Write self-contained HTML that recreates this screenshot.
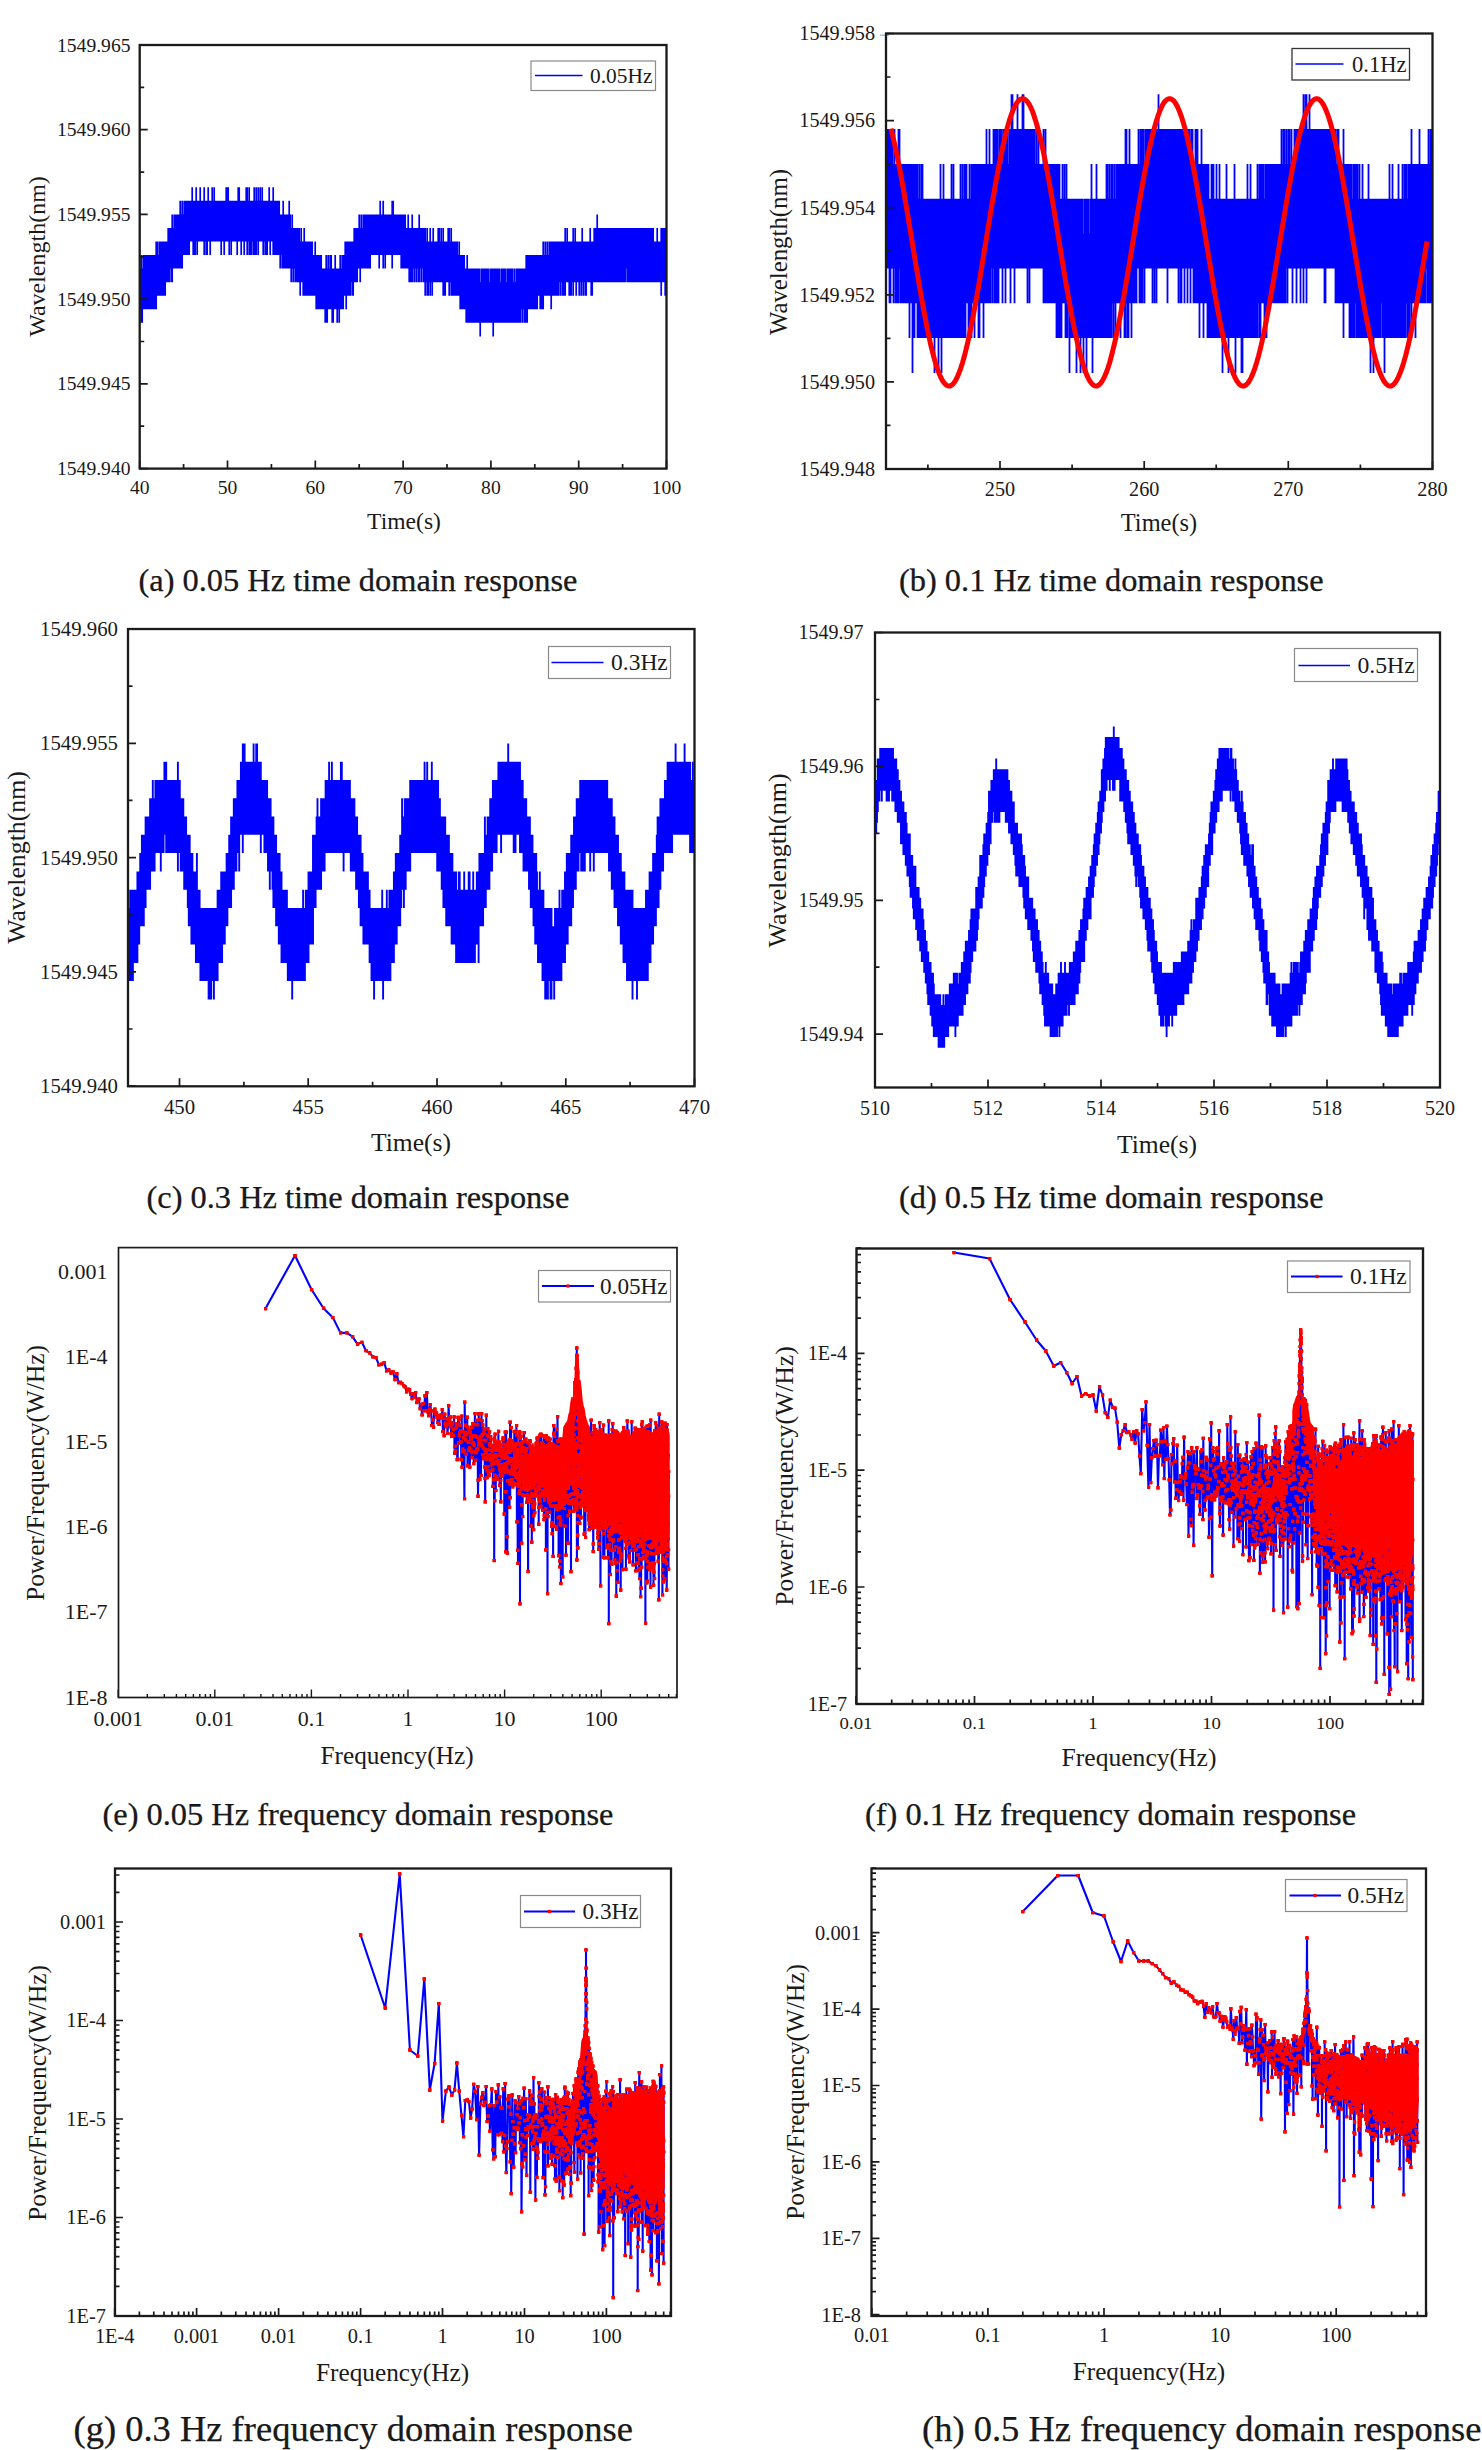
<!DOCTYPE html><html><head><meta charset="utf-8"><title>Time and frequency domain response</title>
<style>html,body{margin:0;padding:0;background:#fff}svg{display:block}text{font-family:"Liberation Serif",serif;fill:#1a1a1a}</style></head><body>
<svg width="1482" height="2450" viewBox="0 0 1482 2450">
<defs><marker id="mk" markerUnits="userSpaceOnUse" markerWidth="4" markerHeight="4" refX="1.9" refY="1.9" viewBox="0 0 4 4"><rect width="3.8" height="3.8" rx=".8" fill="#ff0000"/></marker></defs>
<rect width="1482" height="2450" fill="#fff"/>
<g id="panel-a">
<path d="M140.9 268.6V309.3M141.2 255.1V322.8M142.2 268.6V322.8M143.2 255.1V309.3M144.2 255.1V309.3M145.2 255.1V309.3M146.2 255.1V309.3M147.2 255.1V309.3M148.2 255.1V309.3M149.2 255.1V309.3M150.2 255.1V309.3M151.2 255.1V309.3M152.2 255.1V309.3M153.2 255.1V309.3M154.2 255.1V309.3M155.2 255.1V309.3M156.2 241.5V309.3M157.2 241.5V295.7M158.2 255.1V295.7M159.2 241.5V295.7M160.2 241.5V295.7M161.2 241.5V295.7M162.2 241.5V295.7M163.2 241.5V295.7M164.2 241.5V295.7M165.2 241.5V295.7M166.2 241.5V282.2M167.2 241.5V282.2M168.2 228V282.2M169.2 228V282.2M170.2 228V268.6M171.2 228V282.2M172.2 214.4V282.2M173.2 228V268.6M174.2 214.4V268.6M175.2 214.4V268.6M176.2 214.4V268.6M177.2 214.4V268.6M178.2 214.4V268.6M179.2 214.4V268.6M180.2 200.8V268.6M181.2 214.4V268.6M182.2 200.8V268.6M183.2 214.4V255.1M184.2 200.8V255.1M185.2 200.8V255.1M186.2 200.8V255.1M187.2 200.8V255.1M188.2 200.8V255.1M189.2 200.8V255.1M190.2 200.8V241.5M191.2 200.8V241.5M192.2 187.3V241.5M193.2 200.8V255.1M194.2 200.8V255.1M195.2 200.8V255.1M196.2 187.3V241.5M197.2 200.8V255.1M198.2 200.8V241.5M199.2 200.8V241.5M200.2 187.3V241.5M201.2 200.8V241.5M202.2 200.8V241.5M203.2 200.8V241.5M204.2 187.3V255.1M205.2 200.8V241.5M206.2 200.8V255.1M207.2 200.8V255.1M208.2 187.3V241.5M209.2 200.8V241.5M210.2 200.8V255.1M211.2 200.8V241.5M212.2 187.3V241.5M213.2 200.8V241.5M214.2 187.3V241.5M215.2 200.8V241.5M216.2 200.8V241.5M217.2 200.8V241.5M218.2 200.8V241.5M219.2 200.8V241.5M220.2 200.8V241.5M221.2 200.8V255.1M222.2 200.8V241.5M223.2 200.8V241.5M224.2 200.8V255.1M225.2 200.8V241.5M226.2 187.3V241.5M227.2 187.3V241.5M228.2 187.3V241.5M229.2 200.8V255.1M230.2 200.8V241.5M231.2 200.8V255.1M232.2 200.8V241.5M233.2 200.8V241.5M234.2 200.8V241.5M235.2 200.8V241.5M236.2 200.8V241.5M237.2 200.8V255.1M238.2 187.3V241.5M239.2 187.3V241.5M240.2 200.8V241.5M241.2 200.8V255.1M242.2 200.8V241.5M243.2 200.8V241.5M244.2 200.8V255.1M245.2 200.8V241.5M246.2 187.3V241.5M247.2 187.3V255.1M248.2 200.8V241.5M249.2 187.3V255.1M250.2 200.8V255.1M251.2 200.8V255.1M252.2 200.8V241.5M253.2 200.8V255.1M254.2 187.3V255.1M255.2 200.8V255.1M256.2 187.3V255.1M257.2 200.8V241.5M258.2 187.3V255.1M259.2 200.8V241.5M260.2 187.3V241.5M261.2 200.8V241.5M262.2 187.3V241.5M263.2 200.8V255.1M264.2 200.8V241.5M265.2 200.8V255.1M266.2 200.8V255.1M267.2 200.8V255.1M268.2 200.8V241.5M269.2 187.3V241.5M270.2 200.8V255.1M271.2 200.8V241.5M272.2 200.8V241.5M273.2 187.3V255.1M274.2 200.8V255.1M275.2 200.8V255.1M276.2 200.8V255.1M277.2 200.8V255.1M278.2 200.8V255.1M279.2 200.8V255.1M280.2 214.4V268.6M281.2 214.4V255.1M282.2 214.4V268.6M283.2 200.8V268.6M284.2 214.4V268.6M285.2 214.4V268.6M286.2 214.4V268.6M287.2 214.4V268.6M288.2 214.4V268.6M289.2 200.8V268.6M290.2 214.4V268.6M291.2 228V282.2M292.2 214.4V268.6M293.2 228V282.2M294.2 228V268.6M295.2 228V282.2M296.2 228V282.2M297.2 228V282.2M298.2 228V282.2M299.2 228V282.2M300.2 241.5V295.7M301.2 228V282.2M302.2 241.5V282.2M303.2 241.5V295.7M304.2 228V295.7M305.2 241.5V295.7M306.2 241.5V295.7M307.2 241.5V295.7M308.2 241.5V295.7M309.2 241.5V295.7M310.2 241.5V295.7M311.2 241.5V295.7M312.2 241.5V295.7M313.2 255.1V295.7M314.2 255.1V295.7M315.2 241.5V295.7M316.2 255.1V309.3M317.2 255.1V309.3M318.2 255.1V309.3M319.2 255.1V309.3M320.2 255.1V309.3M321.2 255.1V309.3M322.2 268.6V309.3M323.2 268.6V309.3M324.2 268.6V309.3M325.2 268.6V322.8M326.2 255.1V322.8M327.2 268.6V322.8M328.2 255.1V309.3M329.2 268.6V309.3M330.2 255.1V309.3M331.2 255.1V309.3M332.2 268.6V322.8M333.2 268.6V322.8M334.2 268.6V309.3M335.2 255.1V309.3M336.2 268.6V309.3M337.2 268.6V322.8M338.2 268.6V309.3M339.2 268.6V322.8M340.2 255.1V309.3M341.2 268.6V309.3M342.2 255.1V309.3M343.2 255.1V309.3M344.2 255.1V295.7M345.2 241.5V295.7M346.2 241.5V309.3M347.2 241.5V295.7M348.2 241.5V295.7M349.2 241.5V295.7M350.2 241.5V295.7M351.2 241.5V282.2M352.2 241.5V295.7M353.2 241.5V295.7M354.2 228V282.2M355.2 228V282.2M356.2 228V282.2M357.2 228V282.2M358.2 228V268.6M359.2 214.4V268.6M360.2 228V282.2M361.2 214.4V268.6M362.2 228V268.6M363.2 214.4V268.6M364.2 214.4V268.6M365.2 214.4V268.6M366.2 214.4V268.6M367.2 214.4V268.6M368.2 214.4V268.6M369.2 214.4V268.6M370.2 214.4V268.6M371.2 214.4V255.1M372.2 214.4V255.1M373.2 214.4V255.1M374.2 214.4V255.1M375.2 214.4V255.1M376.2 214.4V255.1M377.2 214.4V255.1M378.2 214.4V255.1M379.2 214.4V268.6M380.2 200.8V255.1M381.2 214.4V255.1M382.2 214.4V255.1M383.2 200.8V268.6M384.2 214.4V255.1M385.2 214.4V268.6M386.2 214.4V255.1M387.2 214.4V255.1M388.2 214.4V255.1M389.2 214.4V255.1M390.2 214.4V255.1M391.2 214.4V255.1M392.2 200.8V268.6M393.2 200.8V255.1M394.2 214.4V255.1M395.2 214.4V255.1M396.2 214.4V255.1M397.2 214.4V255.1M398.2 214.4V255.1M399.2 214.4V255.1M400.2 214.4V255.1M401.2 214.4V268.6M402.2 214.4V268.6M403.2 214.4V268.6M404.2 214.4V268.6M405.2 214.4V268.6M406.2 228V268.6M407.2 228V268.6M408.2 214.4V268.6M409.2 228V282.2M410.2 228V282.2M411.2 228V282.2M412.2 214.4V282.2M413.2 228V268.6M414.2 228V282.2M415.2 228V268.6M416.2 228V282.2M417.2 228V268.6M418.2 228V282.2M419.2 214.4V282.2M420.2 228V268.6M421.2 228V282.2M422.2 228V268.6M423.2 228V282.2M424.2 228V282.2M425.2 228V295.7M426.2 241.5V282.2M427.2 228V295.7M428.2 241.5V295.7M429.2 241.5V282.2M430.2 228V295.7M431.2 241.5V282.2M432.2 241.5V295.7M433.2 228V282.2M434.2 241.5V282.2M435.2 241.5V282.2M436.2 241.5V282.2M437.2 241.5V282.2M438.2 228V282.2M439.2 228V282.2M440.2 241.5V282.2M441.2 228V282.2M442.2 241.5V282.2M443.2 228V295.7M444.2 241.5V295.7M445.2 241.5V295.7M446.2 241.5V282.2M447.2 241.5V282.2M448.2 228V282.2M449.2 228V295.7M450.2 241.5V282.2M451.2 228V295.7M452.2 241.5V295.7M453.2 241.5V295.7M454.2 241.5V295.7M455.2 241.5V295.7M456.2 241.5V295.7M457.2 241.5V295.7M458.2 255.1V295.7M459.2 241.5V295.7M460.2 255.1V309.3M461.2 255.1V309.3M462.2 255.1V309.3M463.2 255.1V309.3M464.2 255.1V309.3M465.2 268.6V309.3M466.2 268.6V322.8M467.2 255.1V322.8M468.2 268.6V322.8M469.2 268.6V322.8M470.2 268.6V322.8M471.2 268.6V322.8M472.2 268.6V322.8M473.2 268.6V322.8M474.2 268.6V322.8M475.2 268.6V322.8M476.2 268.6V322.8M477.2 268.6V322.8M478.2 268.6V322.8M479.2 268.6V322.8M480.2 282.2V336.4M481.2 268.6V322.8M482.2 268.6V322.8M483.2 268.6V322.8M484.2 268.6V322.8M485.2 268.6V322.8M486.2 268.6V322.8M487.2 268.6V322.8M488.2 268.6V322.8M489.2 282.2V322.8M490.2 268.6V322.8M491.2 268.6V322.8M492.2 268.6V322.8M493.2 268.6V336.4M494.2 268.6V322.8M495.2 268.6V322.8M496.2 268.6V322.8M497.2 268.6V322.8M498.2 268.6V322.8M499.2 268.6V322.8M500.2 282.2V322.8M501.2 268.6V322.8M502.2 268.6V322.8M503.2 268.6V322.8M504.2 268.6V322.8M505.2 268.6V322.8M506.2 282.2V322.8M507.2 268.6V322.8M508.2 268.6V322.8M509.2 268.6V322.8M510.2 268.6V322.8M511.2 268.6V322.8M512.2 268.6V322.8M513.2 282.2V322.8M514.2 268.6V322.8M515.2 282.2V322.8M516.2 268.6V322.8M517.2 268.6V322.8M518.2 268.6V322.8M519.2 268.6V322.8M520.2 268.6V322.8M521.2 268.6V309.3M522.2 268.6V322.8M523.2 268.6V309.3M524.2 268.6V322.8M525.2 268.6V322.8M526.2 255.1V322.8M527.2 255.1V322.8M528.2 255.1V309.3M529.2 255.1V309.3M530.2 255.1V309.3M531.2 255.1V309.3M532.2 255.1V309.3M533.2 255.1V309.3M534.2 255.1V309.3M535.2 255.1V309.3M536.2 255.1V309.3M537.2 255.1V309.3M538.2 255.1V295.7M539.2 255.1V295.7M540.2 255.1V309.3M541.2 255.1V309.3M542.2 255.1V309.3M543.2 241.5V309.3M544.2 255.1V295.7M545.2 241.5V295.7M546.2 255.1V295.7M547.2 241.5V295.7M548.2 255.1V295.7M549.2 241.5V295.7M550.2 241.5V295.7M551.2 241.5V309.3M552.2 241.5V295.7M553.2 241.5V295.7M554.2 241.5V295.7M555.2 241.5V295.7M556.2 241.5V295.7M557.2 241.5V295.7M558.2 241.5V295.7M559.2 241.5V282.2M560.2 241.5V295.7M561.2 241.5V282.2M562.2 241.5V295.7M563.2 241.5V295.7M564.2 241.5V295.7M565.2 228V295.7M566.2 241.5V282.2M567.2 228V282.2M568.2 241.5V282.2M569.2 241.5V295.7M570.2 241.5V295.7M571.2 241.5V295.7M572.2 241.5V282.2M573.2 228V295.7M574.2 241.5V282.2M575.2 228V282.2M576.2 241.5V295.7M577.2 241.5V282.2M578.2 241.5V282.2M579.2 241.5V295.7M580.2 241.5V282.2M581.2 241.5V295.7M582.2 228V282.2M583.2 241.5V295.7M584.2 241.5V282.2M585.2 241.5V295.7M586.2 241.5V295.7M587.2 241.5V282.2M588.2 241.5V282.2M589.2 241.5V282.2M590.2 228V282.2M591.2 241.5V295.7M592.2 241.5V295.7M593.2 241.5V282.2M594.2 228V282.2M595.2 228V282.2M596.2 228V282.2M597.2 214.4V282.2M598.2 228V282.2M599.2 228V282.2M600.2 228V282.2M601.2 228V282.2M602.2 228V282.2M603.2 228V282.2M604.2 228V282.2M605.2 228V282.2M606.2 228V282.2M607.2 228V282.2M608.2 228V282.2M609.2 228V282.2M610.2 228V282.2M611.2 228V282.2M612.2 228V282.2M613.2 228V282.2M614.2 228V282.2M615.2 228V282.2M616.2 228V282.2M617.2 228V282.2M618.2 228V282.2M619.2 228V282.2M620.2 228V282.2M621.2 228V282.2M622.2 228V282.2M623.2 228V282.2M624.2 228V282.2M625.2 228V282.2M626.2 228V268.6M627.2 228V282.2M628.2 228V282.2M629.2 228V282.2M630.2 228V282.2M631.2 228V282.2M632.2 228V282.2M633.2 228V282.2M634.2 228V282.2M635.2 228V282.2M636.2 228V282.2M637.2 228V282.2M638.2 228V282.2M639.2 228V282.2M640.2 228V282.2M641.2 228V282.2M642.2 228V282.2M643.2 228V282.2M644.2 228V282.2M645.2 228V282.2M646.2 228V282.2M647.2 228V282.2M648.2 228V282.2M649.2 228V282.2M650.2 228V282.2M651.2 228V282.2M652.2 228V282.2M653.2 228V282.2M654.2 241.5V282.2M655.2 241.5V282.2M656.2 241.5V282.2M657.2 228V282.2M658.2 241.5V282.2M659.2 241.5V282.2M660.2 241.5V282.2M661.2 228V295.7M662.2 228V282.2M663.2 228V282.2M664.2 228V282.2M665.2 241.5V295.7M665.3 228V295.7" fill="none" stroke="#0000ff" stroke-width="1.7"/>
<g stroke="#1a1a1a" fill="none">
<path stroke-width="1.7" d="M139.7 468.6v-8M227.5 468.6v-8M315.3 468.6v-8M403.1 468.6v-8M490.9 468.6v-8M578.7 468.6v-8M666.5 468.6v-8M139.7 45h8M139.7 129.7h8M139.7 214.4h8M139.7 299.2h8M139.7 383.9h8M139.7 468.6h8"/>
<path stroke-width="1.7" d="M183.6 468.6v-4.5M271.4 468.6v-4.5M359.2 468.6v-4.5M447 468.6v-4.5M534.8 468.6v-4.5M622.6 468.6v-4.5M139.7 87.4h4.5M139.7 172.1h4.5M139.7 256.8h4.5M139.7 341.5h4.5M139.7 426.2h4.5"/>
<rect x="139.7" y="45" width="526.8" height="423.6" stroke-width="2.3"/>
</g>
<g font-size="19.6">
<text x="139.7" y="494.1" text-anchor="middle">40</text>
<text x="227.5" y="494.1" text-anchor="middle">50</text>
<text x="315.3" y="494.1" text-anchor="middle">60</text>
<text x="403.1" y="494.1" text-anchor="middle">70</text>
<text x="490.9" y="494.1" text-anchor="middle">80</text>
<text x="578.7" y="494.1" text-anchor="middle">90</text>
<text x="666.5" y="494.1" text-anchor="middle">100</text>
<text x="130.5" y="51.6" text-anchor="end">1549.965</text>
<text x="130.5" y="136.3" text-anchor="end">1549.960</text>
<text x="130.5" y="221" text-anchor="end">1549.955</text>
<text x="130.5" y="305.7" text-anchor="end">1549.950</text>
<text x="130.5" y="390.4" text-anchor="end">1549.945</text>
<text x="130.5" y="475.2" text-anchor="end">1549.940</text>
</g>
<text x="404" y="529.4" font-size="23.6" text-anchor="middle">Time(s)</text>
<text transform="translate(45 256.5) rotate(-90)" font-size="24" text-anchor="middle">Wavelength(nm)</text>
<text x="138.5" y="590.5" font-size="32.4" fill="#000" stroke="#000" stroke-width=".25">(a) 0.05 Hz time domain response</text>
<rect x="531" y="61" width="124.5" height="29.5" fill="#fff" stroke="#8a8a8a" stroke-width="1.2"/>
<path d="M535 75.5H582.5" stroke="#0000ff" stroke-width="1.5"/>
<text x="590" y="82.7" font-size="21.4">0.05Hz</text>
</g>
<g id="panel-b">
<path d="M887.2 129.1V268.5M887.5 129.1V268.5M888.5 129.1V268.5M889.5 129.1V303.3M890.5 129.1V303.3M891.5 129.1V268.5M892.5 129.1V268.5M893.5 164V303.3M894.5 129.1V268.5M895.5 164V303.3M896.5 164V303.3M897.5 164V303.3M898.5 129.1V303.3M899.5 129.1V268.5M900.5 164V303.3M901.5 164V303.3M902.5 164V303.3M903.5 164V303.3M904.5 164V303.3M905.5 164V303.3M906.5 164V303.3M907.5 164V303.3M908.5 164V303.3M909.5 164V338.1M910.5 164V303.3M911.5 164V303.3M912.5 164V373M913.5 164V338.1M914.5 164V338.1M915.5 164V303.3M916.5 164V303.3M917.5 164V338.1M918.5 198.8V338.1M919.5 164V338.1M920.5 198.8V338.1M921.5 164V338.1M922.5 164V338.1M923.5 198.8V338.1M924.5 198.8V338.1M925.5 198.8V338.1M926.5 198.8V338.1M927.5 198.8V338.1M928.5 198.8V338.1M929.5 198.8V338.1M930.5 198.8V338.1M931.5 198.8V338.1M932.5 198.8V338.1M933.5 198.8V338.1M934.5 198.8V373M935.5 198.8V338.1M936.5 198.8V338.1M937.5 198.8V338.1M938.5 198.8V373M939.5 198.8V338.1M940.5 164V338.1M941.5 198.8V373M942.5 198.8V338.1M943.5 164V338.1M944.5 198.8V338.1M945.5 198.8V338.1M946.5 198.8V338.1M947.5 198.8V338.1M948.5 198.8V338.1M949.5 198.8V338.1M950.5 198.8V338.1M951.5 164V338.1M952.5 198.8V338.1M953.5 164V338.1M954.5 198.8V338.1M955.5 198.8V338.1M956.5 198.8V338.1M957.5 198.8V338.1M958.5 198.8V338.1M959.5 198.8V338.1M960.5 164V338.1M961.5 198.8V338.1M962.5 164V338.1M963.5 198.8V338.1M964.5 164V338.1M965.5 164V338.1M966.5 164V303.3M967.5 198.8V303.3M968.5 198.8V338.1M969.5 164V338.1M970.5 198.8V338.1M971.5 164V338.1M972.5 164V303.3M973.5 164V303.3M974.5 164V338.1M975.5 164V303.3M976.5 164V303.3M977.5 164V303.3M978.5 164V338.1M979.5 164V338.1M980.5 164V303.3M981.5 164V303.3M982.5 164V303.3M983.5 164V338.1M984.5 164V303.3M985.5 164V303.3M986.5 129.1V303.3M987.5 164V303.3M988.5 164V303.3M989.5 129.1V303.3M990.5 164V303.3M991.5 164V268.5M992.5 164V303.3M993.5 129.1V268.5M994.5 129.1V303.3M995.5 129.1V303.3M996.5 129.1V303.3M997.5 129.1V303.3M998.5 164V303.3M999.5 129.1V268.5M1000.5 129.1V268.5M1001.5 129.1V268.5M1002.5 164V303.3M1003.5 129.1V268.5M1004.5 129.1V268.5M1005.5 129.1V303.3M1006.5 129.1V268.5M1007.5 129.1V268.5M1008.5 164V268.5M1009.5 129.1V268.5M1010.5 129.1V303.3M1011.5 94.3V268.5M1012.5 94.3V268.5M1013.5 129.1V268.5M1014.5 129.1V303.3M1015.5 129.1V268.5M1016.5 129.1V268.5M1017.5 94.3V268.5M1018.5 129.1V268.5M1019.5 129.1V268.5M1020.5 129.1V268.5M1021.5 129.1V268.5M1022.5 94.3V268.5M1023.5 94.3V268.5M1024.5 129.1V268.5M1025.5 129.1V268.5M1026.5 129.1V268.5M1027.5 129.1V303.3M1028.5 129.1V268.5M1029.5 129.1V303.3M1030.5 129.1V268.5M1031.5 129.1V268.5M1032.5 129.1V268.5M1033.5 129.1V268.5M1034.5 129.1V268.5M1035.5 164V268.5M1036.5 129.1V268.5M1037.5 164V268.5M1038.5 129.1V268.5M1039.5 164V268.5M1040.5 164V268.5M1041.5 164V268.5M1042.5 164V268.5M1043.5 129.1V303.3M1044.5 164V303.3M1045.5 129.1V303.3M1046.5 164V303.3M1047.5 164V303.3M1048.5 164V303.3M1049.5 164V303.3M1050.5 164V303.3M1051.5 164V303.3M1052.5 164V303.3M1053.5 164V303.3M1054.5 164V303.3M1055.5 164V303.3M1056.5 164V338.1M1057.5 164V338.1M1058.5 164V338.1M1059.5 164V338.1M1060.5 198.8V338.1M1061.5 198.8V338.1M1062.5 164V303.3M1063.5 198.8V303.3M1064.5 164V303.3M1065.5 198.8V338.1M1066.5 164V338.1M1067.5 198.8V338.1M1068.5 198.8V303.3M1069.5 198.8V373M1070.5 198.8V338.1M1071.5 198.8V338.1M1072.5 198.8V338.1M1073.5 198.8V338.1M1074.5 198.8V338.1M1075.5 198.8V338.1M1076.5 198.8V373M1077.5 198.8V338.1M1078.5 198.8V338.1M1079.5 198.8V338.1M1080.5 198.8V373M1081.5 198.8V338.1M1082.5 198.8V338.1M1083.5 233.6V373M1084.5 198.8V338.1M1085.5 198.8V338.1M1086.5 198.8V373M1087.5 198.8V338.1M1088.5 198.8V338.1M1089.5 233.6V338.1M1090.5 198.8V338.1M1091.5 164V338.1M1092.5 198.8V373M1093.5 198.8V338.1M1094.5 198.8V338.1M1095.5 198.8V338.1M1096.5 164V338.1M1097.5 198.8V338.1M1098.5 198.8V338.1M1099.5 198.8V338.1M1100.5 198.8V338.1M1101.5 198.8V338.1M1102.5 198.8V338.1M1103.5 198.8V338.1M1104.5 198.8V338.1M1105.5 198.8V338.1M1106.5 164V338.1M1107.5 164V338.1M1108.5 198.8V338.1M1109.5 164V338.1M1110.5 198.8V338.1M1111.5 164V338.1M1112.5 164V303.3M1113.5 198.8V338.1M1114.5 164V303.3M1115.5 198.8V338.1M1116.5 164V303.3M1117.5 164V303.3M1118.5 164V303.3M1119.5 164V303.3M1120.5 164V338.1M1121.5 164V303.3M1122.5 164V303.3M1123.5 164V303.3M1124.5 164V338.1M1125.5 129.1V338.1M1126.5 129.1V303.3M1127.5 164V338.1M1128.5 164V338.1M1129.5 129.1V303.3M1130.5 164V303.3M1131.5 164V338.1M1132.5 164V303.3M1133.5 164V303.3M1134.5 164V303.3M1135.5 164V303.3M1136.5 164V303.3M1137.5 164V268.5M1138.5 129.1V268.5M1139.5 164V303.3M1140.5 129.1V303.3M1141.5 129.1V303.3M1142.5 129.1V303.3M1143.5 129.1V268.5M1144.5 164V303.3M1145.5 129.1V268.5M1146.5 129.1V268.5M1147.5 129.1V268.5M1148.5 129.1V268.5M1149.5 129.1V268.5M1150.5 129.1V268.5M1151.5 129.1V268.5M1152.5 129.1V303.3M1153.5 129.1V268.5M1154.5 129.1V303.3M1155.5 129.1V268.5M1156.5 129.1V303.3M1157.5 129.1V268.5M1158.5 94.3V268.5M1159.5 129.1V268.5M1160.5 129.1V268.5M1161.5 129.1V268.5M1162.5 129.1V268.5M1163.5 129.1V268.5M1164.5 129.1V268.5M1165.5 129.1V268.5M1166.5 129.1V268.5M1167.5 129.1V303.3M1168.5 129.1V268.5M1169.5 129.1V268.5M1170.5 129.1V268.5M1171.5 129.1V268.5M1172.5 129.1V268.5M1173.5 129.1V268.5M1174.5 129.1V268.5M1175.5 129.1V268.5M1176.5 129.1V268.5M1177.5 129.1V268.5M1178.5 129.1V303.3M1179.5 129.1V268.5M1180.5 129.1V303.3M1181.5 129.1V303.3M1182.5 129.1V268.5M1183.5 129.1V268.5M1184.5 129.1V303.3M1185.5 129.1V268.5M1186.5 129.1V268.5M1187.5 129.1V303.3M1188.5 129.1V268.5M1189.5 129.1V268.5M1190.5 164V303.3M1191.5 129.1V268.5M1192.5 129.1V268.5M1193.5 164V303.3M1194.5 164V303.3M1195.5 129.1V303.3M1196.5 129.1V303.3M1197.5 129.1V303.3M1198.5 164V303.3M1199.5 164V338.1M1200.5 164V303.3M1201.5 129.1V303.3M1202.5 164V303.3M1203.5 164V338.1M1204.5 164V303.3M1205.5 164V303.3M1206.5 164V303.3M1207.5 164V338.1M1208.5 164V338.1M1209.5 198.8V338.1M1210.5 198.8V338.1M1211.5 164V338.1M1212.5 164V338.1M1213.5 164V338.1M1214.5 198.8V338.1M1215.5 198.8V338.1M1216.5 164V338.1M1217.5 198.8V338.1M1218.5 198.8V338.1M1219.5 164V338.1M1220.5 198.8V338.1M1221.5 198.8V338.1M1222.5 198.8V373M1223.5 198.8V338.1M1224.5 198.8V338.1M1225.5 198.8V338.1M1226.5 164V338.1M1227.5 198.8V338.1M1228.5 198.8V373M1229.5 198.8V338.1M1230.5 198.8V338.1M1231.5 198.8V338.1M1232.5 198.8V338.1M1233.5 198.8V338.1M1234.5 164V338.1M1235.5 198.8V373M1236.5 198.8V338.1M1237.5 198.8V338.1M1238.5 198.8V338.1M1239.5 198.8V338.1M1240.5 198.8V338.1M1241.5 198.8V373M1242.5 198.8V373M1243.5 198.8V338.1M1244.5 198.8V338.1M1245.5 198.8V338.1M1246.5 198.8V338.1M1247.5 164V338.1M1248.5 198.8V338.1M1249.5 198.8V338.1M1250.5 164V338.1M1251.5 198.8V338.1M1252.5 198.8V338.1M1253.5 198.8V338.1M1254.5 198.8V338.1M1255.5 198.8V338.1M1256.5 198.8V338.1M1257.5 164V338.1M1258.5 198.8V303.3M1259.5 164V338.1M1260.5 164V338.1M1261.5 164V303.3M1262.5 164V303.3M1263.5 164V303.3M1264.5 198.8V338.1M1265.5 164V338.1M1266.5 164V338.1M1267.5 164V303.3M1268.5 164V303.3M1269.5 164V303.3M1270.5 164V303.3M1271.5 164V303.3M1272.5 164V303.3M1273.5 164V303.3M1274.5 164V303.3M1275.5 164V303.3M1276.5 164V303.3M1277.5 164V303.3M1278.5 164V303.3M1279.5 164V303.3M1280.5 164V303.3M1281.5 129.1V303.3M1282.5 164V303.3M1283.5 129.1V303.3M1284.5 129.1V303.3M1285.5 164V303.3M1286.5 129.1V268.5M1287.5 164V303.3M1288.5 129.1V268.5M1289.5 129.1V268.5M1290.5 164V268.5M1291.5 129.1V268.5M1292.5 164V303.3M1293.5 164V268.5M1294.5 129.1V268.5M1295.5 129.1V268.5M1296.5 129.1V303.3M1297.5 129.1V268.5M1298.5 129.1V268.5M1299.5 129.1V268.5M1300.5 129.1V303.3M1301.5 129.1V268.5M1302.5 129.1V268.5M1303.5 94.3V303.3M1304.5 129.1V268.5M1305.5 94.3V268.5M1306.5 94.3V303.3M1307.5 129.1V268.5M1308.5 129.1V268.5M1309.5 94.3V268.5M1310.5 129.1V268.5M1311.5 129.1V268.5M1312.5 129.1V268.5M1313.5 129.1V268.5M1314.5 129.1V268.5M1315.5 129.1V268.5M1316.5 129.1V268.5M1317.5 129.1V268.5M1318.5 129.1V268.5M1319.5 129.1V268.5M1320.5 129.1V268.5M1321.5 129.1V268.5M1322.5 129.1V268.5M1323.5 129.1V268.5M1324.5 129.1V303.3M1325.5 129.1V303.3M1326.5 129.1V268.5M1327.5 129.1V268.5M1328.5 129.1V268.5M1329.5 129.1V268.5M1330.5 129.1V268.5M1331.5 129.1V268.5M1332.5 129.1V268.5M1333.5 129.1V268.5M1334.5 129.1V268.5M1335.5 129.1V303.3M1336.5 164V303.3M1337.5 129.1V303.3M1338.5 129.1V303.3M1339.5 164V303.3M1340.5 164V303.3M1341.5 164V303.3M1342.5 164V303.3M1343.5 129.1V338.1M1344.5 164V303.3M1345.5 164V303.3M1346.5 164V303.3M1347.5 164V303.3M1348.5 164V303.3M1349.5 164V338.1M1350.5 164V338.1M1351.5 164V338.1M1352.5 198.8V338.1M1353.5 164V338.1M1354.5 164V338.1M1355.5 164V303.3M1356.5 164V338.1M1357.5 164V338.1M1358.5 198.8V338.1M1359.5 164V338.1M1360.5 198.8V338.1M1361.5 198.8V338.1M1362.5 164V338.1M1363.5 198.8V338.1M1364.5 198.8V338.1M1365.5 198.8V338.1M1366.5 198.8V338.1M1367.5 198.8V338.1M1368.5 164V338.1M1369.5 198.8V338.1M1370.5 198.8V373M1371.5 198.8V338.1M1372.5 198.8V338.1M1373.5 198.8V373M1374.5 198.8V338.1M1375.5 198.8V338.1M1376.5 198.8V338.1M1377.5 198.8V338.1M1378.5 198.8V338.1M1379.5 198.8V338.1M1380.5 198.8V338.1M1381.5 198.8V303.3M1382.5 198.8V338.1M1383.5 198.8V338.1M1384.5 198.8V373M1385.5 198.8V338.1M1386.5 198.8V338.1M1387.5 198.8V338.1M1388.5 198.8V338.1M1389.5 164V338.1M1390.5 198.8V338.1M1391.5 198.8V338.1M1392.5 164V338.1M1393.5 198.8V338.1M1394.5 198.8V338.1M1395.5 198.8V338.1M1396.5 198.8V338.1M1397.5 198.8V338.1M1398.5 164V338.1M1399.5 198.8V338.1M1400.5 198.8V338.1M1401.5 198.8V338.1M1402.5 164V338.1M1403.5 198.8V338.1M1404.5 164V338.1M1405.5 164V338.1M1406.5 164V303.3M1407.5 198.8V338.1M1408.5 164V338.1M1409.5 164V338.1M1410.5 164V303.3M1411.5 129.1V338.1M1412.5 164V303.3M1413.5 164V303.3M1414.5 164V303.3M1415.5 164V338.1M1416.5 164V303.3M1417.5 164V303.3M1418.5 164V303.3M1419.5 129.1V303.3M1420.5 164V303.3M1421.5 164V303.3M1422.5 164V303.3M1423.5 164V303.3M1424.5 164V303.3M1425.5 164V303.3M1426.5 164V268.5M1427.5 164V303.3M1428.5 129.1V303.3M1429.5 164V303.3M1430.5 129.1V303.3M1431.3 129.1V268.5M1431.3 129.1V303.3" fill="none" stroke="#0000ff" stroke-width="1.8"/>
<path d="M890.9 128.7 L892.7 135.8 L894.5 143.5 L896.3 151.8 L898.1 160.6 L899.9 169.9 L901.7 179.6 L903.5 189.7 L905.2 200 L907 210.7 L908.8 221.5 L910.6 232.4 L912.4 243.5 L914.2 254.5 L916 265.4 L917.8 276.2 L919.6 286.8 L921.4 297.1 L923.2 307.1 L925 316.7 L926.8 325.9 L928.6 334.6 L930.3 342.8 L932.1 350.4 L933.9 357.3 L935.7 363.6 L937.5 369.1 L939.3 373.9 L941.1 378 L942.9 381.2 L944.7 383.6 L946.5 385.2 L948.3 386 L950.1 385.9 L951.9 385 L953.7 383.2 L955.5 380.6 L957.2 377.2 L959 373 L960.8 368.1 L962.6 362.4 L964.4 356 L966.2 348.9 L968 341.2 L969.8 332.9 L971.6 324.1 L973.4 314.8 L975.2 305.1 L977 295.1 L978.8 284.7 L980.6 274 L982.3 263.2 L984.1 252.3 L985.9 241.3 L987.7 230.3 L989.5 219.3 L991.3 208.5 L993.1 198 L994.9 187.6 L996.7 177.6 L998.5 168 L1000.3 158.8 L1002.1 150.1 L1003.9 141.9 L1005.7 134.3 L1007.4 127.4 L1009.2 121.1 L1011 115.6 L1012.8 110.8 L1014.6 106.7 L1016.4 103.5 L1018.2 101.1 L1020 99.5 L1021.8 98.7 L1023.6 98.8 L1025.4 99.7 L1027.2 101.5 L1029 104 L1030.8 107.4 L1032.6 111.6 L1034.3 116.6 L1036.1 122.3 L1037.9 128.7 L1039.7 135.8 L1041.5 143.4 L1043.3 151.7 L1045.1 160.5 L1046.9 169.8 L1048.7 179.5 L1050.5 189.6 L1052.3 200 L1054.1 210.6 L1055.9 221.4 L1057.7 232.4 L1059.4 243.4 L1061.2 254.4 L1063 265.3 L1064.8 276.1 L1066.6 286.7 L1068.4 297 L1070.2 307 L1072 316.7 L1073.8 325.9 L1075.6 334.6 L1077.4 342.7 L1079.2 350.3 L1081 357.3 L1082.8 363.5 L1084.6 369.1 L1086.3 373.9 L1088.1 377.9 L1089.9 381.2 L1091.7 383.6 L1093.5 385.2 L1095.3 386 L1097.1 385.9 L1098.9 385 L1100.7 383.2 L1102.5 380.6 L1104.3 377.2 L1106.1 373.1 L1107.9 368.1 L1109.7 362.4 L1111.4 356 L1113.2 348.9 L1115 341.3 L1116.8 333 L1118.6 324.2 L1120.4 314.9 L1122.2 305.2 L1124 295.1 L1125.8 284.7 L1127.6 274.1 L1129.4 263.3 L1131.2 252.3 L1133 241.3 L1134.8 230.3 L1136.5 219.4 L1138.3 208.6 L1140.1 198 L1141.9 187.7 L1143.7 177.7 L1145.5 168 L1147.3 158.8 L1149.1 150.1 L1150.9 142 L1152.7 134.4 L1154.5 127.4 L1156.3 121.2 L1158.1 115.6 L1159.9 110.8 L1161.7 106.7 L1163.4 103.5 L1165.2 101.1 L1167 99.5 L1168.8 98.7 L1170.6 98.8 L1172.4 99.7 L1174.2 101.4 L1176 104 L1177.8 107.4 L1179.6 111.6 L1181.4 116.6 L1183.2 122.3 L1185 128.6 L1186.8 135.7 L1188.5 143.4 L1190.3 151.7 L1192.1 160.5 L1193.9 169.8 L1195.7 179.5 L1197.5 189.5 L1199.3 199.9 L1201.1 210.6 L1202.9 221.4 L1204.7 232.3 L1206.5 243.3 L1208.3 254.3 L1210.1 265.2 L1211.9 276 L1213.6 286.6 L1215.4 297 L1217.2 307 L1219 316.6 L1220.8 325.8 L1222.6 334.5 L1224.4 342.7 L1226.2 350.3 L1228 357.2 L1229.8 363.5 L1231.6 369.1 L1233.4 373.9 L1235.2 377.9 L1237 381.2 L1238.8 383.6 L1240.5 385.2 L1242.3 386 L1244.1 385.9 L1245.9 385 L1247.7 383.2 L1249.5 380.7 L1251.3 377.3 L1253.1 373.1 L1254.9 368.1 L1256.7 362.4 L1258.5 356.1 L1260.3 349 L1262.1 341.3 L1263.9 333 L1265.6 324.2 L1267.4 315 L1269.2 305.3 L1271 295.2 L1272.8 284.8 L1274.6 274.2 L1276.4 263.3 L1278.2 252.4 L1280 241.4 L1281.8 230.4 L1283.6 219.5 L1285.4 208.7 L1287.2 198.1 L1289 187.7 L1290.8 177.7 L1292.5 168.1 L1294.3 158.9 L1296.1 150.2 L1297.9 142 L1299.7 134.4 L1301.5 127.5 L1303.3 121.2 L1305.1 115.6 L1306.9 110.8 L1308.7 106.8 L1310.5 103.5 L1312.3 101.1 L1314.1 99.5 L1315.9 98.7 L1317.6 98.8 L1319.4 99.7 L1321.2 101.4 L1323 104 L1324.8 107.4 L1326.6 111.6 L1328.4 116.5 L1330.2 122.2 L1332 128.6 L1333.8 135.7 L1335.6 143.4 L1337.4 151.6 L1339.2 160.4 L1341 169.7 L1342.7 179.4 L1344.5 189.5 L1346.3 199.9 L1348.1 210.5 L1349.9 221.3 L1351.7 232.3 L1353.5 243.3 L1355.3 254.3 L1357.1 265.2 L1358.9 276 L1360.7 286.6 L1362.5 296.9 L1364.3 306.9 L1366.1 316.6 L1367.9 325.8 L1369.6 334.5 L1371.4 342.7 L1373.2 350.2 L1375 357.2 L1376.8 363.5 L1378.6 369 L1380.4 373.8 L1382.2 377.9 L1384 381.2 L1385.8 383.6 L1387.6 385.2 L1389.4 386 L1391.2 385.9 L1393 385 L1394.7 383.3 L1396.5 380.7 L1398.3 377.3 L1400.1 373.1 L1401.9 368.2 L1403.7 362.5 L1405.5 356.1 L1407.3 349 L1409.1 341.4 L1410.9 333.1 L1412.7 324.3 L1414.5 315 L1416.3 305.3 L1418.1 295.2 L1419.8 284.9 L1421.6 274.2 L1423.4 263.4 L1425.2 252.5 L1427 241.5" fill="none" stroke="#ff0000" stroke-width="5" stroke-linecap="butt" stroke-linejoin="round"/>
<path d="M880 35.2h9" stroke="#8fb4e8" stroke-width="1.2"/>
<g stroke="#1a1a1a" fill="none">
<path stroke-width="1.7" d="M1000 469v-8M1144.2 469v-8M1288.3 469v-8M1432.5 469v-8M886 33.5h8M886 120.6h8M886 207.7h8M886 294.8h8M886 381.9h8M886 469h8"/>
<path stroke-width="1.7" d="M927.9 469v-4.5M1072.1 469v-4.5M1216.2 469v-4.5M1360.4 469v-4.5M886 77h4.5M886 164.1h4.5M886 251.2h4.5M886 338.3h4.5M886 425.4h4.5"/>
<rect x="886" y="33.5" width="546.5" height="435.5" stroke-width="2.3"/>
</g>
<g font-size="20.2">
<text x="1000" y="495.8" text-anchor="middle">250</text>
<text x="1144.2" y="495.8" text-anchor="middle">260</text>
<text x="1288.3" y="495.8" text-anchor="middle">270</text>
<text x="1432.5" y="495.8" text-anchor="middle">280</text>
<text x="875" y="40.3" text-anchor="end">1549.958</text>
<text x="875" y="127.4" text-anchor="end">1549.956</text>
<text x="875" y="214.5" text-anchor="end">1549.954</text>
<text x="875" y="301.6" text-anchor="end">1549.952</text>
<text x="875" y="388.7" text-anchor="end">1549.950</text>
<text x="875" y="475.8" text-anchor="end">1549.948</text>
</g>
<text x="1159" y="531.1" font-size="24.4" text-anchor="middle">Time(s)</text>
<text transform="translate(787.2 252) rotate(-90)" font-size="24.8" text-anchor="middle">Wavelength(nm)</text>
<text x="899" y="590.5" font-size="32.4" fill="#000" stroke="#000" stroke-width=".25">(b) 0.1 Hz time domain response</text>
<rect x="1292" y="48.5" width="117.5" height="31.5" fill="#fff" stroke="#333" stroke-width="1.3"/>
<path d="M1295.5 64H1343.5" stroke="#0000ff" stroke-width="1.5"/>
<text x="1352" y="71.6" font-size="22.6">0.1Hz</text>
</g>
<g id="panel-c">
<path d="M129.2 908V981.1M129.3 908V981.1M130.2 889.7V981.1M131.2 889.7V981.1M132.1 908V981.1M132.9 889.7V981.1M133.8 889.7V962.9M134.8 908V962.9M135.7 889.7V962.9M136.6 889.7V962.9M137.4 871.4V962.9M138.3 871.4V944.6M139.2 871.4V944.6M140.2 853.1V926.3M141.1 853.1V926.3M141.9 834.8V926.3M142.8 853.1V908M143.8 834.8V926.3M144.7 834.8V908M145.6 816.6V908M146.4 816.6V889.7M147.3 816.6V889.7M148.2 816.6V889.7M149.2 816.6V871.4M150.1 798.3V889.7M150.9 798.3V871.4M151.8 798.3V871.4M152.8 780V871.4M153.7 798.3V871.4M154.6 798.3V871.4M155.4 780V853.1M156.3 780V853.1M157.2 780V853.1M158.2 780V853.1M159.1 780V853.1M159.9 780V853.1M160.8 780V871.4M161.8 780V853.1M162.7 780V853.1M163.6 780V853.1M164.4 761.7V834.8M165.3 780V834.8M166.2 761.7V853.1M167.2 780V853.1M168.1 780V853.1M168.9 780V853.1M169.8 780V853.1M170.8 780V853.1M171.7 780V834.8M172.6 780V853.1M173.4 780V853.1M174.3 780V853.1M175.2 780V853.1M176.2 780V853.1M177.1 780V853.1M177.9 761.7V871.4M178.8 780V853.1M179.8 780V853.1M180.7 798.3V871.4M181.6 798.3V871.4M182.4 798.3V871.4M183.3 798.3V871.4M184.2 816.6V889.7M185.2 816.6V889.7M186.1 816.6V889.7M186.9 834.8V889.7M187.8 834.8V908M188.8 834.8V926.3M189.7 834.8V908M190.6 853.1V926.3M191.4 853.1V944.6M192.4 853.1V944.6M193.2 871.4V944.6M194.2 871.4V944.6M195.1 871.4V944.6M195.9 871.4V962.9M196.9 853.1V944.6M197.8 889.7V962.9M198.7 889.7V962.9M199.6 889.7V962.9M200.4 908V981.1M201.4 908V981.1M202.2 908V981.1M203.2 908V981.1M204.1 908V981.1M204.9 908V981.1M205.9 908V981.1M206.8 908V981.1M207.7 908V981.1M208.6 908V999.4M209.4 908V999.4M210.4 908V981.1M211.2 908V999.4M212.2 926.3V981.1M213.1 908V981.1M213.9 908V999.4M214.9 908V981.1M215.8 908V981.1M216.7 908V981.1M217.6 889.7V981.1M218.4 889.7V962.9M219.4 889.7V962.9M220.2 889.7V962.9M221.2 871.4V962.9M222.1 871.4V962.9M222.9 871.4V944.6M223.9 871.4V944.6M224.8 871.4V944.6M225.7 871.4V926.3M226.6 853.1V926.3M227.4 853.1V926.3M228.4 853.1V908M229.2 834.8V908M230.2 834.8V889.7M231.1 816.6V908M231.9 816.6V889.7M232.9 816.6V889.7M233.8 798.3V889.7M234.7 798.3V871.4M235.6 798.3V853.1M236.4 798.3V871.4M237.4 780V853.1M238.2 780V853.1M239.2 780V871.4M240.1 780V834.8M240.9 761.7V834.8M241.9 780V834.8M242.8 743.4V853.1M243.7 761.7V834.8M244.6 743.4V834.8M245.4 761.7V834.8M246.4 761.7V834.8M247.2 761.7V834.8M248.2 780V834.8M249.1 761.7V834.8M249.9 761.7V834.8M250.9 761.7V834.8M251.8 761.7V834.8M252.7 761.7V834.8M253.6 743.4V816.6M254.4 761.7V834.8M255.4 761.7V834.8M256.2 743.4V834.8M257.1 743.4V834.8M258.1 761.7V834.8M259 780V816.6M259.9 761.7V834.8M260.8 761.7V853.1M261.6 780V834.8M262.6 780V834.8M263.5 780V834.8M264.4 780V853.1M265.2 780V853.1M266.1 780V853.1M267.1 780V853.1M268 798.3V871.4M268.9 798.3V871.4M269.8 798.3V889.7M270.6 798.3V871.4M271.6 816.6V871.4M272.5 816.6V889.7M273.4 816.6V908M274.2 834.8V908M275.1 834.8V908M276.1 834.8V926.3M277 853.1V926.3M277.9 853.1V926.3M278.8 853.1V944.6M279.6 853.1V944.6M280.6 871.4V944.6M281.5 871.4V962.9M282.4 889.7V944.6M283.2 889.7V962.9M284.1 889.7V962.9M285.1 889.7V962.9M286 908V962.9M286.9 889.7V962.9M287.8 908V981.1M288.6 908V981.1M289.6 908V981.1M290.5 908V962.9M291.4 908V981.1M292.2 908V999.4M293.1 908V981.1M294.1 908V981.1M295 926.3V981.1M295.9 908V981.1M296.8 908V981.1M297.6 908V981.1M298.6 908V981.1M299.5 908V981.1M300.4 908V962.9M301.2 908V981.1M302.1 908V981.1M303.1 889.7V981.1M304 908V981.1M304.9 908V981.1M305.8 889.7V962.9M306.6 889.7V962.9M307.6 889.7V962.9M308.5 871.4V962.9M309.4 871.4V944.6M310.2 871.4V926.3M311.1 871.4V944.6M312.1 871.4V944.6M313 834.8V944.6M313.9 834.8V908M314.8 834.8V908M315.6 834.8V908M316.6 816.6V889.7M317.5 798.3V889.7M318.4 816.6V889.7M319.2 816.6V889.7M320.1 816.6V889.7M321.1 798.3V889.7M322 798.3V853.1M322.9 798.3V871.4M323.8 798.3V853.1M324.6 798.3V871.4M325.6 780V853.1M326.5 780V853.1M327.4 780V853.1M328.2 780V853.1M329.1 761.7V853.1M330.1 780V853.1M331 780V853.1M331.9 761.7V853.1M332.8 780V853.1M333.6 780V853.1M334.6 780V853.1M335.5 780V853.1M336.4 780V853.1M337.2 780V853.1M338.1 780V853.1M339.1 780V853.1M340 780V853.1M340.9 761.7V853.1M341.8 761.7V853.1M342.6 780V853.1M343.6 780V871.4M344.5 780V853.1M345.4 780V853.1M346.2 780V853.1M347.1 780V853.1M348.1 780V834.8M349 780V853.1M349.9 780V853.1M350.8 798.3V871.4M351.6 798.3V853.1M352.6 798.3V871.4M353.5 798.3V871.4M354.4 798.3V871.4M355.2 816.6V871.4M356.1 816.6V889.7M357.1 816.6V889.7M358 834.8V889.7M358.9 834.8V908M359.8 834.8V908M360.6 834.8V926.3M361.6 853.1V908M362.5 853.1V926.3M363.4 871.4V944.6M364.2 871.4V926.3M365.1 871.4V944.6M366.1 889.7V944.6M367 871.4V944.6M367.9 871.4V944.6M368.8 889.7V944.6M369.6 889.7V962.9M370.6 908V962.9M371.5 908V981.1M372.4 908V981.1M373.2 908V981.1M374.1 908V999.4M375.1 908V981.1M376 908V981.1M376.9 908V981.1M377.8 908V981.1M378.6 908V981.1M379.6 908V981.1M380.5 908V981.1M381.4 908V981.1M382.2 889.7V981.1M383.1 908V999.4M384.1 908V981.1M384.9 926.3V981.1M385.9 908V981.1M386.8 889.7V981.1M387.7 908V981.1M388.6 908V981.1M389.4 889.7V962.9M390.4 889.7V981.1M391.2 889.7V962.9M392.2 889.7V962.9M393.1 889.7V962.9M393.9 871.4V962.9M394.9 871.4V944.6M395.8 853.1V944.6M396.7 871.4V944.6M397.6 853.1V926.3M398.4 853.1V926.3M399.4 853.1V926.3M400.2 834.8V926.3M401.2 834.8V908M402.1 798.3V889.7M402.9 834.8V889.7M403.9 816.6V908M404.8 798.3V871.4M405.7 816.6V889.7M406.6 798.3V871.4M407.4 798.3V871.4M408.4 798.3V871.4M409.2 798.3V871.4M410.2 780V871.4M411.1 780V853.1M411.9 780V853.1M412.9 780V853.1M413.8 780V853.1M414.7 780V853.1M415.6 780V853.1M416.4 780V853.1M417.4 780V853.1M418.2 780V853.1M419.2 780V853.1M420.1 780V853.1M420.9 780V853.1M421.9 780V853.1M422.8 780V853.1M423.7 780V853.1M424.6 761.7V853.1M425.4 780V853.1M426.4 780V853.1M427.2 761.7V853.1M428.2 780V853.1M429.1 780V853.1M429.9 780V853.1M430.9 780V853.1M431.8 761.7V853.1M432.7 780V853.1M433.6 780V853.1M434.4 780V853.1M435.4 798.3V853.1M436.2 780V853.1M437.2 780V871.4M438.1 780V853.1M438.9 816.6V871.4M439.9 798.3V871.4M440.8 816.6V871.4M441.7 816.6V889.7M442.6 816.6V889.7M443.4 816.6V908M444.4 816.6V908M445.2 816.6V889.7M446.2 834.8V926.3M447.1 834.8V926.3M447.9 853.1V926.3M448.9 834.8V926.3M449.8 853.1V926.3M450.7 853.1V926.3M451.6 853.1V944.6M452.4 853.1V944.6M453.4 871.4V944.6M454.2 871.4V944.6M455.2 871.4V944.6M456.1 871.4V962.9M456.9 889.7V962.9M457.9 889.7V962.9M458.8 871.4V962.9M459.7 871.4V962.9M460.6 889.7V962.9M461.4 889.7V962.9M462.4 889.7V962.9M463.2 889.7V962.9M464.2 871.4V962.9M465.1 889.7V944.6M465.9 889.7V962.9M466.9 889.7V962.9M467.8 889.7V962.9M468.7 871.4V962.9M469.6 871.4V962.9M470.4 889.7V962.9M471.4 889.7V962.9M472.2 889.7V962.9M473.2 871.4V962.9M474.1 889.7V944.6M474.9 889.7V962.9M475.9 889.7V944.6M476.8 871.4V944.6M477.7 871.4V944.6M478.6 871.4V962.9M479.4 853.1V926.3M480.4 853.1V926.3M481.2 853.1V926.3M482.2 853.1V926.3M483.1 853.1V926.3M483.9 853.1V908M484.9 816.6V908M485.8 834.8V908M486.7 834.8V889.7M487.6 816.6V889.7M488.4 816.6V889.7M489.4 816.6V889.7M490.2 798.3V871.4M491.2 798.3V871.4M492.1 798.3V871.4M492.9 780V853.1M493.9 780V853.1M494.8 780V853.1M495.7 780V853.1M496.6 780V853.1M497.4 780V834.8M498.4 761.7V834.8M499.2 761.7V834.8M500.2 761.7V834.8M501.1 761.7V853.1M501.9 761.7V834.8M502.9 780V834.8M503.8 761.7V834.8M504.7 761.7V834.8M505.6 761.7V834.8M506.4 761.7V834.8M507.4 761.7V834.8M508.2 743.4V816.6M509.2 761.7V834.8M510.1 761.7V834.8M510.9 761.7V834.8M511.9 761.7V834.8M512.8 761.7V834.8M513.7 761.7V853.1M514.5 761.7V834.8M515.5 761.7V853.1M516.4 761.7V834.8M517.2 761.7V834.8M518.2 761.7V834.8M519 761.7V834.8M520 761.7V853.1M520.9 780V834.8M521.8 780V853.1M522.7 780V853.1M523.5 798.3V871.4M524.5 798.3V853.1M525.4 798.3V871.4M526.2 798.3V871.4M527.2 816.6V871.4M528 816.6V871.4M529 816.6V889.7M529.9 816.6V889.7M530.8 834.8V908M531.7 834.8V908M532.5 834.8V908M533.5 853.1V926.3M534.4 853.1V926.3M535.2 853.1V944.6M536.2 853.1V944.6M537 871.4V944.6M538 889.7V962.9M538.9 889.7V962.9M539.8 871.4V944.6M540.7 889.7V962.9M541.5 889.7V962.9M542.5 889.7V981.1M543.4 889.7V981.1M544.2 908V981.1M545.2 908V999.4M546 908V999.4M547 908V981.1M547.9 908V999.4M548.8 908V981.1M549.7 908V981.1M550.5 908V999.4M551.5 908V999.4M552.4 926.3V981.1M553.2 926.3V981.1M554.2 926.3V999.4M555 908V981.1M556 908V981.1M556.9 908V981.1M557.8 908V981.1M558.7 908V981.1M559.5 889.7V962.9M560.5 908V981.1M561.4 908V981.1M562.2 889.7V962.9M563.2 889.7V962.9M564 889.7V962.9M565 871.4V962.9M565.9 871.4V944.6M566.8 853.1V926.3M567.7 871.4V944.6M568.5 853.1V926.3M569.5 853.1V926.3M570.4 853.1V926.3M571.2 834.8V926.3M572.2 834.8V908M573 834.8V908M574 816.6V889.7M574.9 816.6V889.7M575.8 816.6V889.7M576.7 798.3V871.4M577.5 798.3V871.4M578.5 816.6V871.4M579.4 798.3V853.1M580.2 780V853.1M581.2 780V871.4M582 780V871.4M583 780V871.4M583.9 780V853.1M584.8 780V871.4M585.7 780V853.1M586.5 780V853.1M587.5 780V853.1M588.4 780V853.1M589.2 780V853.1M590.2 780V871.4M591 780V853.1M592 780V853.1M592.9 780V853.1M593.8 780V871.4M594.7 780V853.1M595.5 780V853.1M596.5 780V834.8M597.4 780V853.1M598.2 798.3V853.1M599.2 780V853.1M600 780V853.1M601 780V853.1M601.9 780V853.1M602.8 780V853.1M603.7 780V853.1M604.5 780V853.1M605.5 780V853.1M606.4 780V853.1M607.2 780V853.1M608.2 798.3V853.1M609 798.3V871.4M610 798.3V871.4M610.9 798.3V871.4M611.8 798.3V889.7M612.7 816.6V889.7M613.5 816.6V889.7M614.5 816.6V908M615.4 834.8V908M616.2 834.8V908M617.2 834.8V908M618 834.8V926.3M619 853.1V926.3M619.9 871.4V926.3M620.8 853.1V944.6M621.7 871.4V926.3M622.5 871.4V944.6M623.5 889.7V962.9M624.4 871.4V962.9M625.2 889.7V962.9M626.2 889.7V962.9M627 889.7V981.1M628 908V981.1M628.9 889.7V981.1M629.8 889.7V981.1M630.7 889.7V981.1M631.5 908V981.1M632.5 889.7V999.4M633.4 908V981.1M634.2 908V981.1M635.2 908V981.1M636 908V981.1M637 908V999.4M637.9 908V981.1M638.8 908V981.1M639.7 908V981.1M640.6 926.3V981.1M641.5 908V981.1M642.4 908V981.1M643.2 908V981.1M644.1 908V981.1M645.1 908V981.1M646 889.7V981.1M646.9 889.7V962.9M647.8 889.7V981.1M648.6 889.7V962.9M649.6 871.4V962.9M650.5 871.4V962.9M651.4 871.4V944.6M652.2 871.4V944.6M653.1 853.1V944.6M654.1 853.1V926.3M655 853.1V926.3M655.9 853.1V926.3M656.8 834.8V908M657.6 816.6V908M658.6 816.6V908M659.5 816.6V889.7M660.4 798.3V889.7M661.2 798.3V871.4M662.1 798.3V871.4M663.1 798.3V871.4M664 798.3V853.1M664.9 780V853.1M665.8 780V853.1M666.6 780V853.1M667.6 761.7V853.1M668.5 780V853.1M669.4 761.7V834.8M670.2 761.7V853.1M671.1 761.7V853.1M672.1 780V853.1M673 761.7V834.8M673.9 761.7V834.8M674.8 761.7V834.8M675.6 743.4V834.8M676.6 780V834.8M677.5 761.7V834.8M678.4 761.7V834.8M679.2 761.7V834.8M680.1 761.7V834.8M681.1 761.7V816.6M682 761.7V834.8M682.9 761.7V834.8M683.8 761.7V834.8M684.6 743.4V834.8M685.6 761.7V834.8M686.5 761.7V834.8M687.4 761.7V834.8M688.2 761.7V834.8M689.1 761.7V834.8M690.1 761.7V853.1M691 780V853.1M691.9 780V853.1M692.8 761.7V853.1M693.3 780V853.1M693.3 780V853.1" fill="none" stroke="#0000ff" stroke-width="1.9"/>
<g stroke="#1a1a1a" fill="none">
<path stroke-width="1.7" d="M179.5 1086.3v-8M308.2 1086.3v-8M437 1086.3v-8M565.8 1086.3v-8M694.5 1086.3v-8M128 629h8M128 743.3h8M128 857.6h8M128 971.9h8M128 1086.2h8"/>
<path stroke-width="1.7" d="M243.9 1086.3v-4.5M372.6 1086.3v-4.5M501.4 1086.3v-4.5M630.1 1086.3v-4.5M128 686.1h4.5M128 800.4h4.5M128 914.8h4.5M128 1029h4.5"/>
<rect x="128" y="629" width="566.5" height="457.3" stroke-width="2.3"/>
</g>
<g font-size="20.8">
<text x="179.5" y="1113.5" text-anchor="middle">450</text>
<text x="308.2" y="1113.5" text-anchor="middle">455</text>
<text x="437" y="1113.5" text-anchor="middle">460</text>
<text x="565.8" y="1113.5" text-anchor="middle">465</text>
<text x="694.5" y="1113.5" text-anchor="middle">470</text>
<text x="118" y="636" text-anchor="end">1549.960</text>
<text x="118" y="750.3" text-anchor="end">1549.955</text>
<text x="118" y="864.6" text-anchor="end">1549.950</text>
<text x="118" y="978.9" text-anchor="end">1549.945</text>
<text x="118" y="1093.2" text-anchor="end">1549.940</text>
</g>
<text x="411" y="1151.4" font-size="25.6" text-anchor="middle">Time(s)</text>
<text transform="translate(25.4 857.5) rotate(-90)" font-size="25.8" text-anchor="middle">Wavelength(nm)</text>
<text x="146.5" y="1207.5" font-size="32.4" fill="#000" stroke="#000" stroke-width=".25">(c) 0.3 Hz time domain response</text>
<rect x="548.5" y="646.5" width="122" height="32" fill="#fff" stroke="#8a8a8a" stroke-width="1.2"/>
<path d="M551.5 662.5H603.5" stroke="#0000ff" stroke-width="1.5"/>
<text x="611" y="670.4" font-size="23.5">0.3Hz</text>
</g>
<g id="panel-d">
<path d="M876.2 790.7V833.6M876.2 780V822.8M877 780V822.8M877.8 758.6V812.1M878.6 769.3V801.4M879.4 758.6V801.4M880.2 747.9V790.7M881 769.3V790.7M881.8 747.9V801.4M882.6 747.9V790.7M883.4 747.9V790.7M884.2 747.9V790.7M885 747.9V790.7M885.8 747.9V790.7M886.6 747.9V801.4M887.4 747.9V801.4M888.2 747.9V790.7M889 747.9V801.4M889.8 747.9V790.7M890.6 747.9V780M891.4 747.9V790.7M892.2 758.6V801.4M893 747.9V801.4M893.8 758.6V790.7M894.6 758.6V801.4M895.4 769.3V812.1M896.2 758.6V812.1M897 769.3V812.1M897.8 769.3V822.8M898.6 780V822.8M899.4 780V822.8M900.2 790.7V822.8M901 790.7V844.3M901.8 801.4V844.3M902.6 801.4V844.3M903.4 801.4V855M904.2 812.1V855M905 822.8V855M905.8 812.1V865.7M906.6 822.8V865.7M907.4 833.6V876.4M908.2 833.6V865.7M909 844.3V876.4M909.8 833.6V887.1M910.6 855V897.8M911.4 855V897.8M912.2 855V897.8M913 865.7V908.5M913.8 865.7V919.2M914.6 865.7V919.2M915.4 865.7V919.2M916.2 887.1V930M917 887.1V930M917.8 887.1V940.7M918.6 887.1V930M919.4 897.8V940.7M920.2 897.8V951.4M921 908.5V951.4M921.8 919.2V962.1M922.6 908.5V962.1M923.4 919.2V962.1M924.2 940.7V972.8M925 930V972.8M925.8 940.7V983.5M926.6 940.7V983.5M927.4 951.4V994.2M928.2 951.4V1004.9M929 962.1V1004.9M929.8 962.1V1004.9M930.6 962.1V1015.7M931.4 972.8V1015.7M932.2 972.8V1026.4M933 972.8V1026.4M933.8 983.5V1037.1M934.6 994.2V1037.1M935.4 994.2V1026.4M936.2 994.2V1037.1M937 994.2V1037.1M937.8 994.2V1037.1M938.6 1015.7V1047.8M939.4 994.2V1047.8M940.2 994.2V1047.8M941 1004.9V1047.8M941.8 1004.9V1047.8M942.6 1004.9V1047.8M943.4 994.2V1047.8M944.2 1004.9V1047.8M945 1004.9V1037.1M945.8 994.2V1037.1M946.6 994.2V1037.1M947.4 994.2V1037.1M948.2 994.2V1037.1M949 994.2V1026.4M949.8 983.5V1026.4M950.6 983.5V1026.4M951.4 983.5V1026.4M952.2 994.2V1026.4M953 983.5V1026.4M953.8 972.8V1026.4M954.6 983.5V1026.4M955.4 972.8V1037.1M956.2 983.5V1026.4M957 972.8V1026.4M957.8 983.5V1026.4M958.6 983.5V1015.7M959.4 972.8V1004.9M960.2 972.8V1015.7M961 983.5V1015.7M961.8 962.1V1015.7M962.6 962.1V1015.7M963.4 962.1V1004.9M964.2 951.4V1004.9M965 951.4V1004.9M965.8 940.7V994.2M966.6 951.4V983.5M967.4 940.7V994.2M968.2 940.7V983.5M969 930V983.5M969.8 930V983.5M970.6 919.2V972.8M971.4 908.5V962.1M972.2 908.5V962.1M973 919.2V951.4M973.8 908.5V951.4M974.6 908.5V951.4M975.4 908.5V951.4M976.2 887.1V940.7M977 887.1V940.7M977.8 887.1V930M978.6 876.4V919.2M979.4 876.4V908.5M980.2 855V908.5M981 855V908.5M981.8 855V908.5M982.6 855V897.8M983.4 844.3V897.8M984.2 833.6V887.1M985 833.6V876.4M985.8 833.6V876.4M986.6 822.8V855M987.4 822.8V865.7M988.2 812.1V855M989 790.7V855M989.8 790.7V833.6M990.6 790.7V844.3M991.4 780V822.8M992.2 780V822.8M993 780V812.1M993.8 769.3V812.1M994.6 780V822.8M995.4 769.3V822.8M996.2 758.6V812.1M997 780V822.8M997.8 769.3V812.1M998.6 780V822.8M999.4 769.3V822.8M1000.2 769.3V812.1M1001 769.3V812.1M1001.8 769.3V812.1M1002.6 769.3V812.1M1003.4 769.3V812.1M1004.2 769.3V812.1M1005 769.3V801.4M1005.8 769.3V822.8M1006.6 769.3V812.1M1007.4 769.3V822.8M1008.2 780V822.8M1009 780V833.6M1009.8 790.7V833.6M1010.6 790.7V833.6M1011.4 790.7V844.3M1012.2 801.4V844.3M1013 801.4V844.3M1013.8 801.4V855M1014.6 822.8V855M1015.4 822.8V865.7M1016.2 822.8V876.4M1017 822.8V876.4M1017.8 833.6V876.4M1018.6 833.6V876.4M1019.4 833.6V887.1M1020.2 833.6V876.4M1021 833.6V887.1M1021.8 844.3V887.1M1022.6 855V887.1M1023.4 855V897.8M1024.2 855V908.5M1025 865.7V908.5M1025.8 876.4V919.2M1026.6 876.4V919.2M1027.4 876.4V919.2M1028.2 876.4V930M1029 897.8V930M1029.8 897.8V930M1030.6 897.8V930M1031.4 897.8V940.7M1032.2 897.8V940.7M1033 908.5V951.4M1033.8 908.5V962.1M1034.6 908.5V962.1M1035.4 919.2V962.1M1036.2 919.2V972.8M1037 919.2V972.8M1037.8 940.7V972.8M1038.6 930V972.8M1039.4 940.7V983.5M1040.2 940.7V994.2M1041 962.1V994.2M1041.8 951.4V994.2M1042.6 962.1V1004.9M1043.4 972.8V1004.9M1044.2 983.5V1015.7M1045 972.8V1026.4M1045.8 962.1V1015.7M1046.6 972.8V1026.4M1047.4 972.8V1015.7M1048.2 972.8V1026.4M1049 983.5V1026.4M1049.8 983.5V1026.4M1050.6 983.5V1037.1M1051.4 994.2V1037.1M1052.2 983.5V1026.4M1053 994.2V1037.1M1053.8 994.2V1037.1M1054.6 994.2V1037.1M1055.4 994.2V1037.1M1056.2 983.5V1026.4M1057 983.5V1037.1M1057.8 983.5V1026.4M1058.6 972.8V1026.4M1059.4 983.5V1037.1M1060.2 972.8V1026.4M1061 962.1V1026.4M1061.8 972.8V1026.4M1062.6 972.8V1026.4M1063.4 972.8V1015.7M1064.2 972.8V1015.7M1065 962.1V1015.7M1065.8 972.8V1015.7M1066.6 972.8V1015.7M1067.4 972.8V1004.9M1068.2 972.8V1004.9M1069 972.8V1015.7M1069.8 962.1V1004.9M1070.6 962.1V1004.9M1071.4 962.1V1004.9M1072.2 962.1V1004.9M1073 962.1V1004.9M1073.8 951.4V1004.9M1074.6 951.4V1004.9M1075.4 951.4V994.2M1076.2 940.7V994.2M1077 940.7V994.2M1077.8 940.7V994.2M1078.6 940.7V983.5M1079.4 930V983.5M1080.2 930V972.8M1081 919.2V962.1M1081.8 919.2V962.1M1082.6 919.2V962.1M1083.4 908.5V951.4M1084.2 897.8V962.1M1085 908.5V940.7M1085.8 897.8V940.7M1086.6 887.1V930M1087.4 887.1V930M1088.2 887.1V919.2M1089 876.4V919.2M1089.8 876.4V919.2M1090.6 865.7V919.2M1091.4 865.7V897.8M1092.2 855V897.8M1093 855V897.8M1093.8 844.3V887.1M1094.6 833.6V876.4M1095.4 833.6V876.4M1096.2 822.8V865.7M1097 822.8V865.7M1097.8 812.1V855M1098.6 801.4V855M1099.4 801.4V844.3M1100.2 790.7V822.8M1101 790.7V833.6M1101.8 769.3V822.8M1102.6 769.3V812.1M1103.4 758.6V812.1M1104.2 769.3V801.4M1105 747.9V801.4M1105.8 737.1V790.7M1106.6 737.1V790.7M1107.4 737.1V780M1108.2 737.1V780M1109 747.9V780M1109.8 737.1V790.7M1110.6 747.9V780M1111.4 737.1V780M1112.2 737.1V780M1113 747.9V790.7M1113.8 726.4V790.7M1114.6 737.1V790.7M1115.4 737.1V780M1116.2 737.1V780M1117 737.1V780M1117.8 737.1V780M1118.6 737.1V780M1119.4 747.9V780M1120.2 747.9V801.4M1121 758.6V790.7M1121.8 747.9V801.4M1122.6 758.6V801.4M1123.4 758.6V801.4M1124.2 769.3V812.1M1125 769.3V812.1M1125.8 769.3V822.8M1126.6 780V822.8M1127.4 790.7V833.6M1128.2 780V844.3M1129 801.4V833.6M1129.8 790.7V844.3M1130.6 801.4V844.3M1131.4 801.4V855M1132.2 801.4V855M1133 812.1V855M1133.8 812.1V865.7M1134.6 822.8V865.7M1135.4 822.8V876.4M1136.2 833.6V887.1M1137 833.6V876.4M1137.8 833.6V876.4M1138.6 844.3V887.1M1139.4 844.3V887.1M1140.2 844.3V897.8M1141 855V908.5M1141.8 865.7V897.8M1142.6 865.7V908.5M1143.4 865.7V919.2M1144.2 876.4V919.2M1145 876.4V919.2M1145.8 887.1V930M1146.6 887.1V930M1147.4 887.1V940.7M1148.2 897.8V951.4M1149 897.8V951.4M1149.8 897.8V951.4M1150.6 908.5V951.4M1151.4 908.5V962.1M1152.2 919.2V972.8M1153 919.2V972.8M1153.8 930V983.5M1154.6 940.7V983.5M1155.4 940.7V994.2M1156.2 940.7V983.5M1157 951.4V994.2M1157.8 962.1V1004.9M1158.6 962.1V1004.9M1159.4 962.1V1015.7M1160.2 962.1V1004.9M1161 962.1V1026.4M1161.8 972.8V1026.4M1162.6 972.8V1015.7M1163.4 972.8V1026.4M1164.2 972.8V1015.7M1165 983.5V1015.7M1165.8 972.8V1026.4M1166.6 972.8V1037.1M1167.4 972.8V1015.7M1168.2 972.8V1026.4M1169 983.5V1026.4M1169.8 972.8V1015.7M1170.6 972.8V1015.7M1171.4 972.8V1015.7M1172.2 972.8V1026.4M1173 972.8V1015.7M1173.8 962.1V1004.9M1174.6 962.1V1015.7M1175.4 962.1V1015.7M1176.2 962.1V1015.7M1177 962.1V1004.9M1177.8 962.1V1004.9M1178.6 962.1V1004.9M1179.4 962.1V1004.9M1180.2 972.8V1004.9M1181 962.1V1004.9M1181.8 951.4V1004.9M1182.6 951.4V994.2M1183.4 962.1V1004.9M1184.2 951.4V994.2M1185 951.4V994.2M1185.8 951.4V994.2M1186.6 951.4V994.2M1187.4 951.4V994.2M1188.2 940.7V994.2M1189 951.4V983.5M1189.8 940.7V983.5M1190.6 930V972.8M1191.4 919.2V983.5M1192.2 930V972.8M1193 930V972.8M1193.8 919.2V962.1M1194.6 919.2V962.1M1195.4 919.2V962.1M1196.2 897.8V951.4M1197 897.8V951.4M1197.8 897.8V940.7M1198.6 897.8V940.7M1199.4 887.1V930M1200.2 887.1V930M1201 887.1V930M1201.8 876.4V908.5M1202.6 865.7V919.2M1203.4 865.7V908.5M1204.2 855V908.5M1205 855V887.1M1205.8 844.3V897.8M1206.6 844.3V887.1M1207.4 844.3V887.1M1208.2 844.3V887.1M1209 833.6V865.7M1209.8 822.8V865.7M1210.6 812.1V855M1211.4 801.4V855M1212.2 812.1V855M1213 801.4V833.6M1213.8 790.7V833.6M1214.6 790.7V833.6M1215.4 780V812.1M1216.2 769.3V822.8M1217 769.3V812.1M1217.8 758.6V801.4M1218.6 758.6V812.1M1219.4 747.9V801.4M1220.2 747.9V801.4M1221 758.6V801.4M1221.8 747.9V801.4M1222.6 747.9V790.7M1223.4 747.9V790.7M1224.2 758.6V790.7M1225 747.9V790.7M1225.8 747.9V790.7M1226.6 747.9V780M1227.4 747.9V790.7M1228.2 747.9V790.7M1229 758.6V780M1229.8 758.6V790.7M1230.6 747.9V801.4M1231.4 747.9V790.7M1232.2 758.6V790.7M1233 758.6V801.4M1233.8 769.3V801.4M1234.6 769.3V801.4M1235.4 758.6V812.1M1236.2 769.3V812.1M1237 780V812.1M1237.8 780V822.8M1238.6 790.7V822.8M1239.4 790.7V822.8M1240.2 801.4V833.6M1241 801.4V844.3M1241.8 790.7V855M1242.6 801.4V855M1243.4 812.1V855M1244.2 822.8V865.7M1245 812.1V865.7M1245.8 822.8V865.7M1246.6 822.8V865.7M1247.4 833.6V876.4M1248.2 833.6V876.4M1249 844.3V887.1M1249.8 844.3V887.1M1250.6 855V897.8M1251.4 855V897.8M1252.2 844.3V887.1M1253 844.3V908.5M1253.8 865.7V908.5M1254.6 865.7V919.2M1255.4 876.4V919.2M1256.2 876.4V930M1257 887.1V930M1257.8 887.1V930M1258.6 897.8V930M1259.4 897.8V940.7M1260.2 897.8V951.4M1261 908.5V951.4M1261.8 908.5V962.1M1262.6 919.2V962.1M1263.4 919.2V972.8M1264.2 930V983.5M1265 930V962.1M1265.8 930V983.5M1266.6 930V1004.9M1267.4 951.4V1004.9M1268.2 951.4V994.2M1269 962.1V994.2M1269.8 972.8V1015.7M1270.6 972.8V1015.7M1271.4 972.8V1015.7M1272.2 972.8V1026.4M1273 983.5V1015.7M1273.8 972.8V1026.4M1274.6 972.8V1026.4M1275.4 983.5V1026.4M1276.2 983.5V1026.4M1277 983.5V1037.1M1277.8 994.2V1037.1M1278.6 983.5V1037.1M1279.4 983.5V1037.1M1280.2 994.2V1026.4M1281 994.2V1037.1M1281.8 994.2V1037.1M1282.6 983.5V1026.4M1283.4 994.2V1037.1M1284.2 983.5V1026.4M1285 983.5V1026.4M1285.8 983.5V1037.1M1286.6 983.5V1026.4M1287.4 983.5V1026.4M1288.2 983.5V1026.4M1289 983.5V1026.4M1289.8 983.5V1026.4M1290.6 972.8V1026.4M1291.4 962.1V1026.4M1292.2 972.8V1015.7M1293 972.8V1004.9M1293.8 962.1V1015.7M1294.6 962.1V1015.7M1295.4 972.8V1015.7M1296.2 962.1V1015.7M1297 962.1V1015.7M1297.8 962.1V1004.9M1298.6 972.8V1004.9M1299.4 972.8V1015.7M1300.2 962.1V1004.9M1301 951.4V1004.9M1301.8 962.1V1004.9M1302.6 951.4V983.5M1303.4 951.4V994.2M1304.2 940.7V994.2M1305 940.7V994.2M1305.8 930V983.5M1306.6 930V972.8M1307.4 930V972.8M1308.2 919.2V972.8M1309 919.2V962.1M1309.8 930V972.8M1310.6 908.5V951.4M1311.4 908.5V940.7M1312.2 908.5V951.4M1313 897.8V940.7M1313.8 887.1V940.7M1314.6 887.1V919.2M1315.4 876.4V930M1316.2 876.4V930M1317 865.7V919.2M1317.8 865.7V908.5M1318.6 865.7V897.8M1319.4 865.7V897.8M1320.2 855V897.8M1321 844.3V887.1M1321.8 833.6V887.1M1322.6 844.3V876.4M1323.4 822.8V876.4M1324.2 822.8V865.7M1325 822.8V865.7M1325.8 812.1V855M1326.6 801.4V855M1327.4 801.4V855M1328.2 780V833.6M1329 780V833.6M1329.8 780V822.8M1330.6 769.3V812.1M1331.4 769.3V812.1M1332.2 769.3V801.4M1333 758.6V812.1M1333.8 769.3V812.1M1334.6 769.3V812.1M1335.4 769.3V812.1M1336.2 758.6V801.4M1337 758.6V801.4M1337.8 758.6V801.4M1338.6 758.6V801.4M1339.4 758.6V801.4M1340.2 758.6V801.4M1341 758.6V801.4M1341.8 758.6V801.4M1342.6 758.6V812.1M1343.4 758.6V801.4M1344.2 758.6V812.1M1345 758.6V801.4M1345.8 758.6V812.1M1346.6 758.6V801.4M1347.4 769.3V812.1M1348.2 780V822.8M1349 780V822.8M1349.8 790.7V833.6M1350.6 790.7V833.6M1351.4 801.4V844.3M1352.2 801.4V833.6M1353 801.4V844.3M1353.8 801.4V855M1354.6 812.1V855M1355.4 812.1V855M1356.2 812.1V865.7M1357 822.8V865.7M1357.8 822.8V876.4M1358.6 833.6V876.4M1359.4 833.6V876.4M1360.2 844.3V876.4M1361 833.6V887.1M1361.8 844.3V887.1M1362.6 855V897.8M1363.4 855V897.8M1364.2 855V919.2M1365 865.7V908.5M1365.8 865.7V908.5M1366.6 865.7V908.5M1367.4 876.4V930M1368.2 876.4V919.2M1369 887.1V940.7M1369.8 887.1V930M1370.6 887.1V940.7M1371.4 887.1V940.7M1372.2 897.8V951.4M1373 897.8V951.4M1373.8 919.2V951.4M1374.6 919.2V951.4M1375.4 919.2V972.8M1376.2 930V972.8M1377 930V972.8M1377.8 951.4V983.5M1378.6 940.7V983.5M1379.4 951.4V983.5M1380.2 951.4V994.2M1381 951.4V1004.9M1381.8 951.4V1015.7M1382.6 962.1V1004.9M1383.4 972.8V1015.7M1384.2 972.8V1015.7M1385 972.8V1015.7M1385.8 983.5V1026.4M1386.6 972.8V1026.4M1387.4 983.5V1026.4M1388.2 983.5V1037.1M1389 983.5V1037.1M1389.8 983.5V1026.4M1390.6 994.2V1037.1M1391.4 983.5V1037.1M1392.2 994.2V1037.1M1393 994.2V1037.1M1393.8 983.5V1037.1M1394.6 983.5V1026.4M1395.4 994.2V1037.1M1396.2 983.5V1037.1M1397 983.5V1037.1M1397.8 983.5V1037.1M1398.6 983.5V1026.4M1399.4 983.5V1026.4M1400.2 972.8V1026.4M1401 972.8V1026.4M1401.8 983.5V1026.4M1402.6 983.5V1026.4M1403.4 972.8V1015.7M1404.2 983.5V1004.9M1405 972.8V1015.7M1405.8 972.8V1015.7M1406.6 972.8V1015.7M1407.4 972.8V1015.7M1408.2 962.1V1004.9M1409 962.1V1004.9M1409.8 962.1V1004.9M1410.6 962.1V1004.9M1411.4 962.1V1004.9M1412.2 962.1V1015.7M1413 962.1V1004.9M1413.8 951.4V1004.9M1414.6 940.7V994.2M1415.4 951.4V994.2M1416.2 940.7V983.5M1417 940.7V983.5M1417.8 940.7V983.5M1418.6 930V972.8M1419.4 930V972.8M1420.2 930V962.1M1421 919.2V972.8M1421.8 919.2V962.1M1422.6 908.5V962.1M1423.4 908.5V951.4M1424.2 897.8V951.4M1425 897.8V951.4M1425.8 897.8V940.7M1426.6 887.1V930M1427.4 887.1V930M1428.2 887.1V919.2M1429 876.4V919.2M1429.8 876.4V919.2M1430.6 865.7V908.5M1431.4 855V908.5M1432.2 855V908.5M1433 844.3V897.8M1433.8 844.3V887.1M1434.6 833.6V887.1M1435.4 833.6V876.4M1436.2 822.8V876.4M1437 812.1V865.7M1437.8 812.1V855M1438.6 790.7V844.3M1438.8 790.7V844.3M1438.8 790.7V833.6" fill="none" stroke="#0000ff" stroke-width="1.9"/>
<g stroke="#1a1a1a" fill="none">
<path stroke-width="1.7" d="M875 1087.5v-8M988 1087.5v-8M1101 1087.5v-8M1214 1087.5v-8M1327 1087.5v-8M1440 1087.5v-8M875 632.5h8M875 766.4h8M875 900.3h8M875 1034.2h8"/>
<path stroke-width="1.7" d="M931.5 1087.5v-4.5M1044.5 1087.5v-4.5M1157.5 1087.5v-4.5M1270.5 1087.5v-4.5M1383.5 1087.5v-4.5M875 699.5h4.5M875 833.4h4.5M875 967.2h4.5"/>
<rect x="875" y="632.5" width="565" height="455" stroke-width="2.3"/>
</g>
<g font-size="20">
<text x="875" y="1115.2" text-anchor="middle">510</text>
<text x="988" y="1115.2" text-anchor="middle">512</text>
<text x="1101" y="1115.2" text-anchor="middle">514</text>
<text x="1214" y="1115.2" text-anchor="middle">516</text>
<text x="1327" y="1115.2" text-anchor="middle">518</text>
<text x="1440" y="1115.2" text-anchor="middle">520</text>
<text x="863.5" y="639.2" text-anchor="end">1549.97</text>
<text x="863.5" y="773.1" text-anchor="end">1549.96</text>
<text x="863.5" y="907" text-anchor="end">1549.95</text>
<text x="863.5" y="1040.9" text-anchor="end">1549.94</text>
</g>
<text x="1157" y="1152.9" font-size="25.6" text-anchor="middle">Time(s)</text>
<text transform="translate(785.5 860.5) rotate(-90)" font-size="26" text-anchor="middle">Wavelength(nm)</text>
<text x="899" y="1207.5" font-size="32.4" fill="#000" stroke="#000" stroke-width=".25">(d) 0.5 Hz time domain response</text>
<rect x="1294.5" y="648.5" width="123" height="33" fill="#fff" stroke="#8a8a8a" stroke-width="1.2"/>
<path d="M1298.5 665.5H1350" stroke="#0000ff" stroke-width="1.5"/>
<text x="1357.5" y="673.4" font-size="23.7">0.5Hz</text>
</g>
<g id="panel-e">
<defs><path id="lne" d="M265.5 1308.5L295 1255.5L311.5 1289.5L323.5 1308.2L332.8 1317.4L340.5 1332.9L346.9 1332.9L352.5 1336.6L357.5 1344.1L361.9 1342.3L365.9 1350.5L369.6 1352.9L372.9 1356.9L376 1357.5L378.9 1364.8L381.6 1364.2L384.2 1362.4L386.6 1370.9L388.8 1369.9L391 1373L393 1371.7L395 1379.5L396.9 1373.6L398.6 1382.6L400.4 1382.3L402 1383.4L403.6 1385.7L405.1 1386.8L406.6 1391.8L408 1389.2L409.4 1389.8L410.7 1394.1L412 1398.5L413.3 1393.8L414.5 1397L415.6 1392.5L416.8 1402.4L417.9 1399.9L419 1399L420.1 1408.5L421.1 1404.5L422.1 1414.9L423.1 1403.7L424.1 1410.7L425 1395.8L425.9 1410.6L426.8 1392.4L427.7 1411.6L428.6 1415.5L429.4 1409.3L430.3 1404.4L431.1 1410.8L431.9 1425.4L432.7 1419.9L433.4 1427.1L434.2 1410.9L434.9 1409.2L435.7 1414.1L436.4 1412.9L437.1 1417.3L437.8 1422.4L438.5 1415.7L439.1 1424.3L439.8 1418.2L440.4 1416.8L441.1 1415L441.7 1417.3L442.3 1409.6L442.9 1431.6L443.5 1418.3L444.1 1435.6L444.7 1414.2L445.3 1423.3L445.9 1425.9L446.4 1426.7L447 1418.9L447.5 1433.3L448.1 1424.1L448.6 1405.7L449.1 1420.2L449.7 1422.8L450.2 1417L450.7 1426.6L451.2 1433.6L451.7 1436.3L452.2 1424.3L452.7 1422.9L453.1 1435.4L453.6 1429.3L454.1 1416.9L454.6 1453.2L455 1446.3L455.5 1450.6L455.9 1428.3L456.4 1425.5L456.8 1423.4L457.2 1459.6L457.7 1459L458.1 1417.3L458.5 1443L458.9 1419.4L459.3 1435.4L459.8 1432.4L460.2 1425.1L460.6 1431L461 1442L461.3 1459.5L461.7 1416.2L462.1 1467.1L462.5 1449.1L462.9 1451.6L463.3 1431.5L463.6 1437.6L464 1450.5L464.4 1498.7L464.7 1402.2L465.1 1434.7L465.5 1439.5L465.8 1425.2L466.2 1454.3L466.5 1432.9L466.9 1434.7L467.2 1417.1L467.5 1465.9L467.9 1427.1L468.2 1441.9L468.5 1450.2L468.9 1442.3L469.2 1429.8L469.5 1447.9L469.8 1467L470.2 1432.2L470.5 1438L470.8 1449.6L471.1 1435.8L471.4 1438.9L471.7 1427.2L472 1452.4L472.3 1457.7L472.6 1443.4L472.9 1423.4L473.2 1442.5L473.5 1451.4L473.8 1463.5L474.1 1445L474.4 1436.1L474.7 1424.5L475 1413.5L475.2 1435.7L475.5 1452.6L475.8 1460.3L476.1 1452.3L476.4 1420.3L476.6 1449.7L476.9 1437.1L477.2 1448.9L477.4 1424.7L477.7 1449.3L478 1496.2L478.2 1480.3L478.5 1444.8L478.7 1414L479 1439.8L479.3 1441.6L479.5 1419.7L479.8 1479.3L480 1438.9L480.3 1442.5L480.5 1436.6L480.8 1441.2L481 1475.4L481.3 1445.3L481.5 1413.6L481.7 1444.9L482 1420.7L482.2 1434.8L482.5 1434.6L482.7 1424.9L482.9 1454.7L483.2 1447.8L483.4 1458.5L483.6 1440.3L483.9 1433L484.1 1457.8L484.3 1429.1L484.5 1449.9L484.8 1467L485 1478.4L485.2 1501.9L485.4 1450.1L485.7 1440.6L485.9 1467.4L486.1 1453.1L486.3 1415.1L486.5 1459.1L486.7 1449.9L487 1477.6L487.2 1470.8L487.4 1455.6L487.6 1435.1L487.8 1428.6L488 1466.6L488.2 1449.9L488.4 1436.9L488.6 1471.3L488.8 1474.4L489 1475.5L489.2 1458.9L489.4 1432L489.6 1454.4L489.8 1443.6L490 1443.6L490.2 1445.6L490.4 1470.8L490.6 1436.6L490.8 1460.7L491 1439.4L491.2 1450.3L491.4 1456L491.6 1464.6L491.8 1459L492 1445.3L492.2 1451L492.3 1460.7L492.5 1459.9L492.7 1469.6L492.9 1486.3L493.1 1449.8L493.3 1448.3L493.5 1462.1L493.6 1479.8L493.8 1455.9L494 1463.2L494.2 1560.4L494.4 1438.1L494.5 1475.2L494.7 1500.6L494.9 1441L495.1 1434.1L495.2 1457L495.4 1447L495.6 1454.5L495.8 1490.4L495.9 1446.4L496.1 1444L496.3 1456.3L496.4 1476.4L496.6 1449.5L496.8 1461.4L497 1444.1L497.1 1450.3L497.3 1479.1L497.5 1446.1L497.6 1447.5L497.8 1447L497.9 1442.1L498.1 1463.8L498.3 1450.3L498.4 1431.3L498.6 1464.5L498.8 1455.4L498.9 1460.5L499.1 1465.2L499.2 1445.1L499.4 1442.2L499.6 1485.3L499.7 1447.4L499.9 1468.8L500 1454.7L500.2 1444.8L500.3 1451.9L500.5 1474.6L500.6 1480.5L500.8 1501.8L500.9 1472.2L501.1 1476.4L501.3 1469.7L501.4 1469.7L501.6 1455.8L501.7 1451.6L501.9 1449.7L502 1464.8L502.2 1469.2L502.3 1457.2L502.4 1474.7L502.6 1449.4L502.7 1458L502.9 1439.7L503 1451.9L503.2 1437.7L503.3 1469L503.5 1454.4L503.6 1444.3L503.8 1448.3L503.9 1457.9L504 1467.9L504.2 1452.6L504.3 1514L504.5 1466.2L504.6 1463.7L504.7 1472.2L504.9 1458L505 1457.7L505.2 1445.8L505.3 1432.1L505.4 1445L505.6 1453.7L505.7 1551.9L505.8 1491.7L506 1456L506.1 1465.4L506.2 1432.1L506.4 1463.5L506.5 1471.1L506.6 1468.1L506.8 1463.3L506.9 1452.1L507 1457.3L507.2 1536.7L507.3 1553L507.4 1470.4L507.6 1449.7L507.7 1480.9L507.8 1443.3L508 1462.8L508.1 1448.9L508.2 1472.5L508.3 1462.4L508.5 1481.1L508.6 1446.3L508.7 1460.2L508.9 1448L509 1441.1L509.1 1458.6L509.2 1444.4L509.4 1452.1L509.5 1507.1L509.6 1480.7L509.7 1471.1L509.9 1483.4L510 1439.5L510.1 1422.2L510.2 1497.7L510.3 1459.5L510.5 1473.7L510.6 1450.3L510.7 1443.1L510.8 1443.4L510.9 1484L511.1 1427.4L511.2 1459L511.3 1445.6L511.4 1461.4L511.5 1461.2L511.7 1470.6L511.8 1440.8L511.9 1479.8L512 1447L512.1 1468.9L512.2 1465.5L512.4 1442.4L512.5 1484L512.6 1459.7L512.7 1486.9L512.8 1469.4L512.9 1466.8L513.1 1482.6L513.2 1469.6L513.3 1447L513.4 1462.5L513.5 1464.1L513.6 1474.2L513.7 1464.9L513.8 1472.8L514 1473.5L514.1 1450.9L514.2 1483.4L514.3 1431.5L514.4 1448.2L514.5 1456L514.6 1463.4L514.7 1443.9L514.8 1454.8L515 1468.6L515.1 1466.6L515.3 1473.4L515.4 1445.9L515.5 1484.7L515.6 1443.4L515.7 1466.6L515.8 1457.7L515.9 1431.1L516 1477L516.1 1460.5L516.2 1461.9L516.4 1425.4L516.6 1463.3L516.7 1463.7L516.8 1435.3L516.9 1521.9L517.2 1457.6L517.3 1451L517.4 1449.7L517.5 1478.1L517.6 1483.5L517.7 1550.3L517.8 1444.3L517.9 1483.4L518 1563.3L518.1 1479L518.2 1473.7L518.3 1485.8L518.4 1457.4L518.5 1481.8L518.6 1458.4L518.7 1450.9L518.9 1486.4L519 1463.5L519.1 1480.6L519.2 1493.3L519.3 1475.8L519.4 1432L519.5 1455.6L519.6 1443.8L519.7 1471.8L519.8 1490.9L519.9 1432.7L520 1603.9L520.1 1438.3L520.2 1476.1L520.4 1459.9L520.7 1451.4L520.8 1472.1L520.9 1481.1L521 1449.3L521.1 1436.2L521.2 1462.7L521.3 1447.3L521.4 1443.1L521.5 1504.9L521.6 1543.1L521.7 1456.5L521.8 1459.5L521.9 1487.3L522 1466.8L522.2 1470.8L522.3 1473L522.5 1450.5L522.6 1516.4L522.7 1488L522.8 1441.9L522.9 1488.5L523 1495L523.2 1467.9L523.3 1464.1L523.6 1462.2L523.8 1447.8L524 1476.4L524.1 1477.9L524.1 1432.7L524.2 1452.1L524.5 1484.8L524.7 1495.4L524.8 1474.8L524.9 1468.4L525 1487.6L525.2 1440.7L525.4 1448.5L525.4 1463.1L525.7 1460.4L525.8 1449.2L525.9 1456.1L525.9 1439.2L526.1 1450.3L526.2 1459.4L526.4 1448.5L526.5 1449.1L526.7 1502.2L526.9 1479.6L526.9 1467.1L527.1 1490.3L527.2 1472.5L527.4 1462.4L527.4 1494.6L527.6 1442.7L527.8 1457.1L528 1459.9L528.1 1571.4L528.2 1498.1L528.3 1457.2L528.5 1482.8L528.6 1501.6L528.7 1485.5L528.8 1475.2L528.9 1442.6L529 1442.5L529.3 1498.7L529.4 1475.9L529.5 1458.1L529.6 1469.5L529.6 1479.5L529.9 1440.5L530 1455.3L530.1 1441.6L530.2 1446.8L530.3 1464L530.3 1488.5L530.6 1485.7L530.7 1467.7L530.8 1501L530.9 1526L530.9 1466.4L531 1473.4L531.1 1496.6L531.2 1479.7L531.2 1483.5L531.3 1463.9L531.4 1494L531.5 1446.3L531.6 1495.2L531.7 1460.4L531.7 1473.6L531.8 1542.1L532 1461.1L532.3 1487.3L532.4 1456.8L532.5 1505.5L532.8 1448.8L532.8 1500.6L532.9 1464.7L533 1472.6L533.1 1476.3L533.3 1507.7L533.5 1529.5L533.5 1462.9L533.6 1474.8L533.7 1457.8L533.7 1515.5L533.8 1451L534 1471.8L534.1 1451.4L534.2 1496.3L534.2 1455.4L534.3 1473.7L534.4 1482.2L534.4 1464.5L534.5 1448.9L534.6 1483.5L534.6 1503.7L534.7 1512.7L535 1457L535.1 1482.7L535.5 1472.8L535.6 1488.9L535.7 1473.2L535.7 1455.5L535.8 1493.3L535.9 1460.3L536 1473.6L536.1 1493.1L536.1 1495L536.3 1490.6L536.3 1471L536.4 1458L536.8 1464.2L536.9 1456.3L537 1495.8L537.1 1438.2L537.2 1442.2L537.3 1454.9L537.4 1438.1L537.5 1470.2L537.6 1449.8L537.7 1458.1L538.2 1486.3L538.3 1481.9L538.4 1473.8L538.5 1469L538.6 1475.5L538.6 1489.5L538.7 1524.1L538.7 1460.8L538.9 1507.3L539 1499.2L539.1 1460.6L539.1 1469.6L539.7 1447.4L539.7 1477.6L539.8 1451L539.8 1435.3L539.9 1476.4L540.1 1501.3L540.2 1452.3L540.3 1474.2L540.3 1493.9L540.4 1475.2L540.6 1495.7L540.7 1506.2L540.8 1468.7L540.9 1455.7L540.9 1434.1L541.2 1435L541.2 1475.4L541.3 1460.7L541.6 1494.1L541.6 1477.6L541.8 1454.1L541.8 1485.9L542 1443L542 1493.7L542.3 1442.9L542.4 1458.4L542.4 1450.1L542.5 1510.3L542.5 1490.7L542.6 1466.6L542.9 1462.9L543.2 1470.5L543.3 1491.6L543.4 1475L543.7 1456L543.8 1435.9L543.8 1447.5L544 1496.1L544 1519.5L544.1 1451.5L544.1 1456.9L544.3 1495L544.3 1515.1L544.4 1499.9L544.7 1465.4L544.8 1464.1L545.1 1437.2L545.2 1471.7L545.4 1471.9L545.4 1508.6L545.6 1456.9L545.9 1463.1L545.9 1550L546.1 1435.7L546.2 1457.7L546.3 1458.9L546.4 1447.3L546.8 1512.8L546.9 1487.9L547 1488.3L547.1 1491.5L547.2 1439.2L547.4 1495.3L547.4 1467.8L547.5 1593.5L547.6 1466L547.6 1492.9L547.8 1451.9L547.9 1456.4L547.9 1437.4L548 1516.6L548.1 1469.5L548.2 1470.2L548.3 1456.2L548.6 1474L548.7 1500.6L549 1444.1L549.1 1476.4L549.2 1471.6L549.3 1502.5L549.5 1512.3L549.5 1470L549.7 1493.5L550 1439.1L550.1 1469.6L550.3 1465.5L550.7 1485.8L550.8 1492.4L550.9 1505.9L551.3 1464.1L551.4 1475.1L551.6 1475L551.7 1526L551.9 1495.9L552 1443.5L552 1471.6L552.1 1522.5L552.2 1533.6L552.4 1453L552.5 1447.6L552.7 1484.1L552.8 1467.8L553.1 1506.1L553.1 1556.3L553.2 1447L553.2 1454.6L553.4 1525.8L553.4 1460.8L553.5 1433.3L553.6 1469.9L553.7 1484.1L553.8 1425.5L554.1 1434.2L554.2 1500L554.3 1473.8L554.3 1466.8L554.5 1436.4L554.6 1475.8L554.9 1477.1L555.1 1479.3L555.2 1446.1L555.2 1469.9L555.4 1505.9L555.6 1469.8L555.7 1448.5L555.9 1526.5L556 1491.6L556 1496.6L556.1 1446.9L556.2 1494.6L556.2 1474.3L556.3 1496.4L556.4 1529.1L556.4 1429.1L556.4 1509L556.5 1476.1L556.7 1458L556.8 1505.7L556.8 1446.6L556.9 1507.5L557 1476.7L557.2 1483.9L557.3 1509.4L557.4 1471.1L557.5 1416.5L557.6 1450.4L557.7 1483L557.8 1440.7L557.9 1499.6L558 1452.9L558.1 1490.1L558.3 1517.5L558.5 1441.4L558.5 1452.6L558.6 1451.3L558.6 1555.7L558.7 1450.4L558.7 1494.4L558.8 1475.9L558.8 1461.3L558.9 1462.1L558.9 1460L559 1453.9L559 1499.4L559.1 1448.9L559.2 1472.4L559.2 1448.3L559.3 1457.9L559.3 1451.6L559.4 1516.8L559.4 1440.5L559.5 1516.7L559.5 1494.4L559.6 1470.3L559.7 1508.5L559.7 1489.8L559.8 1439.2L559.8 1490.3L559.8 1462.3L559.9 1560.9L559.9 1566.8L559.9 1472.2L560 1480.8L560.1 1491.1L560.1 1452L560.1 1490.3L560.2 1466.9L560.3 1497.1L560.3 1523.8L560.3 1473.1L560.4 1486.8L560.4 1455.3L560.5 1463.1L560.5 1520.1L560.6 1502.7L560.7 1524.8L560.8 1446.8L560.9 1583.4L561.4 1466.4L561.4 1461.9L561.5 1491.8L561.8 1473L561.9 1439.1L562.1 1487.3L562.2 1507.2L562.4 1475L562.7 1576.8L562.7 1473.4L562.7 1458.7L563.1 1495.1L563.2 1445.1L563.3 1450.2L563.6 1488.5L563.7 1450.6L564 1503.2L564.1 1502.6L564.2 1461.9L564.2 1504L564.3 1508.4L564.5 1491.5L564.5 1463.8L564.6 1457.3L564.9 1526.2L565.1 1484.2L565.2 1454.5L565.7 1497.4L565.8 1429.6L565.8 1457.4L565.9 1501.8L566 1555.1L566.1 1497.6L566.1 1465.3L566.2 1459.7L566.5 1431.5L566.6 1480.5L566.7 1457.9L566.8 1488.4L566.9 1478L566.9 1467.4L566.9 1479.2L567 1444.2L567 1431.1L567 1498.6L567.1 1473.2L567.2 1470.7L567.2 1454.7L567.2 1480.6L567.3 1480.7L567.4 1440.4L567.4 1478.8L567.5 1467.1L567.5 1436.4L567.6 1485.8L567.7 1475.6L567.7 1445.4L567.7 1451.9L567.8 1465.5L567.9 1484.2L568 1442.9L568 1459.3L568 1481.3L568.1 1543.2L568.2 1502.3L568.2 1488.1L568.2 1495.7L568.3 1515.6L568.3 1442.6L568.4 1430.3L568.4 1455.3L568.4 1449.5L568.8 1438.1L568.9 1503.1L569 1424.4L569 1428.7L569.2 1435.9L569.3 1496.3L569.4 1511.1L569.6 1474.7L569.6 1483.8L569.6 1501L569.6 1460.9L569.7 1473.7L569.9 1501.7L569.9 1476.4L570 1441.7L570.1 1423.2L570.1 1427.6L570.2 1475.6L570.4 1476.4L570.5 1426.3L570.6 1476.7L570.7 1464.7L570.7 1414.7L570.8 1494.5L570.9 1479.5L571 1571.7L571 1457.4L571.1 1481L571.2 1459.2L571.5 1503.4L571.5 1446.9L571.5 1482.4L571.6 1452.5L571.6 1456.9L571.6 1475L571.7 1417.2L571.8 1470.6L571.8 1431.3L571.8 1461.1L571.9 1452.3L571.9 1472.6L572 1458.9L572 1451.1L572.2 1470L572.3 1493.9L572.3 1407.7L572.4 1468.5L572.4 1462.3L572.4 1461.6L572.5 1416.3L572.5 1463.5L572.5 1404.5L572.6 1413.2L572.6 1484.2L572.6 1414.1L572.6 1459L572.7 1408.6L572.7 1481.2L572.8 1408L572.8 1459.5L572.8 1413.7L572.8 1479.1L572.9 1500L572.9 1417.7L573 1474.6L573 1402.7L573.1 1408.1L573.1 1502.2L573.1 1454.6L573.2 1403.7L573.2 1463.1L573.3 1403.8L573.3 1408.6L573.3 1472.1L573.3 1410.6L573.4 1457.6L573.4 1404.8L573.4 1503.9L573.4 1400.5L573.5 1402.1L573.5 1487.9L573.6 1460.6L573.6 1447.5L573.6 1511.3L573.7 1449.4L573.7 1476.8L573.7 1454.5L573.7 1415.3L573.8 1482.8L573.8 1402.4L573.8 1418.6L573.8 1429.3L573.9 1466.9L573.9 1480.7L574 1418.6L574 1481.9L574 1455.9L574 1434.8L574.1 1468.4L574.2 1439.5L574.3 1472.9L574.3 1475L574.3 1445.5L574.4 1401.1L574.4 1392.4L574.5 1458.3L574.5 1406L574.7 1509.2L574.7 1469.1L574.8 1462.2L574.8 1494.4L574.9 1427.7L575 1481.4L575 1387.5L575 1487.6L575 1444.7L575.1 1382.8L575.1 1452L575.1 1491.7L575.2 1447.4L575.2 1383L575.2 1383L575.3 1398.9L575.3 1487.1L575.4 1454.5L575.4 1458.7L575.4 1480.4L575.5 1383.7L575.5 1403L575.6 1443.5L575.6 1379.5L575.6 1483.8L575.7 1383.7L575.8 1414L575.8 1464.2L575.9 1457L575.9 1506.8L576 1478.2L576 1444.6L576 1472.5L576.1 1462.8L576.2 1484.5L576.2 1470.1L576.2 1368.2L576.3 1478.9L576.3 1499.2L576.4 1370.2L576.4 1443.2L576.5 1461.7L576.6 1509.6L576.6 1454.7L576.7 1355.3L576.7 1448.1L576.8 1355.7L576.8 1348L576.8 1480.2L576.9 1560L576.9 1362.7L576.9 1367.8L577 1464.3L577 1502.3L577.1 1390.5L577.1 1468.7L577.2 1482.4L577.2 1457.8L577.3 1492.8L577.3 1456.2L577.3 1504.3L577.4 1496.3L577.4 1376.1L577.5 1490.9L577.6 1486.2L577.6 1535.1L577.6 1459.1L577.7 1381.9L577.7 1462.2L577.7 1372.2L577.8 1420.6L577.8 1437.8L577.8 1456.8L577.8 1478.1L577.9 1482.8L577.9 1428.4L577.9 1463.8L577.9 1548L578 1445.3L578 1480.9L578 1522.7L578 1468.8L578.1 1475.9L578.2 1457.9L578.2 1515.7L578.2 1465.2L578.3 1479.1L578.3 1397.2L578.4 1464.9L578.4 1466.8L578.5 1474.7L578.5 1385.5L578.6 1468.7L578.7 1482.3L578.7 1464.9L578.7 1460.5L578.8 1462.8L578.8 1390.5L578.9 1389.6L578.9 1440.9L578.9 1503.5L579 1482.8L579.1 1398.8L579.1 1460.7L579.2 1392.9L579.2 1485.1L579.2 1469.8L579.3 1473.9L579.3 1496.9L579.4 1473.2L579.5 1473.1L579.6 1476.1L579.6 1399.1L579.7 1523.2L579.8 1467L579.8 1462.3L579.9 1465.3L579.9 1456.3L579.9 1432L580 1459.8L580.1 1466.1L580.2 1507.1L580.2 1454.9L580.3 1403.5L580.3 1404.7L580.4 1518.1L580.6 1495L580.6 1467.6L580.7 1468L580.7 1480.3L580.7 1447.9L580.8 1404.8L580.8 1495.3L580.8 1505.2L580.9 1474L580.9 1434.9L580.9 1433L580.9 1485.9L581 1419.7L581 1517.1L581.1 1453.1L581.1 1468.1L581.2 1487.1L581.3 1413.4L581.3 1502L581.3 1440.1L581.3 1445.4L581.4 1450.7L581.4 1446.6L581.6 1451.1L581.6 1482.5L581.9 1425.9L582.1 1501.3L582.2 1484.6L582.2 1480.7L582.2 1482.2L582.3 1483.3L582.3 1412.8L582.3 1446.9L582.4 1477.8L582.6 1499.2L582.8 1451.5L582.9 1492.4L582.9 1460.9L583 1505.8L583.1 1498L583.2 1488.6L583.4 1444.5L583.4 1420.8L583.6 1433.3L583.7 1498.4L583.8 1428.7L584 1496L584.1 1495.7L584.1 1425.5L584.2 1534.2L584.2 1445.3L584.5 1532.9L584.5 1477.7L584.6 1456.3L584.7 1499.9L585.2 1434.6L585.3 1510L585.4 1456.9L585.4 1537.3L585.6 1466.8L585.6 1490.2L585.7 1437.1L585.8 1504.5L586 1502.5L586.2 1478.7L586.3 1502.2L586.4 1497.5L586.5 1426.7L586.6 1438.1L586.9 1430.4L587 1456.8L587.1 1455.3L587.5 1510.6L587.5 1443.3L587.7 1468.2L588.2 1445.5L588.4 1481.7L588.6 1518.8L588.7 1518.7L588.8 1515.2L588.9 1519.4L588.9 1480.8L589 1490L589 1475.3L589.1 1520.2L589.1 1529.6L589.2 1470.5L589.2 1519.1L589.3 1524L589.7 1471.5L589.7 1478.7L590.2 1449L590.4 1491.6L590.7 1438.3L590.8 1479.2L590.9 1485.6L591.1 1420.1L591.1 1477.3L591.3 1481.5L591.4 1528.1L591.8 1493.2L592 1511.6L592 1481.6L592.3 1456.3L592.4 1523.3L592.9 1522.8L592.9 1432.9L593 1458.4L593 1523.2L593.1 1510.2L593.2 1551.4L593.3 1527.8L593.3 1544L593.5 1468.7L593.5 1438L593.7 1470.7L593.9 1437.2L594 1491.3L594 1471.2L594.1 1425.5L594.3 1428.9L594.4 1471.9L594.8 1437.8L594.9 1466.5L595 1475.5L595.1 1503.3L595.6 1429.5L595.6 1526.9L595.8 1525.2L595.9 1504.6L596 1522.5L596 1494L596.2 1516.3L596.2 1469.7L596.2 1524L596.3 1525.3L596.4 1473.8L596.4 1519.9L596.5 1431.7L596.9 1496.4L597 1496.8L597.3 1514.3L597.4 1434.7L597.5 1510.3L597.5 1439.7L597.6 1537.9L597.7 1533L597.8 1488.9L597.8 1467L598 1440.5L598.1 1439L598.2 1477.7L598.5 1549.1L598.8 1453.7L598.9 1473L599.1 1482.7L599.1 1529.5L599.1 1484.4L599.3 1543.6L599.6 1501.7L599.7 1422.7L599.9 1471.3L600 1475.2L600.2 1490.9L600.3 1528.8L600.5 1585.9L600.6 1454L600.6 1429.5L600.9 1490.5L600.9 1445.8L600.9 1434.5L601.2 1473.5L601.3 1454.9L601.4 1436.2L601.5 1455.9L601.6 1480.4L602.1 1451.4L602.2 1516.9L602.5 1433.9L602.6 1528.1L602.6 1468.1L602.7 1498.9L603 1525.6L603.1 1487.6L603.2 1557L603.4 1478.3L603.4 1425.1L603.6 1483.3L603.8 1485.8L603.8 1533.4L603.9 1527.1L604 1482.5L604.1 1502.5L604.4 1557.8L604.5 1528.6L604.5 1469.7L604.6 1445L605 1480.6L605.1 1447.9L605.5 1435.1L605.6 1458.2L605.8 1473.5L606 1498.5L606.1 1527.9L606.2 1526L606.5 1509.6L606.6 1488.8L606.7 1514.6L606.7 1504.1L606.8 1507.8L606.8 1547.7L606.8 1526.2L606.9 1508L607 1490.2L607 1545.7L607.2 1503.9L607.2 1497.4L607.3 1524.6L607.3 1507.9L607.5 1466.2L607.7 1438.9L607.7 1469.8L607.9 1557.8L608 1475.9L608.4 1492.6L608.4 1493.6L608.5 1535.9L608.7 1420.9L608.7 1531.2L608.7 1472.2L608.8 1456.5L608.8 1623.5L608.8 1548.2L609.2 1524.5L609.2 1544.9L609.3 1435.3L609.4 1505L609.5 1486.4L609.6 1481.3L609.7 1491.4L610.1 1446.1L610.2 1574.4L610.3 1539.2L610.5 1478.4L610.6 1561.9L610.6 1469.7L610.7 1550.2L610.7 1464.9L610.8 1534.4L611 1434.6L611 1434.8L611.2 1493.7L611.2 1528.6L611.3 1458.6L611.3 1540.3L611.4 1514.8L611.6 1564.3L611.7 1532.7L611.9 1504.9L611.9 1519.3L611.9 1503.8L612.2 1479.7L612.2 1519.4L612.2 1464.9L612.3 1520.9L612.3 1429.4L612.6 1532.1L612.7 1423.6L612.7 1488.1L612.8 1540.8L612.9 1529.3L612.9 1540.7L612.9 1523.5L613 1539.7L613 1464.3L613 1525.2L613.2 1502.6L613.2 1489.6L613.3 1520.8L613.4 1525.9L613.5 1520.6L613.6 1466.2L613.9 1468.2L614 1450.9L614.1 1550.2L614.2 1469.9L614.6 1559.4L614.9 1484.1L614.9 1507.9L615.1 1456.8L615.1 1563L615.2 1452.7L615.2 1530.9L615.4 1546.4L615.6 1481.6L615.8 1472L615.9 1431.2L615.9 1530L616.1 1487.6L616.3 1596L616.5 1445.5L616.8 1516.2L616.8 1469.6L616.9 1570.6L616.9 1562.4L616.9 1432.7L617.1 1466.6L617.2 1441.4L617.4 1465.4L617.6 1529.2L617.6 1521L617.7 1525.8L617.8 1529.2L617.8 1520.9L617.9 1492.3L618 1582.3L618 1466.1L618.1 1485.5L618.3 1531.3L618.4 1480.3L618.4 1521.7L618.5 1539.9L618.5 1449.8L618.7 1478.4L618.7 1539.7L618.8 1552.2L618.9 1548.3L619.2 1549.2L619.3 1494.3L619.4 1488.7L619.6 1530.3L619.7 1481L620 1503.3L620 1435.7L620 1532L620.3 1560.8L620.4 1490.2L620.4 1494.4L620.4 1527.1L620.5 1531.6L620.7 1590L620.7 1529.8L620.7 1533.1L620.8 1557.2L620.9 1466.4L620.9 1471.4L620.9 1525.3L621 1554.2L621.1 1452.4L621.2 1528L621.3 1483.4L621.8 1492.8L621.9 1537.8L622 1456.1L622.2 1482.7L622.4 1468.9L622.5 1569.6L622.6 1533.2L622.6 1524.7L622.7 1468.6L623 1531.3L623.5 1483.1L623.6 1454.9L623.6 1453.8L623.7 1427.7L624 1431.3L624.2 1502L624.4 1489.6L624.6 1451.9L624.7 1461.3L625 1431.3L625 1451.6L625.1 1541L625.4 1482.9L625.7 1482.9L625.7 1463.6L625.9 1548.3L625.9 1569.1L626 1463.7L626.2 1509.6L626.6 1538.6L626.8 1467L626.8 1537.6L626.9 1455.5L626.9 1525.7L626.9 1520.1L627.1 1478.8L627.2 1472.6L627.2 1528.8L627.3 1421L627.6 1430.5L627.6 1465.3L627.9 1471.4L628 1543.9L628 1476.4L628.1 1452.1L628.6 1555.5L628.8 1464.5L628.8 1461.5L629.2 1558L629.2 1487.6L629.5 1486.7L629.8 1561.9L630 1453.6L630 1491.6L630.1 1542.4L630.4 1461.4L630.4 1464L630.5 1456.5L630.7 1550.4L630.9 1461.3L631 1476.9L631.3 1501.4L631.7 1494.6L631.7 1421.7L631.8 1462.8L632 1467.5L632.1 1436.7L632.2 1443.6L632.7 1541.5L632.7 1464.3L632.8 1439.5L632.9 1529.5L633.1 1564.8L633.1 1533.3L633.2 1475.5L633.2 1459.6L633.3 1546L633.3 1545L633.4 1545.5L633.6 1504.3L633.8 1498.4L634 1537.9L634 1480.1L634.2 1545.1L634.5 1476.4L634.6 1469.8L634.7 1537.4L634.8 1490.6L635 1550.1L635.1 1477.9L635.2 1428.2L635.2 1466L635.4 1549.5L635.5 1454.6L635.9 1486.8L635.9 1570.8L636.1 1549.2L636.1 1541.5L636.3 1470.3L636.4 1503L636.6 1469L636.9 1535.6L636.9 1449.1L637.2 1476.4L637.2 1562.6L637.4 1457L637.5 1540L637.8 1504.7L638 1554.6L638 1476.1L638.1 1534.5L638.2 1563.1L638.2 1554.4L638.3 1440.4L638.5 1456.4L638.5 1540.9L638.7 1429.4L638.7 1570.2L638.8 1546.4L638.8 1447.8L638.9 1461.9L639 1540.9L639.2 1568.4L639.3 1460.3L639.4 1578.4L639.4 1558.8L639.4 1474L639.6 1465.7L639.6 1472.3L639.8 1430L640 1467.6L640.3 1536.6L640.5 1491.4L640.5 1501.5L640.6 1478.7L640.6 1596.5L640.7 1545L641 1542.5L641 1478.7L641.1 1588.2L641.1 1531.5L641.1 1451.3L641.3 1429.9L641.6 1567.1L641.7 1424.6L641.8 1447.5L641.8 1487.6L642.1 1558.9L642.3 1540.3L642.3 1469.1L642.3 1421.6L642.4 1481.9L642.4 1535.6L642.7 1458.5L642.8 1546L642.9 1538.4L642.9 1497L642.9 1552.4L643.1 1429.2L643.3 1467.8L643.4 1530.5L643.4 1473.9L643.4 1544.1L643.5 1551.5L643.7 1556.9L643.7 1548.3L643.8 1462.1L643.8 1495.9L644 1540.4L644.1 1536.4L644.3 1465.1L644.4 1535L644.5 1450.8L644.6 1544.7L644.8 1500.2L644.9 1537L645 1460.6L645 1539.3L645.1 1468.6L645.2 1531L645.3 1550.5L645.3 1536.4L645.4 1623.1L645.4 1520.7L645.5 1558L645.6 1488.9L645.7 1431.3L645.7 1466.4L646.3 1478.3L646.5 1472.4L646.7 1507.1L646.8 1582.9L646.8 1555.5L646.8 1475.1L647.1 1426.2L647.2 1461.8L647.3 1581.3L647.3 1551.9L647.3 1561.3L647.4 1538.4L647.5 1449.5L647.6 1503L647.7 1552.8L647.9 1448.2L648 1567.1L648.1 1463.6L648.2 1486.6L648.3 1431.8L648.7 1465.1L648.7 1425.7L648.9 1525.8L649.1 1460.5L649.1 1546L649.1 1439L649.4 1538.1L649.6 1545.5L649.7 1457.3L649.7 1569.7L649.8 1450.1L649.9 1565.5L650 1545.6L650 1424.4L650.2 1553.2L650.3 1463.6L650.3 1471.1L650.4 1547.4L650.5 1587L650.6 1455.1L650.7 1420.1L650.8 1563.7L650.9 1467.5L651.2 1547.2L651.2 1537.5L651.4 1462.9L651.5 1447.7L651.5 1497.3L651.9 1506.7L652 1455.4L652 1544.3L652.2 1511L652.4 1434.2L652.5 1553.7L652.7 1489.4L652.7 1567.9L652.9 1563L652.9 1546.4L653 1453.1L653 1435L653.1 1567.2L653.2 1491.5L653.4 1512.6L653.5 1469.6L653.5 1585.1L653.7 1500.8L653.8 1572L654 1465.8L654.1 1491.4L654.1 1563.9L654.4 1578.4L654.5 1430.8L654.6 1553.7L654.6 1461.2L654.6 1502.7L654.9 1430.4L655 1481.7L655.3 1480.2L655.4 1431.2L655.6 1487.9L655.7 1422.9L655.8 1472.9L656.4 1462.8L656.5 1474.9L656.5 1425.4L656.6 1487L656.9 1467.5L657.1 1483L657.1 1553L657.4 1467.4L657.6 1487.9L657.8 1540.3L657.9 1490.3L658.1 1435.7L658.2 1561.2L658.3 1505L658.6 1485.5L658.7 1479L658.7 1428.8L658.8 1599.8L659.2 1414.2L659.3 1510.9L659.3 1548.8L659.4 1472.6L659.5 1532.7L659.8 1551.8L659.8 1548L659.8 1458.1L659.8 1473.7L660 1551.2L660.2 1497.4L660.3 1461.1L660.3 1537.6L660.4 1551.5L660.4 1538.8L660.7 1494.6L660.9 1488.2L660.9 1431.2L661.2 1464.5L661.3 1430.9L661.4 1496.5L661.7 1476.6L661.7 1513.2L661.8 1422L661.9 1426.6L662.2 1431.2L662.4 1594.9L662.4 1462.8L662.4 1456.8L662.5 1557.9L662.6 1576.2L662.6 1560.3L662.6 1569.8L662.8 1552.7L662.8 1508.5L663 1496.9L663 1481.7L663.3 1461.4L663.6 1581.9L663.7 1423.9L663.8 1481.5L664 1445.5L664.1 1559.4L664.2 1492.5L664.2 1561.5L664.3 1460.6L664.7 1452.8L664.7 1579L665 1481L665.1 1423.1L665.2 1450.4L665.2 1471.6L665.6 1456.1L665.7 1467.2L665.7 1429.7L665.7 1560.9L666.1 1488.1L666.2 1455.8L666.4 1563.5L666.5 1556.4L666.5 1538.2L666.6 1462.1L666.6 1544.7L666.7 1590L666.9 1545.5L667 1424.5L667 1469L667.1 1543.8L667.2 1430.3L667.2 1549.7L667.3 1430.3L667.4 1458.7L667.5 1444.6L667.7 1554.5L667.9 1476.7L668 1523.7L668.1 1455.5L668.2 1538.8L668.3 1498.8L668.4 1549.6L668.5 1496.1L668.5 1569L668.6 1471.4"/></defs>
<use href="#lne" fill="none" stroke="#0000ff" stroke-width="2.1" stroke-linejoin="bevel"/>
<polygon points="515,1454.8 516,1454.8 517,1449.7 518,1449.7 519,1449.3 520,1443.1 521,1447.3 522,1455.6 523,1456.5 524,1456.1 525,1447.8 526,1448.5 527,1455.2 528,1455.2 529,1455.3 530,1451 531,1446.3 532,1446.3 533,1443.6 534,1469.2 535,1442.2 536,1442.2 537,1442.2 538,1442.2 539,1446.1 540,1459.5 541,1442.9 542,1442.9 543,1442.9 544,1442.9 545,1447.3 546,1447.3 547,1444.1 548,1455.8 549,1444.1 550,1443.5 551,1443.5 552,1443.5 553,1451.8 554,1443.5 555,1446.1 556,1446.1 557,1446.1 558,1446.6 559,1466.9 560,1466.4 561,1439.1 562,1439.1 563,1439.1 564,1427.1 565,1425.5 566,1423.5 567,1422.4 568,1420.2 569,1414.7 570,1411.7 571,1402.7 572,1397.5 573,1423.2 574,1382.8 575,1382.8 576,1355.3 577,1355.3 578,1355.3 579,1380.7 580,1380.7 581,1389.6 582,1400.8 583,1405.9 584,1408.8 585,1415.9 586,1419.4 587,1422.5 588,1425.1 589,1426.4 590,1434.2 591,1438.3 592,1437.2 593,1437.2 594,1437.2 595,1428.9 596,1428.9 597,1439 598,1439 599,1429.5 600,1429.5 601,1445.4 602,1429.5 603,1433.9 604,1433.9 605,1435.1 606,1435.1 607,1435.1 608,1438.9 609,1434.6 610,1442.1 611,1434.6 612,1434.6 613,1434.6 614,1429.4 615,1431.2 616,1431.2 617,1440.5 618,1431.2 619,1432.7 620,1435.7 621,1432.9 622,1431.3 623,1431.3 624,1431.3 625,1431.3 626,1430.5 627,1430.5 628,1430.5 629,1430.5 630,1436.5 631,1436.7 632,1436.7 633,1432 634,1432 635,1428.2 636,1428.2 637,1428.2 638,1429.4 639,1429.4 640,1433.4 641,1429.2 642,1429.2 643,1429.2 644,1429.2 645,1426.2 646,1431.3 647,1431.3 648,1431.8 649,1431.8 650,1431.8 651,1433.3 652,1434.2 653,1434.2 654,1430.4 655,1430.4 656,1430.4 657,1428.8 658,1428.8 659,1428.8 660,1426.6 661,1430.5 662,1430.5 663,1430.5 664,1423.1 665,1429.7 666,1429.7 667,1429.7 668,1430.3 669,1435 669,1532.9 668,1539 667,1539 666,1549.9 665,1549.9 664,1552.7 663,1552.7 662,1552.7 661,1552.7 660,1533.7 659,1533.7 658,1541.2 657,1553 656,1553.7 655,1546.4 654,1546.4 653,1547.2 652,1537.5 651,1538.1 650,1538.1 649,1538.4 648,1538.4 647,1539.3 646,1540.4 645,1531.7 644,1531 643,1531.5 642,1531.5 641,1531.5 640,1536.6 639,1536.6 638,1535.6 637,1535.6 636,1541.5 635,1537.9 634,1537.9 633,1529.5 632,1546 631,1542.4 630,1539 629,1539 628,1538.6 627,1520.1 626,1548.3 625,1541 624,1541 623,1533.2 622,1533.2 621,1519.8 620,1521.7 619,1521.7 618,1521.7 617,1531.3 616,1530.9 615,1530.9 614,1532.1 613,1514.8 612,1515.4 611,1515.9 610,1524.5 609,1524.6 608,1518.3 607,1504.1 606,1528.6 605,1528.6 604,1520.6 603,1520.5 602,1528.8 601,1529.5 600,1529.5 599,1529.5 598,1529.5 597,1529.5 596,1516.3 595,1527.8 594,1527.8 593,1524.3 592,1524.3 591,1524 590,1524 589,1511.4 588,1511.3 587,1510.6 586,1490.2 585,1492.4 584,1492.4 583,1488.6 582,1474 581,1434.9 580,1434.9 579,1440.9 578,1421.7 577,1404 576,1406 575,1418.6 574,1418.6 573,1463.5 572,1437.8 571,1464.7 570,1464.7 569,1488.4 568,1445.7 567,1445.9 566,1492.9 565,1504 564,1497.6 563,1496.2 562,1507.2 561,1508.5 560,1482.3 559,1509.4 558,1499.6 557,1499.6 556,1483.9 555,1500 554,1500 553,1500.9 552,1500.9 551,1502.5 550,1502.5 549,1502.5 548,1502.5 547,1495.3 546,1496.1 545,1496.1 544,1486.7 543,1485.9 542,1485.9 541,1486.1 540,1489.5 539,1489.5 538,1481.9 537,1482.7 536,1473.7 535,1484.3 534,1488.9 533,1487.3 532,1488.5 531,1479.7 530,1488.7 529,1490.3 528,1490.3 527,1490.3 526,1490.3 525,1490.3 524,1488.5 523,1488.5 522,1481.1 521,1481.1 520,1487.3 519,1466.7 518,1466.7 517,1468.6 516,1468.6 515,1477" fill="#ff0000" stroke="#ff0000" stroke-width="1.5" stroke-linejoin="round"/>
<use href="#lne" fill="none" stroke="none" style="marker-start:url(#mk);marker-mid:url(#mk);marker-end:url(#mk)"/>
<g stroke="#1a1a1a" fill="none">
<path stroke-width="1.4" d="M118.2 1697.5v-8M214.8 1697.5v-8M311.4 1697.5v-8M408 1697.5v-8M504.6 1697.5v-8M601.2 1697.5v-8"/>
<path stroke-width="1.4" d="M147.3 1697.5v-3.4M164.3 1697.5v-3.4M176.4 1697.5v-3.4M185.7 1697.5v-3.4M193.4 1697.5v-3.4M199.8 1697.5v-3.4M205.4 1697.5v-3.4M210.4 1697.5v-3.4M243.9 1697.5v-3.4M260.9 1697.5v-3.4M273 1697.5v-3.4M282.3 1697.5v-3.4M290 1697.5v-3.4M296.4 1697.5v-3.4M302 1697.5v-3.4M307 1697.5v-3.4M340.5 1697.5v-3.4M357.5 1697.5v-3.4M369.6 1697.5v-3.4M378.9 1697.5v-3.4M386.6 1697.5v-3.4M393 1697.5v-3.4M398.6 1697.5v-3.4M403.6 1697.5v-3.4M437.1 1697.5v-3.4M454.1 1697.5v-3.4M466.2 1697.5v-3.4M475.5 1697.5v-3.4M483.2 1697.5v-3.4M489.6 1697.5v-3.4M495.2 1697.5v-3.4M500.2 1697.5v-3.4M533.7 1697.5v-3.4M550.7 1697.5v-3.4M562.8 1697.5v-3.4M572.1 1697.5v-3.4M579.8 1697.5v-3.4M586.2 1697.5v-3.4M591.8 1697.5v-3.4M596.8 1697.5v-3.4M630.3 1697.5v-3.4M647.3 1697.5v-3.4M659.4 1697.5v-3.4M668.7 1697.5v-3.4M676.4 1697.5v-3.4"/>
<rect x="118.5" y="1247.6" width="558.5" height="449.9" stroke-width="1.7"/>
</g>
<g font-size="22">
<text x="118.2" y="1726.4" text-anchor="middle">0.001</text>
<text x="214.8" y="1726.4" text-anchor="middle">0.01</text>
<text x="311.4" y="1726.4" text-anchor="middle">0.1</text>
<text x="408" y="1726.4" text-anchor="middle">1</text>
<text x="504.6" y="1726.4" text-anchor="middle">10</text>
<text x="601.2" y="1726.4" text-anchor="middle">100</text>
<text x="107.5" y="1279" text-anchor="end">0.001</text>
<text x="107.5" y="1364.1" text-anchor="end">1E-4</text>
<text x="107.5" y="1449.2" text-anchor="end">1E-5</text>
<text x="107.5" y="1534.3" text-anchor="end">1E-6</text>
<text x="107.5" y="1619.4" text-anchor="end">1E-7</text>
<text x="107.5" y="1704.5" text-anchor="end">1E-8</text>
</g>
<text x="397" y="1764.3" font-size="25.3" text-anchor="middle">Frequency(Hz)</text>
<text transform="translate(44.3 1473) rotate(-90)" font-size="25.3" text-anchor="middle">Power/Frequency(W/Hz)</text>
<text x="102.5" y="1825" font-size="32.4" fill="#000" stroke="#000" stroke-width=".25">(e) 0.05 Hz frequency domain response</text>
<rect x="538.5" y="1270.5" width="132" height="31.5" fill="#fff" stroke="#8a8a8a" stroke-width="1.2"/>
<path d="M542 1286H594" stroke="#0000ff" stroke-width="1.8"/>
<rect x="566.4" y="1284.4" width="3.2" height="3.2" fill="#ff0000"/>
<text x="600" y="1293.8" font-size="23.2">0.05Hz</text>
</g>
<g id="panel-f">
<defs><path id="lnf" d="M954 1252.5L989.5 1258.5L1010 1299.5L1025 1322L1036.5 1340L1045.8 1351L1053.8 1366L1060.6 1362.5L1066.7 1372.5L1072.1 1383.5L1077 1376.5L1081.5 1396L1085.6 1393.5L1089.4 1396L1093 1395L1096.3 1411L1099.4 1386.5L1102.4 1395L1105.2 1412.6L1107.8 1417.3L1110.3 1400.1L1112.7 1407.3L1115 1408.2L1117.2 1422.1L1119.3 1448L1121.3 1434.5L1123.2 1430.6L1125.1 1424.6L1126.9 1432.4L1128.7 1431.6L1130.4 1434.9L1132 1439.3L1133.6 1431.4L1135.1 1443L1136.6 1430.4L1138.1 1433.9L1139.5 1456.2L1140.8 1473.6L1142.2 1409.7L1143.5 1430.9L1144.7 1422.4L1146 1402L1147.2 1445.3L1148.4 1487.3L1149.5 1424.4L1150.7 1482.5L1151.8 1457.8L1152.9 1448.4L1153.9 1440.5L1155 1456L1156 1440.2L1157 1444.5L1158 1487.8L1158.9 1456L1159.9 1455.7L1160.8 1430.1L1161.7 1441.9L1162.6 1464.6L1163.5 1427.7L1164.3 1478.4L1165.2 1441L1166 1459.1L1166.9 1426.1L1167.7 1444.4L1168.5 1458.5L1169.2 1480L1170 1514.9L1170.8 1510L1171.5 1454.4L1172.3 1463.8L1173 1443.7L1173.7 1438.7L1174.4 1481.8L1175.1 1461L1175.8 1498.2L1176.5 1489.4L1177.2 1445.2L1177.8 1482.3L1178.5 1500.4L1179.1 1491.7L1179.8 1481.7L1180.4 1475.8L1181 1477.1L1181.7 1494.2L1182.3 1463.6L1182.9 1457.3L1183.5 1500.1L1184.1 1437.2L1184.6 1478.2L1185.2 1476.8L1185.8 1473.6L1186.3 1484.2L1186.9 1504.4L1187.4 1467.5L1188 1451.5L1188.5 1536L1189.1 1462.9L1189.6 1453.4L1190.1 1453.2L1190.6 1519.3L1191.1 1525.5L1191.7 1447.8L1192.2 1492.2L1192.7 1486.9L1193.1 1484.3L1193.6 1545.1L1194.1 1451.5L1194.6 1465.5L1195.1 1467.7L1195.5 1469.1L1196 1473.9L1196.5 1498.4L1196.9 1447.7L1197.4 1495L1197.8 1468.7L1198.3 1484.6L1198.7 1469.4L1199.2 1488.2L1199.6 1505.5L1200 1514.3L1200.4 1451.5L1200.9 1461.7L1201.3 1485.9L1201.7 1475.2L1202.1 1449.4L1202.5 1491.3L1202.9 1519.4L1203.3 1438.3L1203.7 1470.6L1204.1 1475.6L1204.5 1510.3L1204.9 1509.6L1205.3 1500.3L1205.7 1478.8L1206.1 1457.3L1206.5 1477L1206.8 1472.3L1207.2 1460.1L1207.6 1497.8L1207.9 1488.6L1208.3 1485.3L1208.7 1496.8L1209 1537.2L1209.4 1518.4L1209.8 1439L1210.1 1479.1L1210.5 1465.3L1210.8 1517.1L1211.2 1422.8L1211.5 1499.1L1211.8 1494.4L1212.2 1575.8L1212.5 1495.4L1212.9 1447.4L1213.2 1451.6L1213.5 1460L1213.8 1470.7L1214.2 1459L1214.5 1499.8L1214.8 1492.1L1215.1 1474.3L1215.5 1476.5L1215.8 1496.3L1216.1 1468.1L1216.4 1448.8L1216.7 1494.8L1217 1491L1217.3 1453.8L1217.6 1487.6L1217.9 1447.8L1218.2 1488.5L1218.5 1466.9L1218.8 1481.5L1219.1 1430.8L1219.4 1512.9L1219.7 1513.7L1220 1526L1220.3 1507.3L1220.6 1464.3L1220.9 1497.8L1221.2 1500.9L1221.5 1463.5L1221.7 1485.5L1222 1464.9L1222.3 1483.6L1222.6 1472.3L1222.8 1496.8L1223.1 1535L1223.4 1457.8L1223.7 1466L1223.9 1485.5L1224.2 1467.4L1224.5 1466.6L1224.7 1464.1L1225 1502.1L1225.3 1479.7L1225.5 1471.8L1225.8 1490.6L1226 1502.9L1226.3 1462.2L1226.6 1462L1226.8 1480.6L1227.1 1489.4L1227.3 1424.6L1227.6 1443.9L1227.8 1474.6L1228.1 1502.4L1228.3 1477.7L1228.6 1503.6L1228.8 1499.8L1229.1 1519.7L1229.3 1450.1L1229.5 1529L1229.8 1499.6L1230 1468.6L1230.3 1505.1L1230.5 1417L1230.7 1447.7L1231 1502.3L1231.2 1456L1231.4 1487.2L1231.7 1463.3L1231.9 1512.3L1232.1 1481.1L1232.4 1475.3L1232.6 1490.1L1232.8 1483.7L1233 1483.2L1233.3 1467.9L1233.5 1546.1L1233.7 1497.6L1233.9 1488.7L1234.2 1474.7L1234.4 1463.3L1234.6 1516.8L1234.8 1484.1L1235 1470.9L1235.3 1431.9L1235.5 1491.3L1235.7 1485.4L1235.9 1479.3L1236.1 1482.9L1236.3 1508.8L1236.5 1483.5L1236.7 1493.6L1237 1495L1237.2 1494.6L1237.4 1538.7L1237.6 1489.8L1237.8 1444.4L1238 1505L1238.2 1487L1238.4 1476.2L1238.6 1506.4L1238.8 1455.5L1239 1524.6L1239.2 1482.7L1239.4 1541.2L1239.6 1518L1239.8 1455.1L1240 1523.6L1240.2 1497.5L1240.4 1501.8L1240.6 1484.6L1240.8 1499L1241 1460.3L1241.2 1492.9L1241.4 1472L1241.6 1506L1241.7 1528.4L1241.9 1496.4L1242.1 1490.5L1242.3 1466.1L1242.5 1469.9L1242.7 1513.3L1242.9 1554.5L1243.1 1485.6L1243.3 1459.9L1243.4 1471.1L1243.6 1470.3L1243.8 1478.6L1244 1481.9L1244.2 1459L1244.4 1492.4L1244.5 1468.7L1244.7 1479.6L1244.9 1491.2L1245.1 1459.2L1245.2 1519.7L1245.4 1477.9L1245.6 1479.1L1245.8 1492.5L1246 1466.8L1246.1 1546.9L1246.3 1454.7L1246.5 1510.5L1246.7 1502.2L1246.8 1442.7L1247 1471.5L1247.2 1483.7L1247.3 1472.1L1247.5 1495L1247.7 1497.4L1247.9 1518.2L1248 1491.2L1248.2 1462.1L1248.4 1489.2L1248.5 1472.1L1248.7 1474L1248.9 1560.7L1249 1512.2L1249.2 1475.3L1249.4 1481L1249.5 1525.5L1249.7 1478.9L1249.8 1517.5L1250 1557.7L1250.2 1512.7L1250.3 1485.3L1250.5 1503.5L1250.7 1492L1250.8 1500L1251 1456.9L1251.1 1467.6L1251.3 1486.7L1251.4 1467.4L1251.6 1495L1251.8 1477.2L1251.9 1544.4L1252.1 1500.2L1252.2 1451.6L1252.4 1504L1252.5 1526.5L1252.7 1530.6L1252.9 1490.1L1253 1474.8L1253.2 1495.1L1253.3 1463.6L1253.5 1535.1L1253.6 1505L1253.8 1496.5L1253.9 1560.3L1254.1 1448.4L1254.2 1522.6L1254.4 1512L1254.5 1548L1254.7 1497.4L1254.8 1511.1L1255 1487.2L1255.1 1482.3L1255.3 1488.5L1255.4 1501.6L1255.5 1499.7L1255.7 1544.8L1255.8 1538.4L1256 1443.2L1256.1 1494.7L1256.3 1532.9L1256.4 1475.4L1256.6 1523.7L1256.7 1488.5L1256.8 1446.5L1257 1518.1L1257.1 1484.4L1257.3 1527.1L1257.4 1476.3L1257.5 1494.8L1257.7 1516.8L1257.8 1482.5L1258 1511.4L1258.1 1544.3L1258.2 1492.4L1258.4 1513.4L1258.5 1510.7L1258.7 1511.5L1258.8 1475.9L1258.9 1473.9L1259.1 1490.9L1259.2 1415.2L1259.3 1484.4L1259.5 1495.5L1259.6 1507.3L1259.7 1479.7L1259.9 1573.1L1260 1469.1L1260.1 1539.2L1260.3 1460.2L1260.4 1465.2L1260.5 1480.4L1260.7 1553L1260.8 1468.4L1260.9 1502.7L1261.1 1518.9L1261.2 1533.9L1261.3 1481.9L1261.5 1447L1261.6 1511.8L1261.7 1511.5L1261.8 1491.7L1262 1510.6L1262.1 1489L1262.2 1540.7L1262.4 1507.1L1262.5 1503.3L1262.6 1562.2L1262.7 1447.8L1262.9 1556.2L1263 1500.2L1263.1 1520.7L1263.2 1492.1L1263.4 1505.5L1263.5 1496.1L1263.6 1486.3L1263.7 1516.1L1263.9 1486L1264 1490.6L1264.1 1526L1264.2 1500.3L1264.4 1539.3L1264.5 1508.3L1264.6 1501.9L1264.7 1489.4L1264.9 1467.6L1265 1552.6L1265.1 1561.8L1265.2 1532.2L1265.3 1530L1265.5 1499.7L1265.6 1446L1265.7 1465.3L1265.8 1495.3L1265.9 1455.6L1266.1 1508.7L1266.2 1473.4L1266.3 1523.8L1266.4 1493.5L1266.5 1526.8L1266.6 1483.3L1266.8 1511.7L1266.9 1497.6L1267 1457.8L1267.1 1471.8L1267.2 1491.2L1267.3 1543L1267.5 1504.4L1267.6 1548.5L1267.7 1494.1L1267.8 1477.4L1267.9 1507.3L1268 1488.5L1268.2 1475.9L1268.3 1539.9L1268.4 1521.8L1268.5 1506.3L1268.6 1497.6L1268.7 1500.2L1268.8 1481.9L1268.9 1470.7L1269.1 1474.3L1269.2 1538.3L1269.3 1528.1L1269.4 1521.3L1269.5 1512.3L1269.6 1463.9L1269.7 1539.1L1269.8 1503.8L1269.9 1515.2L1270.1 1520.4L1270.2 1531.1L1270.3 1496L1270.4 1498.8L1270.5 1464.2L1270.6 1457.8L1270.7 1501.3L1270.8 1489.7L1270.9 1510L1271 1553.9L1271.1 1474.2L1271.3 1543.4L1271.4 1466.8L1271.5 1518.6L1271.6 1498.6L1271.7 1472.9L1271.8 1491.9L1271.9 1520L1272 1526.8L1272.1 1491.1L1272.2 1493.7L1272.3 1517.7L1272.4 1447.4L1272.5 1525.3L1272.6 1473.7L1272.7 1515.8L1272.8 1492.3L1272.9 1490.2L1273 1495.4L1273.3 1500.5L1273.4 1493.3L1273.5 1610.2L1273.6 1512.8L1273.7 1514.1L1273.8 1461.1L1273.9 1531.5L1274 1454.1L1274.1 1469.6L1274.2 1488L1274.3 1440.6L1274.4 1529.5L1274.5 1445L1274.6 1478.3L1274.7 1451.6L1274.8 1485.4L1274.9 1472.6L1275 1490.2L1275.1 1544.4L1275.2 1433.7L1275.3 1500.1L1275.4 1480.4L1275.5 1447.4L1275.6 1454.1L1275.7 1427L1275.8 1483.2L1275.9 1462.6L1276 1478L1276.1 1550.3L1276.2 1485.6L1276.4 1481.7L1276.5 1508.9L1276.6 1443.4L1276.7 1491.7L1276.8 1489.6L1276.8 1519.3L1276.9 1520.2L1277 1522.6L1277.1 1493.1L1277.2 1494.3L1277.3 1508.9L1277.4 1456L1277.6 1475L1277.7 1518.2L1277.8 1481L1277.9 1461.4L1278 1485L1278.1 1451.5L1278.2 1514.6L1278.3 1478L1278.4 1465.1L1278.5 1515.5L1278.6 1468.7L1278.7 1486.8L1278.8 1496.7L1278.9 1515.9L1279 1475.7L1279.1 1440.9L1279.2 1487L1279.3 1447L1279.4 1479L1279.6 1536.5L1279.7 1470.3L1279.8 1497.5L1279.8 1520.2L1279.9 1451.5L1280 1556.3L1280.3 1480.6L1280.4 1500.3L1280.5 1484.3L1280.6 1525.7L1280.7 1516.4L1280.7 1525.9L1280.8 1516L1280.9 1487.2L1281 1491.4L1281.1 1468.8L1281.2 1497.5L1281.4 1510.4L1281.5 1530.9L1281.5 1484.9L1281.6 1470.6L1281.7 1482.1L1281.8 1493.6L1281.9 1499.8L1282 1503.9L1282.1 1497.9L1282.2 1539.8L1282.2 1506L1282.3 1545.2L1282.4 1480.5L1282.5 1469.9L1282.6 1474.8L1282.7 1487.8L1282.8 1532.7L1282.8 1486.4L1282.9 1466.4L1283 1475L1283.1 1482.5L1283.2 1486.4L1283.3 1476.4L1283.4 1612.6L1283.4 1503.9L1283.5 1513.6L1283.6 1506.6L1283.7 1471L1283.8 1539.5L1283.9 1527.2L1283.9 1497.4L1284 1493L1284.1 1521.8L1284.2 1498.7L1284.3 1533.4L1284.4 1483.9L1284.4 1486.1L1284.5 1476.4L1284.6 1475.9L1284.7 1517.8L1284.8 1505.4L1284.9 1457.8L1284.9 1462.3L1285 1490.9L1285.1 1488.3L1285.3 1538.5L1285.4 1481.7L1285.4 1516.2L1285.5 1441.5L1285.6 1473.5L1285.7 1455.8L1285.8 1512.4L1285.8 1465.2L1285.9 1489.7L1286 1463.6L1286.1 1514.4L1286.2 1493.2L1286.2 1486.5L1286.3 1451.1L1286.4 1455.5L1286.5 1469.5L1286.6 1453.8L1286.6 1442.3L1286.7 1443.9L1286.8 1443.6L1286.9 1450.3L1287 1475.6L1287 1514.8L1287.1 1469.8L1287.2 1439.3L1287.3 1457.3L1287.4 1440.7L1287.4 1470.9L1287.6 1447.5L1287.7 1607L1288 1442.9L1288.1 1459L1288.1 1440.8L1288.2 1431.9L1288.4 1528.4L1288.4 1438.4L1288.7 1441.7L1288.9 1439.2L1289 1465.5L1289.1 1482.7L1289.1 1546.7L1289.2 1474L1289.3 1447.3L1289.4 1432.1L1289.4 1453.8L1289.5 1445.3L1289.7 1447.3L1289.8 1479.2L1289.9 1540.8L1290 1427L1290.1 1504.4L1290.2 1427.3L1290.3 1538.3L1290.4 1535.3L1290.6 1445.4L1290.6 1480.1L1290.7 1434.6L1290.8 1428.3L1290.9 1450.8L1290.9 1450.2L1291 1468.7L1291.1 1450.9L1291.1 1478.7L1291.2 1426.1L1291.3 1430.6L1291.4 1431.6L1291.4 1427.6L1291.5 1437.5L1291.6 1433.8L1291.7 1449L1291.7 1488.9L1291.8 1425.4L1291.9 1433L1291.9 1444.3L1292 1466.6L1292.1 1427.4L1292.2 1432L1292.2 1479.1L1292.3 1570.3L1292.4 1429.5L1292.4 1571.8L1292.5 1521.3L1292.7 1425.9L1292.7 1465.8L1292.8 1454.2L1292.9 1427.5L1293.1 1463.5L1293.3 1444.9L1293.4 1430.4L1293.4 1423.4L1293.5 1470.7L1293.6 1424.8L1293.6 1433.1L1293.8 1466.9L1293.8 1452.2L1293.9 1509.2L1294 1459L1294.1 1542.8L1294.3 1475.6L1294.3 1428L1294.4 1528.9L1294.5 1427.7L1294.6 1414.3L1294.7 1488L1294.8 1479.3L1294.9 1416.5L1295 1488L1295.1 1513.8L1295.2 1439.3L1295.3 1405.9L1295.4 1409L1295.7 1410.5L1295.7 1440.3L1295.8 1405.4L1295.9 1421.5L1296 1405.2L1296.1 1456.6L1296.3 1421.1L1296.3 1496.7L1296.4 1606.6L1296.5 1403.8L1296.5 1402.3L1296.6 1411L1296.7 1416.4L1296.9 1497.1L1296.9 1443.9L1297.1 1421.2L1297.1 1452.7L1297.2 1442.2L1297.3 1500.1L1297.3 1409.7L1297.4 1521.2L1297.5 1403.5L1297.6 1415.7L1297.7 1400.1L1297.8 1608.5L1297.8 1415.1L1298 1500.5L1298 1406.3L1298.1 1401.9L1298.2 1516.6L1298.2 1433.8L1298.3 1422.8L1298.4 1467.2L1298.4 1422.4L1298.5 1436.5L1298.5 1430.3L1298.6 1398.1L1298.7 1423.7L1298.7 1396.2L1298.8 1502L1298.9 1424.6L1298.9 1401.8L1299 1392.1L1299 1472.9L1299.1 1603.5L1299.2 1401.7L1299.2 1383.5L1299.3 1375.8L1299.4 1377.8L1299.4 1371.3L1299.5 1392.4L1299.5 1490L1299.6 1375.7L1299.7 1367.2L1299.7 1364.1L1299.8 1488.3L1299.9 1365.7L1299.9 1351.7L1300 1371L1300 1355.7L1300.1 1532.8L1300.2 1484L1300.2 1346.4L1300.3 1339.9L1300.3 1387.9L1300.4 1507.9L1300.5 1339.1L1300.5 1340.4L1300.6 1332.5L1300.6 1368.6L1300.7 1330L1300.8 1333.5L1300.8 1501.9L1300.9 1342.2L1301 1337.9L1301 1388.5L1301.1 1338L1301.1 1350.8L1301.2 1343.4L1301.3 1358.8L1301.3 1489.2L1301.4 1351.3L1301.4 1479.2L1301.5 1376.6L1301.6 1388.3L1301.6 1372.2L1301.7 1368.1L1301.7 1386.9L1301.8 1424.1L1301.8 1476.7L1301.9 1403L1302 1380.8L1302 1381.7L1302.1 1378.3L1302.1 1394.8L1302.2 1379.9L1302.3 1401.9L1302.3 1483L1302.4 1561L1302.4 1404.4L1302.5 1556L1302.6 1447.4L1302.6 1410.8L1302.7 1398.4L1302.8 1475.7L1302.8 1490.2L1302.9 1404.3L1303 1514L1303.1 1428.7L1303.1 1454.5L1303.3 1419.3L1303.3 1522.3L1303.4 1406.1L1303.4 1401.3L1303.5 1431.7L1303.5 1401.3L1303.6 1415.3L1303.8 1468.5L1303.8 1398.9L1303.9 1499.9L1303.9 1491.5L1304.1 1424.3L1304.3 1415.9L1304.3 1410.9L1304.4 1471.3L1304.7 1404L1304.7 1452.9L1304.8 1424.2L1304.9 1419.9L1305 1479.7L1305 1448.5L1305.1 1412.5L1305.2 1494.3L1305.2 1439L1305.3 1401L1305.3 1424.3L1305.4 1434L1305.5 1405.5L1305.7 1441.8L1305.8 1474L1305.9 1407.1L1306 1544.7L1306.1 1474.7L1306.2 1406.5L1306.2 1448.2L1306.3 1476.6L1306.4 1432L1306.6 1405L1306.7 1416.5L1306.8 1471.6L1306.8 1417.4L1307 1462.3L1307.2 1514.3L1307.2 1419.4L1307.3 1452.7L1307.4 1437.7L1307.6 1489L1307.7 1558.4L1307.8 1428.8L1307.9 1433.6L1308 1425.9L1308.1 1476.2L1308.2 1525.6L1308.3 1486.1L1308.4 1426.5L1308.7 1475.7L1308.8 1425.4L1308.8 1424.2L1308.9 1452.1L1309 1425.7L1309.2 1431.7L1309.5 1482.2L1309.5 1434.1L1309.6 1498.5L1309.7 1490.9L1309.7 1498.8L1309.8 1426.2L1310 1480.9L1310 1475.8L1310.4 1466.1L1310.4 1427.7L1310.5 1429.7L1310.6 1457.8L1310.6 1428.4L1310.7 1426.7L1310.8 1516.7L1310.9 1494.8L1311.1 1432.2L1311.3 1487.2L1311.3 1465.3L1311.4 1552.1L1311.4 1429.8L1311.5 1514.5L1311.5 1427.4L1311.6 1497.2L1311.8 1520.8L1312 1441.3L1312.1 1594.7L1312.1 1481.1L1312.2 1458.5L1312.3 1481.1L1312.3 1525L1312.4 1436.1L1312.5 1429L1312.5 1452.2L1312.7 1516.6L1312.8 1520.1L1312.9 1442L1313.1 1436.7L1313.1 1537.1L1313.2 1437.8L1313.4 1494.9L1313.5 1465.9L1313.6 1442.4L1313.6 1437.7L1313.7 1514.1L1313.7 1543.9L1313.8 1437.2L1313.8 1436.4L1313.9 1468.4L1313.9 1442.7L1313.9 1443.7L1314 1489.1L1314 1451.1L1314.1 1442.3L1314.1 1461.8L1314.2 1525.1L1314.2 1440.9L1314.3 1491L1314.4 1476.2L1314.4 1440L1314.5 1440.4L1314.5 1461.7L1314.6 1473.1L1314.7 1441.6L1314.7 1473.1L1314.8 1546.3L1314.8 1451.6L1314.9 1499.8L1314.9 1534.4L1315 1456.2L1315 1504.2L1315.1 1514.9L1315.1 1519.5L1315.1 1539L1315.2 1499.9L1315.2 1483.6L1315.3 1529.5L1315.3 1523L1315.4 1484.8L1315.4 1507L1315.5 1429.2L1315.5 1472.2L1315.7 1500.7L1315.8 1551.5L1315.9 1493.5L1316 1546.3L1316 1482.3L1316.1 1468.9L1316.1 1518.3L1316.2 1504.2L1316.2 1473.4L1316.3 1543.8L1316.4 1515.3L1316.4 1503.2L1316.5 1538.7L1316.6 1540.8L1316.7 1564.9L1316.8 1470.2L1316.9 1495.6L1317 1495.4L1317 1460.4L1317.1 1481.1L1317.2 1457.1L1317.2 1479.5L1317.3 1549.8L1317.3 1566.3L1317.4 1551L1317.5 1488L1317.5 1507.8L1317.7 1537L1317.7 1537.2L1317.9 1511.5L1318 1529.3L1318.1 1499.8L1318.2 1446.3L1318.2 1587.3L1318.3 1471.1L1318.6 1553L1318.7 1539.6L1318.8 1516L1318.8 1453.6L1318.9 1524.3L1318.9 1527.1L1319 1470.7L1319 1525L1319.1 1528L1319.2 1605.5L1319.2 1504.7L1319.4 1526L1319.5 1499.4L1319.6 1484.9L1319.7 1548.9L1319.7 1479L1319.8 1536.2L1320.1 1537L1320.2 1524.1L1320.2 1668.3L1320.2 1479.8L1320.6 1617.4L1320.6 1476.2L1320.8 1542.2L1321 1496.2L1321 1499.1L1321.2 1540.7L1321.3 1548.8L1321.4 1525.6L1321.5 1543.3L1321.6 1493.9L1321.7 1456.3L1321.8 1460.6L1321.9 1491.6L1322 1454.9L1322 1524.8L1322.2 1472L1322.3 1448.7L1322.4 1536.6L1322.5 1503.7L1322.6 1441.7L1322.6 1441.3L1322.7 1481.2L1322.7 1450.9L1322.8 1505.2L1322.8 1467.6L1322.9 1455.4L1323 1488.8L1323 1541.7L1323 1450.4L1323.1 1500.4L1323.1 1474.7L1323.1 1533.5L1323.3 1554.1L1323.3 1479.9L1323.4 1503.1L1323.4 1479.2L1323.7 1617.7L1323.7 1474.4L1323.8 1524.2L1323.8 1490.6L1323.8 1488.7L1324 1470.2L1324 1503.1L1324 1460.2L1324.1 1475.2L1324.2 1473.8L1324.3 1458L1324.3 1527.3L1324.4 1445.5L1324.4 1458.6L1324.5 1511.5L1324.6 1530.1L1324.8 1537.9L1324.9 1509.2L1324.9 1553.5L1325 1481L1325.1 1513.2L1325.1 1544.2L1325.3 1513.7L1325.4 1540.6L1325.4 1532.9L1325.6 1519.1L1325.6 1566.4L1325.7 1653.5L1325.9 1527.4L1325.9 1475.8L1326 1498.8L1326 1587.5L1326.1 1542.7L1326.1 1561L1326.2 1533.5L1326.2 1467.4L1326.2 1480.9L1326.3 1605.3L1326.4 1562.9L1326.4 1635.9L1326.4 1457.6L1326.6 1529.8L1326.7 1450.2L1326.8 1464.8L1326.9 1565.5L1326.9 1503.9L1327 1602.5L1327.1 1506.5L1327.1 1527L1327.2 1540.6L1327.2 1523.9L1327.3 1566.7L1327.4 1490.4L1327.5 1487.3L1327.5 1452.1L1327.6 1465.1L1327.8 1556.8L1328.1 1457.5L1328.1 1581.4L1328.3 1465.8L1328.4 1488.6L1328.4 1542L1328.5 1517.1L1328.5 1472L1328.6 1468L1328.6 1536.1L1328.9 1522.7L1329 1544.3L1329 1526.7L1329.1 1509.5L1329.1 1532.1L1329.2 1504.6L1329.2 1532.6L1329.3 1521L1329.3 1521.2L1329.5 1516.4L1329.6 1494.4L1329.6 1608.7L1329.7 1491.6L1329.7 1510.5L1329.8 1543L1329.9 1522.3L1329.9 1510.7L1330 1563.8L1330.1 1447L1330.2 1477.6L1330.2 1488.1L1330.3 1535.4L1330.4 1543.2L1330.6 1510.1L1330.6 1500.3L1330.7 1570L1330.9 1456.8L1331 1542.5L1331 1521.4L1331.2 1498.2L1331.2 1448.3L1331.3 1456L1331.3 1543.6L1331.4 1524.9L1331.5 1477.7L1331.5 1560.8L1331.7 1517.7L1331.7 1544.8L1331.8 1527.1L1331.9 1509.4L1331.9 1503.1L1332 1541.7L1332.1 1517.5L1332.1 1531.6L1332.2 1517.1L1332.3 1493.9L1332.3 1449.9L1332.4 1519.9L1332.4 1525.9L1332.4 1495.8L1332.5 1525.6L1332.6 1463.9L1332.6 1476.4L1332.8 1565.1L1333.1 1486.1L1333.2 1461.5L1333.2 1513.8L1333.3 1537.5L1333.5 1549.8L1333.6 1486L1333.8 1470.8L1333.8 1536.3L1333.9 1570.3L1334.1 1550.2L1334.2 1536.7L1334.2 1477.2L1334.5 1497.4L1334.6 1524.4L1334.7 1482.8L1334.8 1518.6L1334.8 1497.8L1334.9 1557.8L1334.9 1459.8L1335.1 1556.6L1335.1 1493.8L1335.1 1470.2L1335.2 1498.6L1335.2 1585.6L1335.3 1530.8L1335.4 1470.3L1335.4 1443.1L1335.4 1456.7L1335.5 1447.7L1335.5 1532.4L1335.5 1470.3L1335.6 1461L1335.6 1519L1335.6 1523.1L1335.7 1452.3L1335.7 1550.2L1335.8 1484.2L1335.8 1459L1335.8 1557.8L1335.9 1471L1335.9 1507.1L1335.9 1542.4L1336 1544.8L1336 1506.3L1336 1525.3L1336.1 1545L1336.1 1470.4L1336.2 1463L1336.3 1534.2L1336.3 1546.1L1336.3 1550.4L1336.4 1542.8L1336.4 1495.1L1336.4 1535.9L1336.5 1539.2L1336.5 1541.2L1336.6 1463.7L1336.7 1489.6L1336.7 1530.6L1336.7 1529.6L1336.7 1487.6L1336.8 1458.7L1336.9 1456.9L1337 1450.2L1337 1538.6L1337.1 1591.8L1337.1 1553.7L1337.2 1572L1337.3 1461.4L1337.3 1477.9L1337.5 1494.3L1337.6 1567.1L1337.7 1550.1L1337.8 1518.8L1337.8 1552.1L1337.8 1490.7L1337.9 1555.6L1338.1 1451.4L1338.2 1458.8L1338.2 1453L1338.3 1544.2L1338.3 1451.8L1338.3 1462.6L1338.4 1445.5L1338.5 1482.2L1338.6 1559.3L1338.8 1490L1338.9 1513.6L1339 1474.4L1339 1446.7L1339.2 1545.4L1339.3 1571.4L1339.3 1483L1339.6 1513.6L1339.6 1554L1339.7 1483.3L1339.8 1567.8L1339.8 1642L1339.9 1571L1339.9 1560L1340.2 1597.1L1340.3 1530.7L1340.3 1443.7L1340.5 1524.6L1340.5 1450.8L1340.7 1494.9L1340.9 1622.8L1340.9 1439.9L1341 1480.4L1341 1539.8L1341 1444.1L1341.3 1466.5L1341.3 1549L1341.6 1517.7L1341.7 1563.8L1341.8 1582.7L1341.8 1506.6L1342 1500.6L1342.1 1561.4L1342.2 1553.5L1342.2 1465.1L1342.4 1551.8L1342.7 1575.4L1342.8 1484.8L1342.8 1524.3L1343 1543.6L1343.1 1500.9L1343.3 1454.2L1343.3 1596.8L1343.4 1424.5L1343.5 1476.4L1343.6 1482.3L1343.7 1552.9L1343.9 1567.3L1343.9 1449.4L1344.3 1572.7L1344.4 1534.2L1344.5 1468.3L1344.7 1658.6L1344.7 1489.1L1344.7 1482.2L1344.8 1563.8L1345 1559.2L1345 1566.4L1345.2 1521.3L1345.3 1437.3L1345.5 1505.2L1345.6 1486.1L1345.7 1491.5L1345.9 1572.1L1346.2 1551.5L1346.3 1485.6L1346.3 1545L1346.4 1497.3L1346.7 1499.4L1346.7 1493.9L1347.4 1446.3L1347.4 1561.2L1347.4 1467.6L1347.5 1509.6L1347.5 1464.8L1347.6 1542.9L1347.6 1474.7L1347.7 1493L1347.7 1553.8L1347.7 1551.8L1347.7 1540.3L1347.8 1453.9L1347.9 1566L1347.9 1534.6L1347.9 1577L1347.9 1542.3L1348 1554.5L1348.1 1437.1L1348.1 1521.3L1348.2 1456.8L1348.3 1541.1L1348.3 1522.9L1348.4 1558.8L1348.4 1535.8L1348.5 1542.7L1348.5 1519.6L1348.6 1509.5L1348.6 1470.7L1348.7 1516.2L1348.7 1566.8L1348.8 1469.4L1348.8 1524.4L1348.9 1530.7L1348.9 1515.3L1349 1539.2L1349 1528.7L1349 1518.9L1349 1576.4L1349.1 1529.5L1349.1 1448.8L1349.1 1529.8L1349.2 1538L1349.2 1547.6L1349.3 1527.1L1349.4 1562L1349.4 1521.3L1349.5 1495.7L1349.5 1543.3L1349.7 1569L1349.7 1530.9L1349.8 1455.1L1349.8 1548.8L1349.9 1571.1L1350.1 1473.9L1350.3 1532.1L1350.6 1588.8L1350.6 1566.2L1350.8 1552.5L1350.8 1520.8L1350.8 1511L1350.9 1447.1L1351.1 1462.2L1351.2 1496.9L1351.2 1438.3L1351.6 1559.6L1351.6 1541.4L1351.8 1568.2L1351.9 1511.5L1352 1543.5L1352 1500.2L1352 1544.7L1352 1448.4L1352.1 1633.5L1352.1 1444.6L1352.1 1525.7L1352.4 1446.2L1352.4 1475.4L1352.5 1458L1352.8 1498.7L1352.8 1487L1352.9 1448.8L1352.9 1631.1L1353 1445.7L1353 1540.4L1353.3 1570.7L1353.3 1448.4L1353.5 1506.3L1353.5 1573.9L1353.6 1504.3L1353.6 1545.1L1353.6 1562.2L1353.7 1584L1353.8 1433L1353.8 1469.6L1353.9 1559.1L1354 1616L1354 1516.2L1354.1 1479.2L1354.3 1580.6L1354.3 1608.9L1354.8 1522.9L1354.8 1518.9L1354.8 1449.3L1355.1 1561.5L1355.1 1524.8L1355.2 1439.8L1355.3 1508.7L1355.3 1551.2L1355.5 1444.8L1355.6 1563.4L1355.6 1542.8L1355.7 1541L1355.9 1509.8L1355.9 1542.8L1356 1484.4L1356 1452.8L1356.1 1526.8L1356.2 1560.8L1356.3 1545.9L1356.5 1523.8L1356.5 1529.7L1356.6 1585.3L1356.8 1546.7L1356.8 1553.5L1356.9 1471.6L1356.9 1587.1L1357 1542.2L1357.1 1547.5L1357.2 1444.5L1357.2 1510.1L1357.2 1557L1357.3 1532.6L1357.4 1538L1357.4 1592.8L1357.4 1508.4L1357.6 1536.8L1357.8 1461.1L1358 1515.7L1358.4 1553L1358.6 1533L1358.6 1450.8L1358.7 1567.9L1358.7 1526.7L1358.8 1450.9L1359 1459.1L1359 1454.6L1359.1 1549.1L1359.2 1531.9L1359.3 1450.9L1359.5 1420.7L1359.5 1621.1L1359.6 1618.5L1359.7 1494.3L1359.8 1498.7L1359.8 1446.6L1360 1454.4L1360 1563.2L1360 1515.9L1360.1 1453.2L1360.1 1439.3L1360.2 1450.5L1360.2 1566.2L1360.3 1453.8L1360.4 1512.2L1360.6 1561.9L1360.6 1530L1360.7 1452.6L1360.7 1536.1L1360.8 1576.3L1360.8 1547.3L1361 1524.3L1361.2 1583.5L1361.2 1564.5L1361.3 1483.8L1361.6 1449L1361.6 1481.6L1361.7 1567.3L1361.8 1545.1L1361.8 1458.8L1361.9 1564.5L1361.9 1495.7L1362 1561.4L1362 1592.1L1362 1546.9L1362.1 1499.4L1362.2 1430.6L1362.2 1454.6L1362.3 1579.5L1362.4 1540.7L1362.4 1482.8L1362.5 1564.4L1362.9 1452.5L1362.9 1448.6L1362.9 1519.2L1363 1474.8L1363 1453.2L1363.1 1490.1L1363.3 1557L1363.4 1539.2L1363.4 1566.2L1363.5 1579.8L1363.5 1546.8L1363.6 1519.1L1363.6 1446.7L1363.6 1449.1L1363.8 1616.4L1364 1604.3L1364 1580L1364.1 1446.7L1364.1 1439.7L1364.2 1468.7L1364.4 1443.1L1364.5 1488L1364.5 1558.7L1364.5 1445.7L1364.6 1581.7L1364.7 1509.5L1364.9 1562.3L1364.9 1509.3L1365 1573.1L1365.3 1477L1365.4 1571.1L1365.5 1545.1L1365.7 1482.6L1365.9 1448.9L1366 1529.5L1366 1558.9L1366 1597.3L1366.1 1466.7L1366.4 1524.3L1366.4 1448.6L1366.5 1573.3L1366.7 1455L1366.8 1460L1366.9 1498.5L1367 1574.9L1367.3 1482.6L1367.4 1493L1367.4 1574.7L1367.6 1587.4L1367.6 1451L1367.6 1522.6L1367.7 1455.8L1367.8 1532.5L1367.9 1558.6L1368 1574.4L1368 1574.2L1368.3 1565.5L1368.3 1448.4L1368.3 1508.8L1368.4 1591L1368.4 1584.1L1368.4 1580L1368.5 1544.6L1368.9 1504.9L1369 1540.5L1369.1 1491.1L1369.2 1589.2L1369.3 1572.7L1369.5 1498.8L1369.5 1564.1L1369.6 1558.4L1369.7 1510.6L1369.7 1559.2L1369.7 1527.5L1369.8 1558.4L1369.8 1564.6L1370.2 1513.7L1370.2 1587.2L1370.2 1635.4L1370.3 1580.9L1370.3 1489.1L1370.4 1615.4L1370.6 1609.5L1370.7 1464L1370.8 1501.3L1371 1564.3L1371 1458.2L1371.2 1487.4L1371.8 1512L1372 1524.5L1372 1570.4L1372.1 1471L1372.1 1518.9L1372.7 1580.5L1372.8 1500.4L1373 1461.1L1373 1443.5L1373 1575L1373.1 1503.6L1373.2 1644.3L1373.2 1599.6L1373.3 1495.4L1373.4 1573.5L1373.4 1577.5L1373.5 1508.2L1373.5 1436L1373.6 1451L1374 1456.6L1374.3 1473.4L1374.4 1579.8L1374.6 1538.1L1374.6 1496.8L1374.7 1601.9L1374.8 1578.7L1374.8 1577.4L1374.9 1580.9L1375 1556.7L1375.1 1484.7L1375.1 1598.3L1375.4 1560.6L1375.4 1507.5L1375.6 1571.3L1375.7 1635.9L1375.8 1565.8L1375.8 1440.6L1375.8 1525.7L1375.9 1591.1L1375.9 1574L1376 1465.3L1376 1498.8L1376.1 1442.7L1376.2 1449.8L1376.3 1436L1376.3 1682.3L1376.4 1533.7L1376.5 1560.6L1376.6 1496.4L1376.7 1649L1376.9 1493.1L1377 1472.1L1377.1 1445.3L1377.4 1581.5L1377.4 1499.9L1377.9 1494L1377.9 1563.4L1378 1484.4L1378.2 1493.1L1378.2 1449.7L1378.4 1524.1L1378.5 1568.2L1378.7 1573.7L1378.9 1588.8L1378.9 1511.6L1378.9 1454.7L1379.1 1470L1379.4 1481L1379.5 1445.2L1379.5 1450.6L1379.6 1478.5L1379.6 1508.5L1379.7 1580.6L1379.8 1576.7L1380.1 1476.7L1380.3 1489L1380.3 1599.7L1380.5 1563.8L1380.6 1569L1380.7 1526.1L1380.8 1445.6L1381.1 1438L1381.3 1436.7L1381.3 1540.7L1381.4 1569.2L1381.4 1534.9L1381.6 1450.6L1381.6 1618.3L1381.7 1451L1381.7 1573.7L1381.8 1460.4L1381.8 1623.9L1381.9 1439.1L1382 1509.7L1382 1598.5L1382 1534.6L1382.1 1560.8L1382.1 1529.7L1382.3 1563.4L1382.4 1569.8L1382.5 1567.1L1382.6 1434.6L1382.7 1563.1L1382.8 1563.2L1382.8 1485.9L1382.9 1542.7L1382.9 1427.2L1382.9 1553.2L1383 1446.5L1383 1446.8L1383 1519.2L1383.4 1617.8L1383.5 1490L1383.5 1559.2L1383.5 1596.5L1383.7 1551.4L1383.7 1514L1384.2 1561.1L1384.2 1491.9L1384.3 1674.3L1384.4 1510.2L1384.4 1572.5L1384.7 1481.7L1384.7 1440.3L1384.8 1476.9L1385 1571.6L1385.2 1580.3L1385.3 1489.8L1385.4 1513.1L1385.6 1579L1385.7 1449.2L1385.7 1432.6L1385.8 1441.9L1385.9 1474L1385.9 1512.8L1386 1472.4L1386.3 1579.2L1386.4 1553.6L1386.4 1578.9L1386.9 1491.6L1387 1482.6L1387.1 1500.9L1387.3 1633.9L1387.3 1484.5L1387.5 1571.1L1387.5 1561.3L1387.5 1583.8L1387.6 1563.6L1387.6 1493.7L1387.6 1563.8L1387.7 1560.2L1387.8 1576.7L1387.9 1581.6L1388 1471.1L1388 1545.1L1388.1 1509.1L1388.2 1568.9L1388.5 1459.2L1388.5 1567.2L1388.5 1557.8L1388.6 1565.9L1388.6 1440.9L1388.7 1438.2L1388.8 1489.3L1388.9 1482.2L1389 1667.3L1389.1 1497L1389.2 1456.1L1389.2 1694.3L1389.3 1430.7L1389.4 1553.2L1389.6 1564.8L1389.6 1557.2L1389.6 1482.3L1389.7 1506.9L1389.8 1438.7L1389.9 1567.6L1389.9 1554.6L1389.9 1594L1390.1 1568.9L1390.1 1538.5L1390.1 1563.3L1390.1 1447L1390.1 1502.8L1390.2 1558.9L1390.2 1580L1390.2 1555.2L1390.3 1547.6L1390.4 1689.2L1390.4 1591.1L1390.6 1490.7L1390.7 1504.3L1390.8 1582.2L1390.8 1595.3L1391.1 1483.6L1391.2 1514.2L1391.2 1446.2L1391.3 1551.4L1391.4 1551.7L1391.4 1588.8L1391.5 1616.5L1391.6 1477.4L1391.6 1442.1L1391.7 1520.8L1391.9 1428.9L1392 1492.3L1392.1 1593.1L1392.2 1524.4L1392.2 1586.4L1392.3 1578L1392.4 1576.9L1392.5 1560.8L1392.7 1563.3L1392.7 1600.9L1392.8 1526.2L1392.8 1440.6L1392.8 1561.9L1392.9 1557.2L1393 1551.6L1393 1476L1393 1590.9L1393.1 1459.3L1393.3 1564L1393.4 1571.2L1393.4 1482.3L1393.4 1557.6L1393.4 1551.7L1393.4 1601.7L1393.6 1421.4L1393.7 1465.5L1393.8 1565.1L1393.9 1532L1393.9 1568.6L1394.1 1630.4L1394.1 1511.3L1394.1 1523.1L1394.5 1623.7L1394.7 1666.7L1394.7 1568.9L1394.7 1477.6L1395 1512.5L1395.1 1505.9L1395.2 1444.8L1395.3 1494.1L1395.3 1574.8L1395.4 1623.7L1395.4 1445.9L1395.5 1445.4L1395.5 1570.2L1395.8 1482.7L1395.8 1532.8L1395.9 1439.6L1396.1 1593.6L1396.2 1582.4L1396.2 1506.4L1396.2 1588.7L1396.2 1591.1L1396.3 1552.1L1396.5 1576.9L1396.5 1613.6L1396.6 1544.2L1396.7 1539.4L1396.7 1583.1L1397.3 1535.9L1397.3 1461.6L1397.4 1671.6L1397.5 1589.3L1397.6 1489.4L1397.6 1575.9L1397.8 1582.3L1397.9 1576.7L1398 1529L1398 1567.6L1398.1 1485.9L1398.1 1568.4L1398.2 1574.6L1398.3 1482.2L1398.6 1519.2L1398.6 1487.2L1398.8 1425.7L1399.3 1553.9L1399.3 1587L1399.4 1499.8L1399.5 1573.1L1399.7 1504.2L1399.8 1601.7L1399.8 1437.2L1400 1480.5L1400 1481L1400.1 1499.6L1400.4 1578.2L1400.4 1572.3L1400.4 1584.3L1400.9 1517.6L1400.9 1514.7L1401.2 1568.9L1401.3 1500.6L1401.4 1575.4L1401.4 1521.4L1401.5 1493.6L1401.8 1630.4L1401.8 1590.6L1401.9 1526.4L1401.9 1567.7L1402.1 1436.2L1402.3 1556.8L1402.3 1581L1402.4 1585.9L1402.4 1497.1L1402.6 1521.2L1402.6 1489.2L1402.6 1587L1402.7 1579.4L1402.7 1576.9L1402.9 1434.1L1402.9 1587.5L1403 1575.5L1403.2 1528.4L1403.4 1563.1L1403.5 1523.1L1403.9 1531L1404 1475.3L1404.1 1563.7L1404.2 1431.9L1404.3 1571.9L1404.3 1478.7L1404.3 1486.8L1404.6 1432.1L1404.6 1495.1L1404.7 1448.9L1404.8 1573.7L1405.1 1543.2L1405.1 1568.2L1405.2 1567.8L1405.4 1528.6L1405.5 1619.5L1405.7 1503.3L1405.8 1502.3L1405.9 1567.9L1406 1581.2L1406.1 1453.5L1406.2 1492.6L1406.2 1576.6L1406.6 1583L1406.7 1533.3L1406.7 1494.4L1406.7 1663.5L1406.7 1576.4L1406.8 1582.4L1406.9 1575.8L1407 1624.1L1407.1 1615.6L1407.4 1448.4L1407.4 1531.7L1407.5 1472L1407.6 1629.5L1407.8 1604.3L1407.8 1490L1408 1460.8L1408.2 1678.7L1408.2 1523.3L1408.4 1562.2L1408.4 1432.2L1408.9 1521.2L1408.9 1589.3L1409 1526.6L1409 1641.9L1409.2 1612.8L1409.3 1431L1409.4 1465.4L1409.4 1578.4L1409.4 1495.1L1409.4 1586.9L1409.5 1443.3L1409.5 1439.7L1409.6 1484.6L1409.6 1514.2L1409.6 1593.2L1409.7 1605.1L1409.8 1436.7L1410 1425.8L1410.1 1451.5L1410.1 1445.7L1410.2 1493.5L1410.3 1519.7L1410.4 1447.6L1410.4 1613.3L1410.5 1569.8L1410.8 1591.1L1410.8 1513.1L1410.9 1502.2L1411 1494.2L1411.1 1512.1L1411.3 1595.1L1411.3 1637.3L1411.4 1598.3L1411.4 1581.8L1411.5 1591.2L1411.6 1446.7L1411.7 1435.7L1411.7 1579.3L1412 1515.6L1412 1586.4L1412.1 1442L1412.2 1441.5L1412.3 1497.2L1412.3 1472.5L1412.5 1577.4L1412.5 1656.9L1412.5 1434L1412.5 1565.7L1412.6 1540L1412.6 1586.2L1412.7 1568.5L1412.7 1589.4L1412.7 1479.3L1412.8 1679.7"/></defs>
<use href="#lnf" fill="none" stroke="#0000ff" stroke-width="2.1" stroke-linejoin="bevel"/>
<polygon points="1270,1496 1271,1489.7 1272,1488 1273,1485.4 1274,1478 1275,1478 1276,1469.6 1277,1472.6 1278,1475 1279,1475 1280,1475.7 1281,1479 1281,1500.3 1280,1500.3 1279,1500.3 1278,1497.5 1277,1496.7 1276,1494.3 1275,1495.4 1274,1495.4 1273,1500.5 1272,1503.8 1271,1503.8 1270,1515.2" fill="#ff0000" stroke="#ff0000" stroke-width="1.5" stroke-linejoin="round"/>
<polygon points="1283,1480.5 1284,1480.5 1285,1481.7 1285,1493.2 1284,1493.6 1283,1493.6" fill="#ff0000" stroke="#ff0000" stroke-width="1.5" stroke-linejoin="round"/>
<polygon points="1287,1447.5 1288,1431.9 1289,1431.9 1290,1425.4 1291,1444.3 1291,1456.4 1290,1459 1289,1459 1288,1459 1287,1459" fill="#ff0000" stroke="#ff0000" stroke-width="1.5" stroke-linejoin="round"/>
<polygon points="1293,1410.8 1294,1404.3 1295,1402.3 1296,1399 1297,1396.2 1298,1396.2 1299,1396.2 1299,1415.7 1298,1416.4 1297,1416.5 1296,1421.5 1295,1435.3 1294,1435.3 1293,1437.5" fill="#ff0000" stroke="#ff0000" stroke-width="1.5" stroke-linejoin="round"/>
<polygon points="1302,1398.4 1303,1398.4 1304,1398.4 1305,1398.9 1306,1398.9 1307,1405 1308,1410.6 1309,1417.4 1310,1423.8 1311,1424.2 1312,1425.7 1313,1427.4 1314,1465.9 1315,1465.9 1316,1468.4 1317,1478.5 1318,1457.1 1319,1457.1 1320,1460.6 1321,1460.6 1322,1460.2 1323,1488.7 1324,1479.1 1325,1463.8 1326,1457.5 1327,1457.5 1328,1457.5 1329,1456.8 1330,1464.8 1331,1456 1332,1454.1 1333,1454.1 1334,1443.1 1335,1470.2 1336,1470.2 1337,1470.2 1338,1470.4 1339,1456.9 1340,1462.6 1341,1461 1342,1461 1343,1449.4 1344,1448.8 1345,1448.8 1346,1446.3 1347,1446.3 1348,1464.7 1349,1446.3 1350,1444.6 1351,1455.1 1352,1466.1 1353,1456.8 1354,1452.8 1355,1452.8 1356,1452.8 1357,1449 1358,1444.5 1359,1459.1 1360,1458.8 1361,1458.8 1362,1458 1363,1452.5 1364,1452.5 1365,1452.5 1366,1454.4 1367,1455 1368,1459.4 1369,1455.8 1370,1448.4 1371,1447.1 1372,1443.5 1373,1443.5 1374,1436 1375,1436 1376,1449.4 1377,1449.7 1378,1449.7 1379,1449.7 1380,1449.7 1381,1450.6 1382,1450.6 1383,1446.5 1384,1446.5 1385,1446.5 1386,1448.6 1387,1448.6 1388,1450.5 1389,1450.5 1390,1446.2 1391,1446.2 1392,1446.2 1393,1440.6 1394,1449.8 1395,1444.8 1396,1444.8 1397,1444.8 1398,1437.2 1399,1437.2 1400,1436.2 1401,1434.1 1402,1443.1 1403,1440.2 1404,1431.9 1405,1431.9 1406,1431.9 1407,1448.4 1408,1431 1409,1431 1410,1451.5 1411,1431 1412,1441.5 1413,1441.5 1413,1545.2 1412,1555.7 1411,1569.8 1410,1575.1 1409,1578.4 1408,1589.3 1407,1576.6 1406,1564.4 1405,1563.7 1404,1563.7 1403,1563.7 1402,1563.7 1401,1568.9 1400,1568.9 1399,1568.4 1398,1568.4 1397,1570.2 1396,1570.2 1395,1565.1 1394,1565.1 1393,1552.7 1392,1571.2 1391,1547.6 1390,1547.6 1389,1547.6 1388,1545.9 1387,1571.6 1386,1572.5 1385,1572.5 1384,1555.1 1383,1553.3 1382,1553.3 1381,1569.8 1380,1564.5 1379,1563.8 1378,1563.4 1377,1574 1376,1550.5 1375,1556.7 1374,1556.7 1373,1556.7 1372,1553.7 1371,1559.2 1370,1559.2 1369,1559.2 1368,1559.2 1367,1558.9 1366,1558.9 1365,1558.9 1364,1552.8 1363,1550.8 1362,1541.6 1361,1540.7 1360,1554.8 1359,1557 1358,1557 1357,1533 1356,1532.9 1355,1547.5 1354,1545.1 1353,1545.1 1352,1536.6 1351,1548.8 1350,1548.8 1349,1505.3 1348,1530.9 1347,1547.6 1346,1545 1345,1545 1344,1543.6 1343,1543.6 1342,1543.6 1341,1545.4 1340,1545.4 1339,1545.4 1338,1546.1 1337,1525.3 1336,1519 1335,1519 1334,1532.4 1333,1513.8 1332,1513.8 1331,1511.4 1330,1510.7 1329,1517.1 1328,1517.1 1327,1519.1 1326,1519.1 1325,1519.3 1324,1519.3 1323,1530.1 1322,1537 1321,1537 1320,1530.6 1319,1517.4 1318,1529.3 1317,1529.5 1316,1496.4 1315,1495.6 1314,1494.9 1313,1461.8 1312,1458.5 1311,1458.5 1310,1457.8 1309,1452.7 1308,1452.7 1307,1452.7 1306,1434 1305,1424.3 1304,1424.3 1303,1415.9 1302,1415.3" fill="#ff0000" stroke="#ff0000" stroke-width="1.5" stroke-linejoin="round"/>
<use href="#lnf" fill="none" stroke="none" style="marker-start:url(#mk);marker-mid:url(#mk);marker-end:url(#mk)"/>
<g stroke="#1a1a1a" fill="none">
<path stroke-width="1.7" d="M856 1704v-8M974.5 1704v-8M1093 1704v-8M1211.5 1704v-8M1330 1704v-8M856.5 1353.4h8M856.5 1470.2h8M856.5 1587h8M856.5 1703.8h8"/>
<path stroke-width="1.7" d="M891.7 1704v-4.5M912.5 1704v-4.5M927.3 1704v-4.5M938.8 1704v-4.5M948.2 1704v-4.5M956.1 1704v-4.5M963 1704v-4.5M969.1 1704v-4.5M1010.2 1704v-4.5M1031 1704v-4.5M1045.8 1704v-4.5M1057.3 1704v-4.5M1066.7 1704v-4.5M1074.6 1704v-4.5M1081.5 1704v-4.5M1087.6 1704v-4.5M1128.7 1704v-4.5M1149.5 1704v-4.5M1164.3 1704v-4.5M1175.8 1704v-4.5M1185.2 1704v-4.5M1193.1 1704v-4.5M1200 1704v-4.5M1206.1 1704v-4.5M1247.2 1704v-4.5M1268 1704v-4.5M1282.8 1704v-4.5M1294.3 1704v-4.5M1303.7 1704v-4.5M1311.6 1704v-4.5M1318.5 1704v-4.5M1324.6 1704v-4.5M1365.7 1704v-4.5M1386.5 1704v-4.5M1401.3 1704v-4.5M1412.8 1704v-4.5M1422.2 1704v-4.5M856.5 1668.6h4.5M856.5 1648.1h4.5M856.5 1633.5h4.5M856.5 1622.2h4.5M856.5 1612.9h4.5M856.5 1605.1h4.5M856.5 1598.3h4.5M856.5 1592.3h4.5M856.5 1551.8h4.5M856.5 1531.3h4.5M856.5 1516.7h4.5M856.5 1505.4h4.5M856.5 1496.1h4.5M856.5 1488.3h4.5M856.5 1481.5h4.5M856.5 1475.5h4.5M856.5 1435h4.5M856.5 1414.5h4.5M856.5 1399.9h4.5M856.5 1388.6h4.5M856.5 1379.3h4.5M856.5 1371.5h4.5M856.5 1364.7h4.5M856.5 1358.7h4.5M856.5 1318.2h4.5M856.5 1297.7h4.5M856.5 1283.1h4.5M856.5 1271.8h4.5M856.5 1262.5h4.5M856.5 1254.7h4.5M856.5 1247.9h4.5"/>
<rect x="856.5" y="1248.5" width="566.5" height="455.5" stroke-width="2.4"/>
</g>
<g font-size="20.2">
<text transform="translate(856 1728.9) scale(1.17 1)" font-size="16" text-anchor="middle">0.01</text>
<text transform="translate(974.5 1728.9) scale(1.17 1)" font-size="16" text-anchor="middle">0.1</text>
<text transform="translate(1093 1728.9) scale(1.17 1)" font-size="16" text-anchor="middle">1</text>
<text transform="translate(1211.5 1728.9) scale(1.17 1)" font-size="16" text-anchor="middle">10</text>
<text transform="translate(1330 1728.9) scale(1.17 1)" font-size="16" text-anchor="middle">100</text>
<text x="847" y="1360.2" text-anchor="end">1E-4</text>
<text x="847" y="1477" text-anchor="end">1E-5</text>
<text x="847" y="1593.8" text-anchor="end">1E-6</text>
<text x="847" y="1710.6" text-anchor="end">1E-7</text>
</g>
<text x="1139" y="1766.4" font-size="25.6" text-anchor="middle">Frequency(Hz)</text>
<text transform="translate(792.9 1476) rotate(-90)" font-size="25.7" text-anchor="middle">Power/Frequency(W/Hz)</text>
<text x="865" y="1825" font-size="32.4" fill="#000" stroke="#000" stroke-width=".25">(f) 0.1 Hz frequency domain response</text>
<rect x="1287.5" y="1261" width="122.5" height="31.5" fill="#fff" stroke="#8a8a8a" stroke-width="1.2"/>
<path d="M1291 1276.5H1342.5" stroke="#0000ff" stroke-width="1.8"/>
<rect x="1315.4" y="1274.9" width="3.2" height="3.2" fill="#ff0000"/>
<text x="1350" y="1284.4" font-size="23.5">0.1Hz</text>
</g>
<g id="panel-g">
<defs><path id="lng" d="M360.6 1935L385.2 2008L399.7 1874L409.9 2050L417.8 2056L424.3 1979L429.8 2090L434.6 2063.5L438.8 2003.5L442.5 2121L445.9 2091L449 2087L451.8 2095L454.5 2090L456.9 2063L459.2 2091L461.4 2115.2L463.4 2136.7L465.3 2100.4L467.2 2099.7L468.9 2101.5L470.6 2118L472.1 2109L473.7 2084.3L475.1 2091.3L476.5 2119.5L477.9 2086.5L479.1 2155.1L480.4 2103.7L481.6 2097.3L482.8 2092.6L483.9 2105.4L485 2102.3L486.1 2086.4L487.1 2121.4L488.1 2116.2L489.1 2105.5L490 2131.2L490.9 2104.8L491.8 2089L492.7 2149.5L493.6 2158.9L494.4 2105.5L495.2 2156.5L496 2091.6L496.8 2102.1L497.6 2134.5L498.3 2084.8L499.1 2134.6L499.8 2096.9L500.5 2107.7L501.2 2133.3L501.9 2108.3L502.5 2141.5L503.2 2088.9L503.8 2151.8L504.4 2135.3L505.1 2083.5L505.7 2146.1L506.3 2172.4L506.9 2148.4L507.4 2141.9L508 2099.1L508.6 2095.5L509.1 2106.5L509.7 2095.4L510.2 2161.9L510.7 2114.2L511.2 2193.6L511.8 2140.3L512.3 2095L512.8 2121.4L513.2 2134.1L513.7 2167L514.2 2127.9L514.7 2143.8L515.1 2100.5L515.6 2152.7L516.1 2102.7L516.5 2129.1L517 2114.7L517.4 2127.5L517.8 2108.3L518.2 2129.2L518.7 2096.7L519.1 2122.9L519.5 2103L519.9 2142.6L520.3 2117.4L520.7 2148.7L521.1 2100.8L521.5 2211.8L521.9 2163.3L522.2 2134.9L522.6 2166.9L523 2098.3L523.4 2145.9L523.7 2107.6L524.1 2088.2L524.5 2120.5L524.8 2159.9L525.2 2154.1L525.5 2129L525.8 2098.7L526.2 2137.3L526.5 2175.2L526.9 2129.5L527.2 2120.2L527.5 2135.4L527.8 2114.4L528.2 2126.6L528.5 2116.6L528.8 2117L529.1 2115.7L529.4 2091L529.7 2126.9L530 2098.5L530.3 2192.2L530.6 2124.9L530.9 2104.1L531.2 2100.8L531.5 2143.4L531.8 2095.2L532.1 2127.4L532.4 2131.9L532.7 2121.3L533 2143.3L533.2 2149.2L533.5 2077.6L533.8 2117.7L534.1 2140.6L534.3 2103.9L534.6 2137.1L534.9 2126.4L535.1 2114.8L535.4 2200L535.7 2114.5L535.9 2133.3L536.2 2118.4L536.4 2147.1L536.7 2116.1L536.9 2177.3L537.2 2126.7L537.4 2149.7L537.7 2158.2L537.9 2152.7L538.2 2138.6L538.4 2122.1L538.6 2140.1L538.9 2082.8L539.1 2096.4L539.4 2120.5L539.6 2092.1L539.8 2140.7L540 2110.6L540.3 2104.5L540.5 2108.2L540.7 2141.7L541 2110L541.2 2099.3L541.4 2118.8L541.6 2139.1L541.8 2088.6L542.1 2124.8L542.3 2105.9L542.5 2123.9L542.7 2138L542.9 2134.7L543.1 2177.6L543.3 2137.1L543.5 2131.2L543.8 2134.9L544 2132.5L544.2 2134.3L544.4 2092.1L544.6 2139.1L544.8 2138.5L545 2194.8L545.2 2151.8L545.4 2186.6L545.6 2116.9L545.8 2128L546 2101.1L546.2 2103.3L546.3 2097.4L546.5 2139.6L546.7 2116.5L546.9 2116.3L547.1 2132.3L547.3 2138.3L547.5 2144.3L547.7 2134.4L547.9 2086.8L548 2165.9L548.2 2152.1L548.4 2116.7L548.6 2135L548.8 2108.3L548.9 2135.9L549.1 2116.6L549.3 2097.9L549.5 2117.8L549.6 2140.2L549.8 2121L550 2102.3L550.2 2104.6L550.3 2109.7L550.5 2112.7L550.7 2132.1L550.9 2158.1L551 2155L551.2 2129.2L551.4 2138.7L551.5 2117.8L551.7 2100.1L551.9 2107.9L552 2164.1L552.2 2134.5L552.3 2122L552.5 2104L552.7 2126.7L552.8 2105.2L553 2121.9L553.2 2137.5L553.3 2099.3L553.5 2138.4L553.6 2121.4L553.8 2119.1L553.9 2128.2L554.1 2156.2L554.2 2143.2L554.4 2111.7L554.6 2108.3L554.7 2165.7L554.9 2132.4L555 2178.9L555.2 2130L555.3 2143.8L555.5 2094.6L555.6 2115L555.8 2133L555.9 2140.4L556.1 2129.7L556.2 2181L556.3 2117L556.5 2128.3L556.6 2123.5L556.8 2132.5L556.9 2149.2L557.1 2152L557.2 2137.5L557.3 2097.3L557.5 2139L557.6 2102.3L557.8 2099.3L557.9 2106.5L558 2157.2L558.2 2116.8L558.3 2125.2L558.5 2144.3L558.6 2143.3L558.7 2137.8L558.9 2177.2L559 2123.8L559.1 2112.1L559.3 2138.3L559.4 2190.6L559.5 2141.7L559.7 2120L559.8 2127.1L559.9 2146.1L560.1 2120.7L560.2 2141.9L560.3 2104L560.5 2154L560.6 2127.4L560.7 2140.1L560.8 2118L561 2109.2L561.1 2102.5L561.2 2101.1L561.3 2142.7L561.5 2099.6L561.6 2124.1L561.7 2124.9L561.8 2180.9L562 2137.9L562.1 2115.3L562.2 2150.1L562.3 2108L562.5 2154.7L562.6 2100.2L562.7 2197.6L562.8 2120.4L563 2115.3L563.1 2130.4L563.2 2109L563.3 2116.6L563.4 2181.7L563.6 2145.7L563.7 2129.9L563.8 2103.2L563.9 2098.1L564 2140.4L564.1 2185L564.3 2158.5L564.4 2145.7L564.5 2097L564.6 2133.3L564.7 2133.3L564.8 2088.2L564.9 2087.1L565.1 2101.4L565.2 2143.9L565.3 2151.3L565.4 2173.5L565.5 2131L565.6 2097.3L565.7 2133.5L565.8 2124.4L566 2123.8L566.1 2159.9L566.2 2124.1L566.3 2173L566.4 2148.7L566.5 2103L566.6 2129.8L566.7 2092.1L566.8 2108.5L566.9 2092.4L567 2095.5L567.2 2113.1L567.3 2128.4L567.4 2121.1L567.5 2102.2L567.6 2148L567.7 2158L567.8 2129.9L567.9 2136.2L568 2169L568.1 2093.2L568.2 2122.1L568.3 2160.3L568.4 2131.6L568.5 2154.9L568.6 2168.7L568.7 2134.1L568.8 2099.8L568.9 2116.7L569 2111.7L569.1 2150.2L569.2 2118.5L569.3 2104.1L569.4 2122.1L569.5 2119.7L569.6 2141.4L569.7 2174.3L569.8 2167L570 2127.6L570.2 2113.4L570.3 2128.7L570.4 2166.8L570.5 2123.1L570.7 2195.7L570.8 2138.4L570.9 2152.5L571 2131.9L571.1 2109.9L571.2 2183L571.3 2104.5L571.4 2118.2L571.5 2136.5L571.8 2125.6L571.9 2143.4L572 2126.6L572.2 2101.2L572.3 2105.8L572.4 2133L572.5 2121.7L572.7 2133.8L572.8 2115.1L573 2093.4L573.3 2129.2L573.4 2101.5L573.5 2115.9L573.6 2132L573.7 2113.7L573.8 2119.2L573.9 2129.7L574 2106.2L574.1 2093.1L574.1 2162.5L574.2 2085.9L574.3 2108.9L574.4 2172.2L574.5 2094.5L574.6 2124.6L574.8 2093.8L574.9 2092.5L575.1 2087L575.2 2091.6L575.6 2110.2L575.7 2088.2L575.9 2091.5L576.1 2123.4L576.2 2125.6L576.3 2078.8L576.4 2088.3L576.4 2101.6L576.5 2142.4L576.7 2078.9L576.8 2102.3L576.9 2080.3L576.9 2116.3L577 2078.7L577.1 2082.7L577.2 2084.5L577.3 2111.2L577.3 2116.9L577.4 2133.1L577.5 2179L577.6 2081L577.7 2097.9L577.8 2145.3L577.9 2105.2L578 2116.2L578.1 2078.7L578.1 2072.2L578.3 2098L578.4 2154.9L578.5 2080.5L578.6 2071L578.7 2083.5L578.8 2069L578.8 2074L578.9 2097.7L579 2086.3L579.1 2069.3L579.1 2069.2L579.2 2080.6L579.3 2070L579.4 2066.7L579.5 2093.6L579.5 2110.4L579.6 2144.2L579.7 2141.5L579.8 2063.1L579.8 2093.1L579.9 2066.2L580 2132L580.1 2087.3L580.1 2061.6L580.2 2119.6L580.3 2157.6L580.4 2060.2L580.4 2128.3L580.5 2067.5L580.6 2172.9L580.6 2070.5L580.8 2072.3L581.1 2060L581.2 2123.9L581.3 2086.4L581.4 2073.8L581.5 2059.2L581.6 2057.7L581.7 2139.2L581.7 2081.9L581.9 2147.4L582 2058.2L582.1 2112.9L582.2 2097.6L582.2 2061L582.3 2089L582.4 2153.6L582.5 2059.7L582.6 2071.8L582.6 2055L582.7 2127.9L582.9 2136.2L583 2057.5L583.1 2158.2L583.1 2146.3L583.2 2047.1L583.3 2059.4L583.4 2108.9L583.5 2123.3L583.5 2138.4L583.7 2137.3L583.7 2042.2L584 2041.2L584.1 2234.1L584.1 2064.4L584.2 2134.4L584.3 2053.5L584.3 2039.3L584.4 2045.6L584.5 2091.4L584.5 2039.1L584.6 2112L584.7 2121.8L584.7 2035.3L584.8 2054.2L584.9 2127.7L584.9 2038.8L585 2124.9L585.1 2125.6L585.1 2120.9L585.2 2032.4L585.3 2025.8L585.3 2030.9L585.4 2049L585.4 2136.6L585.5 2019.3L585.6 1999.8L585.6 1999.9L585.7 1985.1L585.8 1978.3L585.8 1980L585.9 2047.1L586 2148.9L586 1950L586.1 1993.7L586.1 1968.1L586.2 1993.9L586.3 1981.3L586.3 1985.1L586.4 2144.1L586.5 2002.3L586.5 2008.8L586.6 2022.4L586.6 2140.8L586.7 2084L586.8 2029.9L586.8 2031.1L586.9 2047.4L587 2151.3L587 2151.5L587.1 2044.8L587.1 2063.3L587.2 2042.6L587.3 2069L587.3 2120.4L587.4 2062.7L587.4 2064.4L587.5 2052.5L587.6 2038.2L587.6 2078.8L587.7 2037.9L587.7 2062.8L587.8 2042.5L587.9 2075.7L587.9 2040.5L588 2137.9L588 2052.7L588.1 2064.8L588.2 2047L588.2 2047.4L588.3 2059.4L588.3 2043.9L588.4 2074.1L588.5 2042.3L588.5 2094.6L588.6 2166.8L588.6 2195.6L588.8 2060.9L588.9 2130.9L588.9 2135.6L589 2060.4L589 2070.2L589.1 2060.7L589.2 2069L589.2 2048.3L589.3 2085L589.4 2056.3L589.4 2132.2L589.5 2130.3L589.6 2159.5L589.7 2054L589.7 2138.1L589.8 2125.5L590 2059.1L590.1 2144L590.2 2054.3L590.4 2059.5L590.5 2130.2L590.6 2058.8L590.7 2167.8L590.7 2058.2L590.8 2109.2L590.8 2137.2L590.9 2112.4L591 2151L591.1 2083.3L591.1 2105.1L591.2 2104.8L591.2 2063.7L591.3 2080.9L591.3 2070L591.4 2190.4L591.4 2151.2L591.5 2072.1L591.6 2062.3L591.6 2108.8L591.7 2090.6L591.7 2071.9L591.8 2071.4L591.8 2069.7L591.9 2185L591.9 2090.1L592 2144.6L592 2079.6L592.1 2066.2L592.1 2065.7L592.2 2167.6L592.3 2100.4L592.3 2079.1L592.4 2147.9L592.4 2169.3L592.5 2150.9L592.5 2093.1L592.6 2066.4L592.7 2088.2L592.8 2066L592.9 2072.4L593.1 2105.5L593.2 2094.5L593.2 2114.8L593.3 2070.7L593.3 2086.8L593.4 2109.1L593.5 2160.3L593.7 2180L593.8 2166.5L593.9 2080.9L593.9 2146.9L594 2096.4L594 2135L594.2 2129.8L594.2 2072.2L594.4 2072.8L594.5 2117.4L594.7 2084.9L594.7 2157.6L594.8 2101.4L594.8 2104.1L594.9 2080.2L595.1 2107L595.1 2103.2L595.2 2076.5L595.3 2130.9L595.4 2080.4L595.4 2112.2L595.5 2150.4L595.6 2118L595.7 2083L595.7 2089.6L595.8 2147.6L596.1 2086.7L596.2 2124.1L596.3 2125.1L596.4 2133.4L596.4 2091.7L596.6 2134.3L596.6 2095.7L596.8 2096.6L597 2144L597.1 2096.9L597.2 2099.1L597.3 2126.3L597.5 2086.3L597.6 2085.7L597.6 2096.8L597.6 2136.1L597.7 2092.3L597.7 2092.2L597.8 2097.7L597.8 2117.4L597.9 2130L597.9 2124.8L598 2133.5L598 2145.4L598.1 2181.8L598.1 2135.5L598.1 2175L598.2 2143.3L598.2 2125.2L598.3 2166.8L598.4 2151.6L598.4 2108.4L598.5 2130.1L598.5 2138.2L598.5 2125L598.6 2130.6L598.6 2232L598.7 2167.2L598.7 2174.3L598.8 2138.4L598.8 2144.3L598.9 2155.2L598.9 2182.1L599 2177.8L599 2096.1L599.1 2149.6L599.1 2149.6L599.2 2103.2L599.2 2107.3L599.3 2176.3L599.3 2165L599.3 2137.2L599.4 2120.1L599.6 2105.6L599.7 2115.1L599.9 2189.7L600 2177.4L600.1 2177.8L600.2 2226.9L600.2 2191.2L600.3 2177.3L600.4 2158.6L600.5 2113L600.5 2164.7L600.6 2141.4L600.7 2211.7L600.7 2157.7L600.7 2178.3L600.9 2183.2L600.9 2166.1L601 2186.6L601.1 2174.8L601.3 2145.6L601.4 2137.4L601.6 2120.2L601.6 2170.6L601.9 2099.6L601.9 2139L602.1 2122.3L602.4 2157L602.5 2099.8L602.6 2117.1L602.6 2249.5L602.9 2120.1L603.1 2187.7L603.2 2182.5L603.2 2129.7L603.4 2143.5L603.5 2225.7L603.7 2128.9L603.8 2098.5L604 2157.8L604 2204.8L604.1 2174.7L604.2 2183.4L604.2 2099.9L604.2 2101.7L604.3 2096.6L604.4 2114.1L604.4 2184.5L604.5 2111.3L604.6 2203L604.6 2245.7L604.8 2131.2L604.9 2200.5L605 2155.7L605 2175.7L605.1 2160.8L605.3 2124.2L605.5 2186.5L605.7 2123.2L605.7 2103.8L605.8 2163.6L605.8 2107.3L605.9 2116.2L605.9 2091.1L605.9 2120.2L606 2120.1L606 2118.2L606 2152.2L606.1 2135.1L606.1 2175.1L606.2 2115.4L606.3 2124.9L606.3 2180.8L606.3 2126.3L606.4 2164L606.4 2131.2L606.4 2103.8L606.5 2081.5L606.9 2118L606.9 2100.3L607 2168.5L607.1 2126.3L607.1 2098.7L607.2 2221.1L607.3 2122.7L607.4 2192.7L607.4 2196.9L607.5 2181.5L607.5 2203.8L607.6 2106.7L607.6 2152.4L607.7 2188.5L607.7 2107.9L607.9 2192.9L608 2124.5L608 2112.5L608 2209.8L608.3 2192.2L608.4 2131.7L608.4 2100.5L608.5 2129.2L608.6 2100.6L608.7 2119.1L608.9 2099.7L608.9 2130L609.1 2130.6L609.2 2184.6L609.3 2217.9L609.4 2122.2L609.5 2093.4L609.6 2135.6L609.7 2235.4L609.9 2150.3L610 2210.4L610.1 2109L610.1 2207.3L610.2 2199.9L610.4 2176.5L610.4 2146.4L610.5 2097.8L610.6 2096.3L610.7 2140.9L610.8 2177.2L610.9 2098.7L610.9 2194.2L611.1 2137.1L611.2 2159.4L611.3 2090.6L611.3 2092.6L611.6 2200.9L611.7 2156.1L611.8 2163.6L611.9 2098.7L612.2 2126.6L612.2 2171.7L612.3 2191L612.4 2086.5L612.4 2181.3L612.7 2146.6L612.8 2173.4L612.9 2131.1L612.9 2220.8L612.9 2189.6L613 2177.1L613.1 2186.1L613.2 2182.1L613.2 2091.5L613.2 2297.5L613.3 2099.4L613.4 2172.6L613.4 2134.9L613.5 2113.9L613.6 2112L613.7 2169.8L613.7 2117L613.8 2140.2L614 2109.1L614 2120.3L614.1 2117L614.1 2104.9L614.2 2217.8L614.2 2112.6L614.3 2180.7L614.3 2155.6L614.4 2190.2L614.4 2185.7L614.5 2151.2L614.6 2155.6L614.7 2150.7L615 2177.1L615.2 2159.7L615.5 2133.3L615.6 2149.8L615.7 2126.6L616.2 2095.8L616.3 2181L616.3 2113L616.4 2105.5L616.5 2193.5L616.6 2142L616.7 2106.7L616.9 2189.6L617.1 2132.6L617.1 2181.3L617.3 2120.2L617.4 2094.6L617.6 2146.4L617.7 2100.6L617.7 2211.7L617.8 2104.5L618 2117L618.1 2130.1L618.2 2193.3L618.2 2099.4L618.4 2148.2L618.5 2103.7L618.8 2173.9L618.8 2167.9L618.9 2185.2L618.9 2110.2L619.1 2100.6L619.3 2143.6L619.3 2129.2L619.5 2198.2L619.6 2206.8L619.6 2152.5L619.6 2184L620 2117.1L620.1 2079.8L620.2 2129.5L620.3 2098.5L620.4 2195L620.4 2095.1L620.4 2205.3L620.4 2202L620.5 2101.5L620.9 2176.2L620.9 2100.3L621.1 2128.1L621.3 2193.7L621.4 2149.4L621.5 2192.4L621.7 2193.4L621.7 2183.3L621.7 2131.5L622.1 2113.7L622.3 2131.8L622.3 2211.9L622.4 2189L622.8 2177.2L622.8 2128.7L622.9 2186.6L623 2127.1L623.2 2194.9L623.3 2181.1L623.3 2147.1L623.4 2098.9L623.4 2094.5L623.4 2130.3L623.5 2200.2L623.6 2143.5L623.7 2182.4L623.7 2218.5L623.8 2179.4L624 2133.7L624.1 2196.1L624.2 2146.5L624.3 2113.6L624.6 2208.7L624.6 2180.5L624.6 2203.7L624.8 2096L624.8 2131.2L624.8 2095.9L624.8 2156.1L624.9 2186.9L624.9 2099.8L624.9 2104.3L625 2186L625.2 2255.4L625.4 2194.8L625.4 2097.6L625.5 2145.4L625.5 2144.2L625.6 2162.3L625.8 2187.4L625.9 2188.3L625.9 2195.6L626 2151L626 2182.3L626.1 2137.1L626.3 2103.5L626.4 2089.2L626.5 2211.2L626.5 2178.6L626.6 2140.5L626.6 2185L626.8 2197.3L626.8 2182.6L626.8 2174.4L626.9 2181L626.9 2189.9L626.9 2173.7L627 2132.5L627.2 2184L627.3 2121.5L627.5 2115.8L627.7 2096L627.8 2184.6L627.9 2140.1L628.1 2156.3L628.2 2243.6L628.4 2196.3L628.5 2155.5L628.6 2147.8L628.8 2184.5L628.8 2185.1L628.8 2168.3L628.9 2183.6L628.9 2172.1L629 2157.6L629.1 2181L629.1 2137.9L629.3 2176.8L629.3 2089.2L629.4 2194.9L629.4 2206.9L629.5 2151.3L629.5 2208.4L629.7 2115.6L629.7 2206.8L629.9 2121.8L630.2 2111.8L630.4 2144.5L630.5 2200.4L630.6 2133.7L630.7 2257L630.9 2129.5L630.9 2226.5L631.1 2193.5L631.1 2205.5L631.2 2114.3L631.4 2190.3L631.4 2230L631.5 2181.6L631.5 2147.7L631.6 2093L631.7 2199.9L631.7 2150.8L631.9 2140.7L631.9 2219.1L631.9 2224.9L632.1 2192.6L632.2 2181L632.3 2150L632.4 2134.2L632.4 2200.4L632.5 2092.4L632.7 2193.8L633 2118.1L633 2145.1L633.1 2192.6L633.2 2205L633.3 2093.2L633.4 2172.2L633.4 2190.2L633.5 2142.5L633.6 2093.2L633.7 2176.3L634 2134.7L634 2098.9L634.1 2097L634.2 2098.8L634.2 2206L634.3 2157.1L634.4 2212.7L634.4 2159.5L634.5 2188.6L634.7 2111.1L634.7 2158L634.8 2191.1L635 2226.2L635 2184.8L635.1 2142.4L635.1 2139.1L635.1 2189.6L635.2 2082.5L635.5 2213.2L635.7 2112.4L635.8 2205.6L635.9 2151.7L636.1 2203.1L636.3 2165.3L636.3 2216.3L636.4 2149.2L636.5 2087.5L636.5 2200.8L636.6 2192.1L636.7 2109.4L636.8 2106.2L637 2204.2L637.3 2200.7L637.3 2124.7L637.4 2123.3L637.5 2180.9L637.5 2172.8L637.6 2219L637.6 2224.9L637.7 2190.7L637.7 2290.4L637.8 2177.7L637.8 2188.2L637.8 2124.7L637.9 2246.5L637.9 2184.6L638 2144.7L638.1 2170.5L638.1 2192.7L638.2 2165.1L638.2 2160L638.2 2126.2L638.3 2180.5L638.3 2237.4L638.3 2211.2L638.4 2180.4L638.5 2212L638.7 2239.3L638.8 2209.6L638.8 2151.3L638.8 2164.4L639.1 2123.2L639.1 2088.2L639.3 2072.5L639.4 2098L639.5 2210.9L639.6 2093.8L639.8 2202.5L639.9 2171.4L640.1 2103.1L640.3 2093L640.6 2192.1L640.7 2154.2L641.2 2171.6L641.3 2162.8L641.5 2081.8L641.7 2222.1L641.9 2130.2L642 2209.7L642 2110L642.3 2128.6L642.4 2140.7L642.6 2197.1L642.7 2251L642.8 2151.9L642.8 2197.3L642.9 2150.6L643.2 2201.9L643.4 2152.2L643.4 2188.1L643.4 2200.1L643.5 2180.3L643.5 2195.6L643.6 2086.5L643.6 2091.3L643.6 2165.2L643.7 2194L643.9 2202.6L643.9 2203.6L644 2206.6L644 2163L644.2 2187L644.2 2090.7L644.2 2091.2L644.3 2164.5L644.3 2111.7L644.4 2199.2L644.5 2196.7L644.6 2128.6L644.7 2154.3L645.1 2153.2L645.4 2118.5L645.5 2225.7L645.6 2138.3L645.6 2132.3L646 2208.3L646.1 2125.6L646.2 2145.7L646.6 2087.2L646.7 2148.6L646.9 2129.3L647.2 2194L647.3 2211.9L647.5 2225.3L647.5 2130L647.6 2165.8L647.7 2234L647.8 2230.1L647.8 2213.2L647.9 2119.2L648.1 2213L648.4 2123.9L648.5 2115L648.9 2181.5L649 2159.6L649.1 2090.5L649.1 2170.4L649.2 2098.2L649.3 2241.4L649.4 2210.7L649.6 2196.8L649.6 2121.7L649.7 2214.4L649.8 2202.4L649.8 2185.7L650 2199.6L650.4 2130.8L650.4 2088.1L650.4 2123.7L650.6 2270.2L650.6 2088.7L650.7 2211.4L650.9 2160.4L650.9 2197L651 2136.9L651 2206.3L651.1 2179.2L651.2 2255.2L651.3 2164.2L651.4 2208.6L651.4 2192L651.6 2206.5L651.7 2098.1L651.8 2215.8L651.9 2139.8L652 2274.8L652 2212.7L652.2 2104.1L652.3 2220.3L652.4 2174.8L652.8 2184.6L653 2230.6L653 2127.3L653.2 2081.3L653.3 2207L653.4 2220.8L653.5 2114.2L653.5 2129.7L653.6 2173.3L653.7 2147L653.9 2208.9L654 2202.7L654.4 2163.4L654.5 2145.6L654.6 2216.1L654.6 2202.8L654.8 2086L654.8 2103.8L655.2 2134.1L655.5 2120.8L655.6 2232.6L655.6 2183.2L655.7 2214.2L655.8 2086.5L656 2144.4L656.1 2116.4L656.4 2161.6L656.7 2154.8L656.8 2125.8L656.9 2260.8L657.1 2223.7L657.3 2149.7L657.4 2212.7L657.4 2143.3L657.6 2218.4L657.7 2193.7L657.7 2147.3L657.8 2231L657.8 2161.9L658.2 2144L658.4 2193.2L658.5 2123.8L658.6 2134.9L658.8 2134.5L658.9 2283.9L659.2 2131.9L659.3 2149.4L659.3 2222.5L659.6 2138.6L659.9 2212.9L659.9 2091L659.9 2074.5L660 2216.4L660 2090.7L660.2 2124.9L660.5 2128.6L660.6 2116.4L660.7 2154.3L660.7 2228.5L660.8 2221.4L661.2 2120.7L661.4 2142.4L661.4 2066L661.6 2214.6L661.7 2221.9L661.8 2125.9L661.8 2253.4L661.9 2213.4L662 2154L662.1 2137.2L662.1 2197.7L662.2 2198.6L662.4 2226.4L662.4 2124L662.8 2095.8L662.8 2090.2L662.9 2241.2L663 2139.6L663 2194.4L663 2167.2L663 2211.4L663.1 2194.6L663.1 2209.9L663.1 2206.7L663.1 2137.6L663.1 2092.8L663.2 2206.4L663.2 2217.3L663.3 2203.5L663.3 2218.4L663.3 2163.6L663.4 2087L663.5 2195.1L663.5 2092.3L663.6 2263L663.6 2140.7L663.6 2102.2L663.6 2093.3L663.7 2152"/></defs>
<use href="#lng" fill="none" stroke="#0000ff" stroke-width="2.1" stroke-linejoin="bevel"/>
<polygon points="568,2116.7 569,2127.6 570,2116.7 571,2109.9 572,2109.9 573,2099.1 573,2143.4 572,2143.4 571,2143.4 570,2143.4 569,2141.4 568,2136.7" fill="#ff0000" stroke="#ff0000" stroke-width="1.5" stroke-linejoin="round"/>
<polygon points="575,2078.7 576,2078.7 577,2078.7 578,2078.7 579,2078.7 580,2078.7 581,2053.8 582,2041.2 583,2038.8 584,2038.8 585,2038.8 586,2029.9 586,2049 585,2049 584,2064.4 583,2064.4 582,2073.8 581,2074 580,2087.3 579,2087.3 578,2105.2 577,2105.2 576,2111.2 575,2102.3" fill="#ff0000" stroke="#ff0000" stroke-width="1.5" stroke-linejoin="round"/>
<polygon points="588,2052.5 589,2052.5 590,2052.7 591,2054 591,2072.7 590,2075.7 589,2064.8 588,2064.8" fill="#ff0000" stroke="#ff0000" stroke-width="1.5" stroke-linejoin="round"/>
<polygon points="593,2069.7 594,2069.7 595,2070.7 596,2071.2 597,2076 598,2115.1 599,2111.8 600,2103.2 601,2103.2 602,2106.1 603,2106.1 604,2107.3 605,2107.3 606,2130.1 607,2112.5 608,2112.5 609,2106.7 610,2109 611,2109 612,2109 613,2098.7 614,2124.5 615,2095.8 616,2100.4 617,2094.6 618,2110.2 619,2110.2 620,2098.5 621,2098.5 622,2098.5 623,2104.3 624,2104.3 625,2103.5 626,2095.9 627,2095.3 628,2095.3 629,2093.6 630,2093 631,2089.2 632,2092.4 633,2097 634,2103.9 635,2091.8 636,2091.8 637,2087.5 638,2087.5 639,2088.2 640,2088.2 641,2088.2 642,2090.6 643,2090.7 644,2090.7 645,2090.7 646,2090.7 647,2090.5 648,2094.6 649,2094.1 650,2094.1 651,2088.1 652,2084.9 653,2081.3 654,2081.3 655,2081.3 656,2095 657,2094.1 658,2090.7 659,2090.7 660,2090.7 661,2088.6 662,2087 663,2099.4 664,2102.2 664,2189.1 663,2189.1 662,2198.6 661,2216.4 660,2216.4 659,2212.9 658,2193.9 657,2193.7 656,2202.8 655,2202.8 654,2202.8 653,2202.8 652,2202.7 651,2192 650,2192 649,2202.4 648,2202.4 647,2197.8 646,2199.2 645,2190.3 644,2188.1 643,2188.1 642,2209.7 641,2198.5 640,2198.5 639,2195.8 638,2165.6 637,2193 636,2192.7 635,2184.8 634,2184.8 633,2184.8 632,2181.6 631,2183.6 630,2185.1 629,2168.8 628,2189.9 627,2174.4 626,2174.4 625,2174.4 624,2170.2 623,2169.5 622,2189 621,2189 620,2185.2 619,2185.2 618,2174.8 617,2181.3 616,2181.3 615,2177.1 614,2177.1 613,2173.4 612,2177.2 611,2186.1 610,2178.3 609,2184.6 608,2184.6 607,2181.5 606,2175.7 605,2170.8 604,2169.2 603,2170.6 602,2166.1 601,2166.1 600,2151.6 599,2145.5 598,2126.3 597,2112.2 596,2112.2 595,2097.7 594,2118 593,2096.4" fill="#ff0000" stroke="#ff0000" stroke-width="1.5" stroke-linejoin="round"/>
<use href="#lng" fill="none" stroke="none" style="marker-start:url(#mk);marker-mid:url(#mk);marker-end:url(#mk)"/>
<g stroke="#1a1a1a" fill="none">
<path stroke-width="1.7" d="M114.7 2316v-8M196.6 2316v-8M278.6 2316v-8M360.6 2316v-8M442.5 2316v-8M524.5 2316v-8M606.4 2316v-8M115 1922h8M115 2020.5h8M115 2119h8M115 2217.5h8M115 2316h8"/>
<path stroke-width="1.7" d="M139.4 2316v-4.5M153.8 2316v-4.5M164 2316v-4.5M172 2316v-4.5M178.5 2316v-4.5M184 2316v-4.5M188.7 2316v-4.5M192.9 2316v-4.5M221.3 2316v-4.5M235.8 2316v-4.5M246 2316v-4.5M253.9 2316v-4.5M260.4 2316v-4.5M265.9 2316v-4.5M270.7 2316v-4.5M274.9 2316v-4.5M303.3 2316v-4.5M317.7 2316v-4.5M327.9 2316v-4.5M335.9 2316v-4.5M342.4 2316v-4.5M347.9 2316v-4.5M352.6 2316v-4.5M356.8 2316v-4.5M385.2 2316v-4.5M399.7 2316v-4.5M409.9 2316v-4.5M417.8 2316v-4.5M424.3 2316v-4.5M429.8 2316v-4.5M434.6 2316v-4.5M438.8 2316v-4.5M467.2 2316v-4.5M481.6 2316v-4.5M491.8 2316v-4.5M499.8 2316v-4.5M506.3 2316v-4.5M511.8 2316v-4.5M516.5 2316v-4.5M520.7 2316v-4.5M549.1 2316v-4.5M563.6 2316v-4.5M573.8 2316v-4.5M581.7 2316v-4.5M588.2 2316v-4.5M593.7 2316v-4.5M598.5 2316v-4.5M602.7 2316v-4.5M631.1 2316v-4.5M645.5 2316v-4.5M655.7 2316v-4.5M663.7 2316v-4.5M670.2 2316v-4.5M115 2286.3h4.5M115 2269h4.5M115 2256.7h4.5M115 2247.2h4.5M115 2239.4h4.5M115 2232.8h4.5M115 2227h4.5M115 2222h4.5M115 2187.8h4.5M115 2170.5h4.5M115 2158.2h4.5M115 2148.7h4.5M115 2140.9h4.5M115 2134.3h4.5M115 2128.5h4.5M115 2123.5h4.5M115 2089.3h4.5M115 2072h4.5M115 2059.7h4.5M115 2050.2h4.5M115 2042.4h4.5M115 2035.8h4.5M115 2030h4.5M115 2025h4.5M115 1990.8h4.5M115 1973.5h4.5M115 1961.2h4.5M115 1951.7h4.5M115 1943.9h4.5M115 1937.3h4.5M115 1931.5h4.5M115 1926.5h4.5M115 1892.3h4.5M115 1875h4.5"/>
<rect x="115" y="1868.5" width="556" height="447.5" stroke-width="2.3"/>
</g>
<g font-size="20.4">
<text x="114.7" y="2343.3" text-anchor="middle">1E-4</text>
<text x="196.6" y="2343.3" text-anchor="middle">0.001</text>
<text x="278.6" y="2343.3" text-anchor="middle">0.01</text>
<text x="360.6" y="2343.3" text-anchor="middle">0.1</text>
<text x="442.5" y="2343.3" text-anchor="middle">1</text>
<text x="524.5" y="2343.3" text-anchor="middle">10</text>
<text x="606.4" y="2343.3" text-anchor="middle">100</text>
<text x="106" y="1928.8" text-anchor="end">0.001</text>
<text x="106" y="2027.3" text-anchor="end">1E-4</text>
<text x="106" y="2125.8" text-anchor="end">1E-5</text>
<text x="106" y="2224.3" text-anchor="end">1E-6</text>
<text x="106" y="2322.8" text-anchor="end">1E-7</text>
</g>
<text x="392.5" y="2380.8" font-size="25.3" text-anchor="middle">Frequency(Hz)</text>
<text transform="translate(46.3 2093) rotate(-90)" font-size="25.3" text-anchor="middle">Power/Frequency(W/Hz)</text>
<text x="73.5" y="2441" font-size="36.5" fill="#000" stroke="#000" stroke-width=".25">(g) 0.3 Hz frequency domain response</text>
<rect x="520.5" y="1895.5" width="120" height="32" fill="#fff" stroke="#8a8a8a" stroke-width="1.2"/>
<path d="M524 1911.5H575" stroke="#0000ff" stroke-width="1.8"/>
<rect x="547.9" y="1909.9" width="3.2" height="3.2" fill="#ff0000"/>
<text x="582.5" y="1919.3" font-size="23.2">0.3Hz</text>
</g>
<g id="panel-h">
<defs><path id="lnh" d="M1022.8 1911.5L1057.8 1875.5L1078.2 1875.5L1092.7 1912.5L1104 1916L1113.2 1942L1121 1961.5L1127.7 1941L1133.6 1952.5L1138.9 1961L1143.8 1961L1148.1 1961L1152.2 1963.6L1155.9 1965.7L1159.4 1969.9L1162.6 1973.6L1165.7 1977.5L1168.6 1978.5L1171.3 1983.1L1173.9 1981.8L1176.4 1985.2L1178.7 1986.3L1180.9 1989.8L1183.1 1990.1L1185.2 1992.1L1187.1 1992.1L1189 1994.6L1190.9 1995.8L1192.6 1997.1L1194.3 2000.9L1196 2001.2L1197.6 2003.6L1199.1 2002.3L1200.7 2001.9L1202.1 2001.3L1203.5 2006.1L1204.9 2017.1L1206.3 2003.4L1207.6 2012.3L1208.8 2008L1210.1 2009.6L1211.3 2012.9L1212.5 2006.6L1213.7 2016.6L1214.8 2017.2L1215.9 2016.4L1217 2003.5L1218 2012.5L1219.1 2013L1220.1 2021.1L1221.1 2016.3L1222.1 2017.1L1223 2027.1L1224 2019.9L1224.9 2016.9L1225.8 2018.3L1226.7 2021.8L1227.6 2027.3L1228.4 2026.2L1229.3 2025.4L1230.1 2029.1L1230.9 2008.8L1231.8 2027.4L1232.5 2029.8L1233.3 2039.1L1234.1 2020.6L1234.9 2034.3L1235.6 2030.8L1236.3 2017.6L1237.1 2028.3L1237.8 2028.7L1238.5 2028L1239.2 2043.2L1239.9 2011.3L1240.5 2023.8L1241.2 2007.3L1241.9 2042.7L1242.5 2037L1243.2 2030L1243.8 2025.5L1244.4 2028.1L1245 2050.1L1245.7 2029.4L1246.3 2009.6L1246.9 2064.2L1247.4 2028.6L1248 2043.7L1248.6 2035.5L1249.2 2051.2L1249.7 2028.6L1250.3 2041.9L1250.8 2043.7L1251.4 2056.5L1251.9 2025.2L1252.5 2036.9L1253 2050.9L1253.5 2050.5L1254 2065.6L1254.5 2064L1255 2055.8L1255.6 2062.5L1256 2014.2L1256.5 2019.6L1257 2017.5L1257.5 2049.4L1258 2050.3L1258.5 2074.2L1258.9 2062.5L1259.4 2041.9L1259.9 2038.5L1260.3 2029.5L1260.8 2019.9L1261.2 2119L1261.7 2055.4L1262.1 2029.9L1262.5 2055L1263 2035.1L1263.4 2044.7L1263.8 2059.5L1264.2 2080.4L1264.7 2058.5L1265.1 2024.7L1265.5 2047.9L1265.9 2053.5L1266.3 2050.4L1266.7 2052.1L1267.1 2055L1267.5 2042.5L1267.9 2091.9L1268.3 2048.9L1268.7 2055.4L1269 2059.5L1269.4 2040.6L1269.8 2054.9L1270.2 2047.9L1270.6 2052.7L1270.9 2062.7L1271.3 2060.7L1271.7 2032L1272 2077.2L1272.4 2037L1272.7 2067L1273.1 2052.6L1273.4 2063.5L1273.8 2054.8L1274.1 2048.1L1274.5 2031.7L1274.8 2051.2L1275.2 2059.1L1275.5 2069L1275.8 2074L1276.2 2045.1L1276.5 2050.2L1276.8 2047.4L1277.1 2051.7L1277.5 2048.6L1277.8 2072.7L1278.1 2040.8L1278.4 2076.8L1278.7 2052.5L1279.1 2059.3L1279.4 2045.8L1279.7 2053.7L1280 2050.1L1280.3 2053.9L1280.6 2093.6L1280.9 2044.3L1281.2 2048.2L1281.5 2073.3L1281.8 2045.3L1282.1 2055.6L1282.4 2045.3L1282.7 2061L1283 2057.3L1283.3 2067.5L1283.6 2038.7L1283.8 2053.9L1284.1 2038.9L1284.4 2053.7L1284.7 2043.8L1285 2131.8L1285.2 2049.9L1285.5 2050.9L1285.8 2062.9L1286.1 2082.3L1286.3 2059.4L1286.6 2048L1286.9 2054L1287.1 2113.3L1287.4 2049.7L1287.7 2041.1L1287.9 2053.2L1288.2 2062.5L1288.5 2062.6L1288.7 2104.4L1289 2046.3L1289.2 2053.3L1289.5 2045.3L1289.7 2062.7L1290 2090.7L1290.3 2055.1L1290.5 2057.2L1290.7 2066.2L1291 2072.9L1291.2 2057.8L1291.5 2056.7L1291.7 2065.8L1292 2068.6L1292.2 2048.3L1292.5 2050.9L1292.7 2074L1292.9 2039.4L1293.2 2063.2L1293.4 2114.1L1293.6 2087.2L1293.9 2049.8L1294.1 2035.9L1294.3 2058.5L1294.6 2079.4L1294.8 2062.1L1295 2059.1L1295.3 2074.2L1295.5 2049L1295.7 2065.7L1295.9 2076.3L1296.2 2082.6L1296.4 2036.9L1296.6 2048.8L1296.8 2081.3L1297 2093.3L1297.3 2077.4L1297.5 2057.2L1297.7 2058.2L1297.9 2049.9L1298.1 2043.4L1298.3 2043.6L1298.6 2040.9L1298.8 2055.7L1299 2040.2L1299.2 2043.9L1299.4 2055.8L1299.6 2047.5L1299.8 2075L1300 2047.6L1300.2 2048.9L1300.4 2045.7L1300.6 2040.1L1300.8 2057.5L1301 2037.5L1301.3 2086.8L1301.5 2038.7L1301.7 2036.9L1301.9 2037.8L1302.1 2041.4L1302.2 2042.8L1302.4 2033.9L1302.6 2035.3L1302.8 2032.6L1303 2029.1L1303.2 2031.1L1303.4 2063.4L1303.6 2061.6L1303.8 2032.1L1304 2023.1L1304.2 2045L1304.4 2029.1L1304.6 2020.4L1304.8 2014.5L1304.9 2016L1305.1 2014L1305.3 2011.9L1305.5 2007L1305.7 2007.3L1305.9 2009.5L1306.1 2021.3L1306.2 1999.3L1306.4 1997L1306.6 2063.5L1306.8 1972.8L1307 1938L1307.1 1973.4L1307.3 1976.8L1307.5 1990.4L1307.7 2003.1L1307.9 2064.2L1308 2008.7L1308.2 2011.7L1308.4 2063.6L1308.6 2008.9L1308.7 2011.5L1308.9 2011.1L1309.1 2028.5L1309.3 2031.7L1309.4 2034.1L1309.6 2025.5L1309.8 2033.3L1309.9 2029.6L1310.1 2027.3L1310.3 2027.9L1310.4 2026L1310.6 2030.3L1310.8 2039L1310.9 2050.7L1311.1 2040.4L1311.3 2030.5L1311.4 2030.7L1311.6 2050.5L1311.8 2036.7L1311.9 2033.9L1312.1 2086L1312.3 2035L1312.4 2038.9L1312.6 2099L1312.7 2057L1312.9 2041.2L1313.1 2039.8L1313.2 2038.9L1313.4 2044.6L1313.5 2057.4L1313.7 2042.9L1313.9 2074.8L1314 2066.2L1314.2 2060.1L1314.3 2052.5L1314.5 2056.4L1314.6 2044.2L1314.8 2048.7L1314.9 2041.2L1315.1 2048.9L1315.2 2044.4L1315.4 2044.4L1315.6 2098.7L1315.7 2046.5L1315.9 2045.1L1316 2056.2L1316.2 2043.8L1316.3 2071.7L1316.5 2043.1L1316.6 2066.3L1316.8 2027.2L1316.9 2059.8L1317.1 2070.2L1317.2 2089.3L1317.3 2055.4L1317.5 2089.6L1317.6 2046.1L1317.8 2078.1L1317.9 2115L1318.1 2091.9L1318.2 2073.2L1318.4 2084.6L1318.5 2066L1318.6 2074.4L1318.8 2072.2L1318.9 2078.9L1319.1 2072L1319.2 2047.7L1319.4 2068.6L1319.5 2085.4L1319.6 2088.2L1319.8 2080.6L1319.9 2086.1L1320.1 2076L1320.2 2055.5L1320.3 2067L1320.5 2093.1L1320.6 2068.5L1320.7 2086.4L1320.9 2076.9L1321 2066.4L1321.2 2088.4L1321.3 2076.1L1321.4 2091.8L1321.6 2072.2L1321.7 2060.2L1321.8 2062.6L1322 2126.3L1322.1 2066.6L1322.2 2091.6L1322.4 2073.1L1322.5 2070.8L1322.6 2091.3L1322.8 2097L1322.9 2055.5L1323 2075.2L1323.2 2068.7L1323.3 2087.7L1323.4 2068.1L1323.5 2069.3L1323.7 2065.3L1323.8 2090.5L1323.9 2081.5L1324.1 2055.7L1324.2 2079.2L1324.3 2071.9L1324.4 2061.7L1324.6 2060.5L1324.7 2041.9L1324.8 2079.2L1324.9 2071L1325.1 2086.4L1325.2 2072.5L1325.3 2074.6L1325.5 2049.8L1325.6 2082.8L1325.7 2083.7L1325.8 2075.4L1325.9 2075.9L1326.1 2150.8L1326.2 2065.5L1326.3 2082.3L1326.4 2070.6L1326.6 2064.1L1326.7 2080.3L1326.8 2052.9L1326.9 2069.7L1327 2059.7L1327.2 2097.4L1327.3 2067.5L1327.4 2072.7L1327.5 2099L1327.6 2093.4L1327.8 2072.5L1327.9 2056.8L1328 2064.5L1328.1 2053.8L1328.2 2067.1L1328.4 2090.3L1328.5 2056.6L1328.6 2065.8L1328.7 2069.6L1328.8 2083.1L1328.9 2067.6L1329.1 2082.9L1329.2 2071.7L1329.3 2065.4L1329.4 2066L1329.5 2101.1L1329.6 2083.8L1329.8 2064.3L1329.9 2085.1L1330 2055.8L1330.1 2100.7L1330.2 2086.4L1330.3 2064.2L1330.4 2089.7L1330.6 2079.2L1330.7 2080.2L1330.8 2061.7L1330.9 2093.8L1331.1 2080.6L1331.2 2050.5L1331.3 2083.7L1331.4 2072.5L1331.6 2069.7L1331.7 2093.2L1331.8 2091.6L1331.9 2078.6L1332 2080L1332.2 2107.7L1332.3 2054.7L1332.4 2062.9L1332.5 2065.1L1332.6 2085.1L1332.8 2091.7L1332.9 2060.2L1333 2085.2L1333.1 2062L1333.2 2068.2L1333.3 2083.3L1333.4 2079.4L1333.5 2085.1L1333.6 2086.8L1333.7 2054.1L1333.8 2110.7L1333.9 2075.8L1334 2076.5L1334.1 2084.2L1334.2 2098.7L1334.4 2054L1334.5 2060.9L1334.6 2069.1L1334.7 2062L1334.8 2090.1L1334.9 2094.3L1335 2056.7L1335.1 2044.5L1335.2 2103.9L1335.3 2061.5L1335.4 2074.5L1335.6 2076.6L1335.7 2084.3L1335.8 2064.1L1336.1 2067.6L1336.2 2095.3L1336.3 2069.6L1336.5 2082.7L1336.7 2066.6L1336.8 2093.3L1336.9 2054.9L1337 2098.7L1337.1 2090.8L1337.2 2077.5L1337.3 2072.3L1337.4 2098.2L1337.5 2117.8L1337.6 2060.8L1337.7 2097.6L1337.8 2094.1L1338 2064L1338.1 2071.6L1338.2 2080.6L1338.3 2079.1L1338.4 2056.7L1338.5 2107.7L1338.6 2056.9L1338.7 2081.3L1338.8 2092.4L1338.9 2079.7L1338.9 2061.4L1339 2096L1339.1 2080.7L1339.2 2066.9L1339.3 2069.8L1339.4 2086.4L1339.5 2206.8L1339.6 2082.4L1339.7 2099L1339.8 2069.3L1339.9 2071L1340 2085.1L1340.1 2078.3L1340.2 2081.1L1340.3 2073.6L1340.4 2084.5L1340.5 2062L1340.7 2084.3L1340.8 2057L1340.9 2050.8L1341 2072L1341.1 2097.4L1341.3 2108.9L1341.4 2090.3L1341.6 2065.6L1341.6 2063L1341.8 2078.7L1341.9 2092.7L1342.2 2060L1342.3 2076.5L1342.4 2064.7L1342.5 2065.1L1342.5 2065.2L1342.6 2094.2L1342.7 2049.6L1342.8 2085.8L1342.9 2087.7L1343.1 2083.4L1343.2 2071.9L1343.3 2077.3L1343.4 2083.1L1343.5 2045.9L1343.6 2076.1L1343.7 2056.9L1343.8 2086.3L1343.9 2180.3L1343.9 2059.6L1344 2066.6L1344.1 2093.7L1344.2 2070.6L1344.3 2084.9L1344.5 2072.7L1344.5 2057.5L1344.7 2092.4L1344.8 2068.7L1345.1 2078.6L1345.1 2097.6L1345.3 2067.4L1345.4 2058.1L1345.5 2102.2L1345.6 2085.3L1345.7 2042L1345.8 2080.8L1346.1 2067.3L1346.2 2062.8L1346.4 2072.5L1346.6 2116.6L1346.6 2067.1L1346.7 2092.9L1347 2066.3L1347 2074.4L1347.1 2049.4L1347.2 2055.9L1347.4 2065.7L1347.5 2082.3L1347.6 2097L1347.7 2049.6L1347.8 2082.7L1347.9 2069.4L1347.9 2075.4L1348 2083.1L1348.1 2081.7L1348.2 2072L1348.5 2087.2L1348.6 2085L1348.6 2060.2L1348.8 2067.9L1348.9 2104.9L1349 2060.6L1349 2072.4L1349.1 2090.1L1349.2 2098.7L1349.3 2085.6L1349.4 2089.9L1349.4 2098.2L1349.5 2041.7L1349.6 2074L1349.7 2074.2L1349.7 2093.4L1350 2066.1L1350.1 2056L1350.2 2086.7L1350.3 2107.3L1350.4 2060.4L1350.4 2118.3L1350.5 2065.1L1350.6 2088.4L1350.7 2095.7L1350.9 2094.3L1351 2093.7L1351.3 2064.6L1351.3 2087.3L1351.4 2080.8L1351.6 2076.5L1351.7 2112.7L1351.8 2054.4L1351.9 2069L1351.9 2111.2L1352 2083.5L1352.1 2104.1L1352.1 2082.4L1352.2 2063.1L1352.4 2100.3L1352.4 2057.8L1352.6 2077.5L1352.8 2066.2L1352.9 2074.8L1353 2063.9L1353.1 2076.5L1353.4 2036.8L1353.7 2059.7L1353.8 2082L1353.9 2108.7L1354 2175.7L1354.1 2132.4L1354.2 2095.7L1354.2 2079.9L1354.4 2122.1L1354.6 2057.7L1354.7 2073.7L1354.7 2133.9L1354.8 2066.9L1355 2066.9L1355.1 2075.1L1355.3 2108.2L1355.4 2088.4L1355.4 2104L1355.7 2099.1L1355.8 2090.1L1356 2082.5L1356.2 2068.3L1356.4 2080L1356.5 2060.2L1356.6 2077.5L1356.8 2102.1L1356.9 2059.2L1357 2062.7L1357 2101L1357.1 2059.3L1357.2 2097.4L1357.3 2075.6L1357.4 2071.4L1357.4 2073.5L1357.6 2059.4L1357.8 2108.4L1357.8 2112.9L1357.9 2077L1358 2111.7L1358.2 2091.9L1358.4 2089.6L1358.6 2129.8L1358.8 2093L1358.9 2083.8L1359.1 2106.8L1359.2 2065.4L1359.3 2152.1L1359.3 2103.2L1359.4 2061.6L1359.5 2096.6L1359.6 2096.8L1359.6 2069.5L1359.7 2121.6L1359.8 2125.3L1359.8 2117.4L1360 2086.2L1360.1 2089L1360.3 2101L1360.4 2063.8L1360.5 2107L1360.5 2061.8L1360.6 2154.8L1360.8 2063.4L1360.9 2088.6L1361 2076.3L1361 2113.7L1361.1 2089.9L1361.3 2097.6L1361.4 2076.9L1361.5 2066L1361.7 2061.9L1361.8 2115.7L1362 2094.4L1362.1 2055.1L1362.1 2116L1362.2 2063.9L1362.2 2100.5L1362.3 2068.1L1362.4 2080.5L1362.8 2096.4L1362.9 2087L1363.1 2086.1L1363.4 2088.2L1363.7 2072.2L1363.9 2062.2L1364.1 2085.6L1364.2 2056.5L1364.3 2061.4L1364.5 2090.2L1364.6 2093.2L1364.8 2047.6L1364.9 2089.2L1365 2090.2L1365.2 2103.5L1365.4 2108.2L1365.4 2119.2L1365.6 2088.5L1365.8 2078.7L1365.8 2063.7L1365.9 2048.6L1365.9 2060.8L1366 2108.2L1366.1 2075L1366.1 2112.1L1366.2 2099.7L1366.3 2064.2L1366.3 2115.9L1366.4 2065L1366.6 2123.4L1366.7 2115.4L1366.8 2130.4L1366.8 2092.8L1366.9 2085.4L1366.9 2057.6L1367 2096.6L1367.1 2051.9L1367.1 2119.5L1367.2 2053.4L1367.3 2064.9L1367.3 2044.2L1367.4 2066.1L1367.5 2075.9L1367.6 2092.8L1367.7 2059.3L1367.9 2067.2L1367.9 2082.5L1368.1 2119L1368.2 2104.1L1368.2 2052.6L1368.3 2043.9L1368.4 2073.6L1368.4 2050.2L1368.5 2055.6L1368.5 2106.6L1368.6 2115.1L1368.6 2089.7L1368.8 2072.6L1368.9 2057L1369 2082.8L1369.1 2131.2L1369.3 2102.8L1369.4 2067.2L1369.5 2116L1369.6 2080.5L1370.1 2077.5L1370.2 2079.8L1370.4 2133.9L1370.7 2091.3L1370.8 2056.5L1371 2090.8L1371.1 2079.3L1371.2 2179L1371.4 2075.7L1371.6 2047.4L1371.8 2095.8L1372 2097.7L1372 2125.6L1372.2 2102.1L1372.4 2051.5L1372.5 2070.8L1372.6 2051.8L1372.7 2107.5L1372.8 2100.1L1373 2206.6L1373 2108.5L1373.1 2054.9L1373.3 2078.4L1373.4 2113L1373.5 2058.6L1373.7 2133.6L1373.7 2067.3L1373.8 2139.4L1374 2080.1L1374.2 2058.2L1374.3 2047L1374.4 2112.1L1374.5 2051.8L1374.6 2100L1374.6 2117.9L1374.7 2106.9L1374.7 2076L1374.8 2078.2L1375 2105L1375.1 2096.1L1375.2 2074L1375.2 2108.3L1375.4 2100.8L1375.5 2048L1375.5 2124.6L1375.6 2110.9L1375.7 2058.7L1375.7 2071.2L1375.8 2062.1L1375.8 2077.4L1376 2135.8L1376 2087.5L1376.1 2057.1L1376.1 2075.2L1376.2 2112.4L1376.4 2082.4L1376.5 2126.1L1376.6 2055L1376.7 2128.3L1376.8 2120.5L1376.8 2085.1L1376.9 2107.7L1377.3 2104.1L1377.4 2065.8L1377.4 2116.4L1377.7 2068L1377.7 2081.3L1378.1 2160.5L1378.2 2085.2L1378.2 2061L1378.3 2096.5L1378.5 2056.4L1378.6 2112.1L1378.7 2071.2L1378.8 2055.4L1378.9 2049.3L1379 2102.5L1379.2 2084.7L1379.7 2069L1379.7 2052.5L1380.2 2120L1380.3 2067.9L1380.3 2067.3L1380.4 2123.5L1380.6 2074.3L1380.8 2105.1L1381.1 2072.8L1381.2 2106L1381.3 2136.2L1381.4 2128.2L1381.6 2074.5L1381.6 2115L1381.9 2086.2L1382.1 2055L1382.4 2054.2L1382.5 2124.3L1382.6 2062.7L1382.7 2119.6L1383 2070.6L1383.2 2080.2L1383.6 2126L1383.7 2078.1L1383.8 2099.5L1383.9 2050.5L1384.1 2083.9L1384.3 2066.7L1384.5 2086.2L1384.5 2081.1L1384.6 2055.2L1385 2095.9L1385 2125.2L1385.3 2096.6L1385.6 2095L1385.7 2075.7L1385.9 2066.8L1385.9 2120.2L1386.1 2103.3L1386.2 2077.7L1386.2 2133.7L1386.4 2105.1L1386.5 2140.8L1386.7 2062.5L1386.9 2108.5L1386.9 2125.9L1387 2101.9L1387.4 2074.7L1387.4 2060.1L1387.5 2083.1L1387.8 2109L1387.9 2133.6L1388 2114L1388.1 2097.9L1388.2 2115.1L1388.2 2114.4L1388.3 2084.9L1388.4 2118.8L1388.6 2065.3L1388.7 2055.1L1388.8 2117.9L1388.8 2091L1388.9 2099.3L1389 2133.8L1389.3 2115.1L1389.3 2086.3L1389.6 2083.4L1389.6 2080.5L1389.8 2048L1389.9 2122.8L1390 2059.4L1390.3 2101.3L1390.6 2090.6L1390.7 2114.2L1390.7 2061.8L1390.8 2125.3L1391 2119.8L1391.1 2054L1391.2 2121.6L1391.3 2096.8L1391.5 2082.5L1391.6 2110.4L1391.6 2141.3L1391.7 2104.5L1391.8 2110.2L1391.8 2128.6L1391.9 2108.3L1392 2051.4L1392.1 2123.4L1392.4 2117.7L1392.4 2060.2L1392.6 2041.6L1392.6 2050.1L1392.6 2089.6L1392.7 2143.4L1392.8 2050.1L1392.8 2132.9L1392.9 2101.1L1392.9 2060.5L1393.7 2055.3L1393.7 2085L1393.8 2120.1L1393.8 2096.5L1393.9 2125.1L1394 2058.2L1394.2 2085L1394.5 2076.7L1394.5 2119.7L1394.6 2065.1L1395.1 2080.7L1395.2 2123.6L1395.2 2130.6L1395.3 2071.4L1395.5 2071.1L1395.7 2077.5L1396 2114.6L1396.1 2140.1L1396.1 2047.9L1396.3 2085.3L1396.4 2099.4L1396.6 2126.6L1397 2136.5L1397.1 2089.3L1397.2 2068.4L1397.3 2049.3L1397.4 2047.7L1397.6 2093.7L1397.7 2064.4L1397.7 2053.2L1397.8 2131.8L1398 2096.1L1398.1 2094.4L1398.2 2054L1398.5 2058.3L1398.5 2089.1L1398.6 2099.1L1398.9 2091.5L1399 2092.4L1399.1 2046.7L1399.5 2130.8L1399.7 2084.6L1399.8 2092.9L1399.8 2168.5L1399.9 2138.3L1400 2075.4L1400.2 2110.8L1400.7 2095.9L1400.7 2118.5L1400.8 2112.5L1400.8 2099.8L1401 2112L1401.1 2131.9L1401.2 2110.2L1401.3 2117.6L1401.3 2065.2L1401.5 2131.8L1401.5 2077.8L1401.5 2124.5L1401.8 2080.5L1401.9 2134.1L1402.1 2116.5L1402.1 2082.7L1402.3 2055.6L1402.4 2110L1402.5 2044.3L1402.5 2046.3L1402.8 2089.7L1402.9 2118.2L1403 2056.1L1403 2124.3L1403.2 2105.5L1403.2 2107.3L1403.4 2118.4L1403.5 2091.5L1403.5 2099.5L1403.5 2132.9L1403.6 2194.5L1403.7 2119.3L1403.8 2127.5L1404 2063.9L1404.1 2129.1L1404.3 2087.4L1404.5 2077.8L1404.8 2107.1L1404.8 2129.1L1404.9 2129.3L1405 2144.1L1405 2055.2L1405.1 2137.4L1405.1 2096.4L1405.1 2111.4L1405.4 2065.1L1405.4 2128.8L1405.5 2101.7L1405.5 2039.4L1405.7 2043.6L1405.9 2078.9L1405.9 2139.2L1406.1 2074.7L1406.3 2123.2L1406.4 2078.6L1406.6 2120.8L1406.6 2048.4L1406.7 2132.7L1406.8 2084.5L1407 2101.6L1407 2039.2L1407.1 2127.6L1407.1 2074.3L1407.3 2160L1407.3 2045.5L1407.4 2070L1407.4 2148.3L1407.5 2092.1L1407.5 2048.6L1407.8 2138L1407.9 2055.5L1408 2096.9L1408.3 2137.2L1408.3 2077.2L1408.4 2123.7L1408.7 2078.8L1408.8 2075.9L1408.9 2099.2L1409.1 2142.8L1409.2 2083.2L1409.4 2162.1L1409.7 2085L1409.7 2069.5L1409.8 2049.7L1410 2130.8L1410.1 2046.5L1410.1 2087.5L1410.2 2051.1L1410.3 2050.2L1410.3 2071.9L1410.4 2072.6L1410.5 2042.8L1410.6 2072.1L1410.9 2167.2L1411.2 2062.5L1411.3 2079.4L1411.5 2125.9L1411.7 2103.3L1411.7 2096.5L1411.8 2126.5L1411.9 2089.2L1412.1 2101L1412.2 2135.4L1412.6 2081.9L1412.6 2102.2L1412.7 2117.4L1412.9 2091.9L1413.1 2098L1413.2 2143.5L1413.3 2137.9L1413.4 2089.5L1413.4 2143L1413.4 2148.8L1413.5 2117.1L1413.5 2122.9L1413.7 2147.9L1413.7 2103.6L1413.9 2124.8L1414 2125.3L1414 2150.8L1414.1 2064.8L1414.1 2046.6L1414.3 2077.7L1414.5 2077L1414.6 2084.5L1414.6 2146.2L1415.1 2071.2L1415.1 2108.6L1415.2 2126.4L1415.4 2086.7L1415.4 2093.8L1415.8 2046.5L1415.8 2138L1416.1 2130.4L1416.1 2066.7L1416.2 2091.8L1416.2 2119.9L1416.5 2133.3L1416.7 2101.7L1416.8 2078.9L1416.9 2099.3L1417.1 2042L1417.1 2064.4L1417.2 2050L1417.3 2120.8L1417.4 2142.3"/></defs>
<use href="#lnh" fill="none" stroke="#0000ff" stroke-width="2.1" stroke-linejoin="bevel"/>
<polygon points="1331,2078.6 1332,2075.8 1333,2075.8 1333,2086.8 1332,2093.8 1331,2093.8" fill="#ff0000" stroke="#ff0000" stroke-width="1.5" stroke-linejoin="round"/>
<polygon points="1335,2074.5 1336,2054 1337,2054.9 1338,2076.5 1339,2077.5 1340,2078.3 1341,2057 1342,2070.5 1343,2076.1 1344,2076.1 1345,2056.9 1346,2055.9 1347,2055.9 1348,2055.9 1349,2059.7 1350,2064.1 1351,2054.4 1352,2074.6 1353,2063.1 1354,2057.7 1355,2057.7 1356,2057.7 1357,2059.2 1358,2059.2 1359,2059.2 1360,2061.6 1361,2061.6 1362,2061.8 1363,2061.4 1364,2060.8 1365,2056.5 1366,2072.2 1367,2072.6 1368,2072.6 1369,2050.2 1370,2061.6 1371,2051.5 1372,2051.5 1373,2051.5 1374,2051.5 1375,2051.8 1376,2065.8 1377,2065.8 1378,2061 1379,2061 1380,2049.3 1381,2049.3 1382,2050.5 1383,2050.5 1384,2061.8 1385,2062.5 1386,2066.4 1387,2060.1 1388,2055.1 1389,2054 1390,2051.4 1391,2048 1392,2048 1393,2050.1 1394,2055.3 1395,2055.3 1396,2056.7 1397,2053.2 1398,2058.3 1399,2053.2 1400,2054 1401,2055.6 1402,2055.6 1403,2055.2 1404,2055.2 1405,2055.2 1406,2055.2 1407,2055.2 1408,2055.5 1409,2055.5 1410,2055.5 1411,2042.8 1412,2042.8 1413,2044.9 1414,2046.5 1415,2053.1 1416,2050 1417,2050 1418,2050 1418,2102.9 1417,2120.8 1416,2120.8 1415,2126.4 1414,2117.4 1413,2118 1412,2126.5 1411,2130.8 1410,2130.8 1409,2130.8 1408,2116.2 1407,2116.6 1406,2123.2 1405,2129.3 1404,2119.3 1403,2119.3 1402,2119.3 1401,2112.5 1400,2134.1 1399,2131.9 1398,2131.8 1397,2131.8 1396,2131.8 1395,2120.1 1394,2120.1 1393,2111 1392,2110.4 1391,2110.4 1390,2110.4 1389,2109 1388,2109 1387,2125.9 1386,2115.1 1385,2120.2 1384,2120.2 1383,2119.6 1382,2120 1381,2120 1380,2120 1379,2120 1378,2120.5 1377,2116.4 1376,2100.8 1375,2100.8 1374,2113 1373,2108.5 1372,2108.5 1371,2108.5 1370,2106.8 1369,2092.9 1368,2119.5 1367,2119.5 1366,2104.1 1365,2103.5 1364,2103.5 1363,2103.5 1362,2089.9 1361,2089.9 1360,2097.6 1359,2097.4 1358,2097.4 1357,2093 1356,2091.4 1355,2104 1354,2104.1 1353,2100.8 1352,2100.3 1351,2090.1 1350,2090.1 1349,2090.1 1348,2075.4 1347,2092.9 1346,2097.6 1345,2093.7 1344,2087.7 1343,2097.6 1342,2097.4 1341,2099 1340,2086.4 1339,2086.4 1338,2086.4 1337,2084.3 1336,2084.3 1335,2095.3" fill="#ff0000" stroke="#ff0000" stroke-width="1.5" stroke-linejoin="round"/>
<use href="#lnh" fill="none" stroke="none" style="marker-start:url(#mk);marker-mid:url(#mk);marker-end:url(#mk)"/>
<g stroke="#1a1a1a" fill="none">
<path stroke-width="1.7" d="M871.8 2316v-8M987.9 2316v-8M1104 2316v-8M1220.1 2316v-8M1336.2 2316v-8M871.5 1932.7h8M871.5 2009.1h8M871.5 2085.5h8M871.5 2161.9h8M871.5 2238.3h8M871.5 2314.7h8"/>
<path stroke-width="1.7" d="M906.7 2316v-4.5M927.2 2316v-4.5M941.7 2316v-4.5M953 2316v-4.5M962.1 2316v-4.5M969.9 2316v-4.5M976.6 2316v-4.5M982.6 2316v-4.5M1022.8 2316v-4.5M1043.3 2316v-4.5M1057.8 2316v-4.5M1069.1 2316v-4.5M1078.2 2316v-4.5M1086 2316v-4.5M1092.7 2316v-4.5M1098.7 2316v-4.5M1138.9 2316v-4.5M1159.4 2316v-4.5M1173.9 2316v-4.5M1185.2 2316v-4.5M1194.3 2316v-4.5M1202.1 2316v-4.5M1208.8 2316v-4.5M1214.8 2316v-4.5M1255 2316v-4.5M1275.5 2316v-4.5M1290 2316v-4.5M1301.3 2316v-4.5M1310.4 2316v-4.5M1318.2 2316v-4.5M1324.9 2316v-4.5M1330.9 2316v-4.5M1371.1 2316v-4.5M1391.6 2316v-4.5M1406.1 2316v-4.5M1417.4 2316v-4.5M1426.5 2316v-4.5M871.5 2291.7h4.5M871.5 2278.2h4.5M871.5 2268.7h4.5M871.5 2261.3h4.5M871.5 2255.2h4.5M871.5 2250.1h4.5M871.5 2245.7h4.5M871.5 2241.8h4.5M871.5 2215.3h4.5M871.5 2201.8h4.5M871.5 2192.3h4.5M871.5 2184.9h4.5M871.5 2178.8h4.5M871.5 2173.7h4.5M871.5 2169.3h4.5M871.5 2165.4h4.5M871.5 2138.9h4.5M871.5 2125.4h4.5M871.5 2115.9h4.5M871.5 2108.5h4.5M871.5 2102.4h4.5M871.5 2097.3h4.5M871.5 2092.9h4.5M871.5 2089h4.5M871.5 2062.5h4.5M871.5 2049h4.5M871.5 2039.5h4.5M871.5 2032.1h4.5M871.5 2026h4.5M871.5 2020.9h4.5M871.5 2016.5h4.5M871.5 2012.6h4.5M871.5 1986.1h4.5M871.5 1972.6h4.5M871.5 1963.1h4.5M871.5 1955.7h4.5M871.5 1949.6h4.5M871.5 1944.5h4.5M871.5 1940.1h4.5M871.5 1936.2h4.5M871.5 1909.7h4.5M871.5 1896.2h4.5M871.5 1886.7h4.5M871.5 1879.3h4.5M871.5 1873.2h4.5M871.5 1868.1h4.5"/>
<rect x="871.5" y="1868.5" width="554.5" height="447.5" stroke-width="2.3"/>
</g>
<g font-size="20.4">
<text x="871.8" y="2341.8" text-anchor="middle">0.01</text>
<text x="987.9" y="2341.8" text-anchor="middle">0.1</text>
<text x="1104" y="2341.8" text-anchor="middle">1</text>
<text x="1220.1" y="2341.8" text-anchor="middle">10</text>
<text x="1336.2" y="2341.8" text-anchor="middle">100</text>
<text x="861" y="1939.5" text-anchor="end">0.001</text>
<text x="861" y="2015.9" text-anchor="end">1E-4</text>
<text x="861" y="2092.3" text-anchor="end">1E-5</text>
<text x="861" y="2168.7" text-anchor="end">1E-6</text>
<text x="861" y="2245.1" text-anchor="end">1E-7</text>
<text x="861" y="2321.5" text-anchor="end">1E-8</text>
</g>
<text x="1149" y="2380.3" font-size="25.2" text-anchor="middle">Frequency(Hz)</text>
<text transform="translate(804.3 2092) rotate(-90)" font-size="25.3" text-anchor="middle">Power/Frequency(W/Hz)</text>
<text x="922" y="2441" font-size="36.5" fill="#000" stroke="#000" stroke-width=".25">(h) 0.5 Hz frequency domain response</text>
<rect x="1285.5" y="1879.5" width="121.5" height="32" fill="#fff" stroke="#8a8a8a" stroke-width="1.2"/>
<path d="M1289.5 1895.5H1341" stroke="#0000ff" stroke-width="1.8"/>
<rect x="1313.4" y="1893.9" width="3.2" height="3.2" fill="#ff0000"/>
<text x="1347.5" y="1903.3" font-size="23.4">0.5Hz</text>
</g>
</svg></body></html>
